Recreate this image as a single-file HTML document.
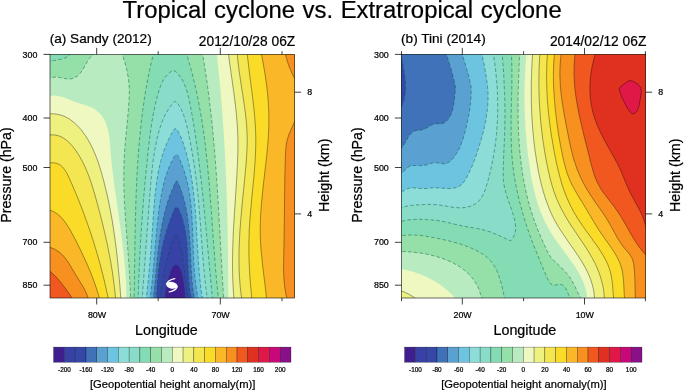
<!DOCTYPE html>
<html><head><meta charset="utf-8"><title>Tropical cyclone vs. Extratropical cyclone</title>
<style>
html,body{margin:0;padding:0;background:#fff;}
svg{display:block;}
text{font-family:"Liberation Sans",sans-serif;fill:#000;stroke:#000;stroke-width:0.22px;}
</style></head><body>
<svg width="685" height="392" viewBox="0 0 685 392">
<rect width="685" height="392" fill="#fff"/>
<defs>
<clipPath id="ca"><rect x="50.0" y="54.4" width="244.6" height="243.6"/></clipPath>
<clipPath id="cb"><rect x="401.4" y="54.4" width="244.3" height="243.6"/></clipPath>
</defs>
<text x="342.1" y="18.4" font-size="23.85" word-spacing="1" text-anchor="middle">Tropical cyclone vs. Extratropical cyclone</text>
<g clip-path="url(#ca)">
<rect x="50.0" y="54.4" width="244.6" height="243.6" fill="#b8ecc0"/>
<path d="M46.8,96.4 L49.8,96.0 L51.8,95.7 L53.8,95.6 L55.8,95.7 L57.7,95.9 L59.7,96.3 L61.5,96.7 L63.4,97.3 L65.3,98.0 L67.2,98.7 L69.0,99.4 L70.9,100.2 L72.8,100.9 L74.7,101.7 L76.6,102.4 L78.6,103.1 L80.6,103.7 L82.6,104.3 L84.6,104.9 L86.5,105.6 L88.5,106.2 L90.4,107.0 L92.2,107.8 L93.9,108.7 L95.6,109.8 L97.1,110.9 L98.6,112.2 L99.9,113.6 L101.2,115.1 L102.3,116.7 L103.4,118.3 L104.4,120.1 L105.3,121.8 L106.0,123.7 L106.7,125.5 L107.3,127.4 L107.9,129.3 L108.3,131.3 L108.7,133.2 L109.0,135.2 L109.3,137.2 L109.6,139.2 L109.8,141.2 L110.0,143.3 L110.1,145.3 L110.3,147.3 L110.4,149.4 L110.6,151.4 L110.8,153.5 L111.0,155.5 L111.1,157.5 L111.3,159.5 L111.5,161.6 L111.7,163.6 L112.0,165.6 L112.2,167.6 L112.4,169.7 L112.7,171.7 L112.9,173.7 L113.1,175.7 L113.4,177.7 L113.6,179.7 L113.9,181.7 L114.2,183.7 L114.4,185.7 L114.7,187.7 L115.0,189.7 L115.2,191.7 L115.5,193.7 L115.8,195.7 L116.1,197.7 L116.4,199.7 L116.7,201.7 L116.9,203.7 L117.2,205.7 L117.5,207.7 L117.8,209.7 L118.1,211.7 L118.4,213.7 L118.7,215.7 L118.9,217.7 L119.2,219.6 L119.5,221.6 L119.8,223.6 L120.1,225.6 L120.4,227.6 L120.6,229.6 L120.9,231.6 L121.2,233.6 L121.4,235.6 L121.7,237.6 L122.0,239.6 L122.2,241.5 L122.5,243.5 L122.7,245.5 L122.9,247.5 L123.2,249.5 L123.4,251.5 L123.6,253.5 L123.8,255.5 L124.0,257.5 L124.2,259.5 L124.4,261.5 L124.6,263.5 L124.8,265.5 L124.9,267.5 L125.1,269.6 L125.3,271.6 L125.4,273.6 L125.5,275.6 L125.7,277.6 L125.8,279.6 L125.9,281.7 L126.0,283.7 L126.1,285.7 L126.1,287.7 L126.2,289.8 L126.2,291.8 L126.3,293.8 L126.3,295.9 L126.3,297.9 L126.3,300.9 L126.3,313.0 L35.0,313.0 L35.0,96.4Z" fill="#eef8c0"/>
<path d="M46.8,114.0 L49.8,113.9 L51.9,113.8 L54.0,113.9 L56.1,114.1 L58.0,114.4 L60.0,114.9 L61.8,115.4 L63.7,116.1 L65.5,116.9 L67.2,117.8 L68.9,118.7 L70.5,119.8 L72.1,121.0 L73.7,122.2 L75.2,123.5 L76.6,124.9 L78.0,126.3 L79.4,127.8 L80.7,129.3 L82.0,130.9 L83.2,132.6 L84.4,134.2 L85.6,135.9 L86.7,137.6 L87.8,139.4 L88.8,141.1 L89.8,142.9 L90.8,144.7 L91.7,146.5 L92.6,148.4 L93.4,150.2 L94.2,152.1 L95.0,154.0 L95.8,155.9 L96.6,157.8 L97.3,159.7 L98.0,161.7 L98.6,163.6 L99.3,165.6 L99.9,167.5 L100.5,169.5 L101.1,171.4 L101.7,173.4 L102.2,175.4 L102.8,177.4 L103.3,179.4 L103.8,181.3 L104.3,183.3 L104.8,185.3 L105.3,187.3 L105.8,189.3 L106.3,191.3 L106.8,193.3 L107.2,195.2 L107.6,197.2 L108.1,199.2 L108.5,201.2 L108.9,203.2 L109.3,205.2 L109.7,207.2 L110.1,209.2 L110.5,211.2 L110.9,213.2 L111.2,215.1 L111.6,217.1 L111.9,219.1 L112.3,221.1 L112.6,223.1 L112.9,225.1 L113.2,227.1 L113.5,229.1 L113.8,231.1 L114.1,233.1 L114.4,235.1 L114.7,237.1 L115.0,239.1 L115.2,241.2 L115.5,243.2 L115.8,245.2 L116.0,247.2 L116.3,249.2 L116.5,251.2 L116.7,253.2 L117.0,255.2 L117.2,257.3 L117.4,259.3 L117.6,261.3 L117.8,263.3 L118.0,265.3 L118.2,267.4 L118.4,269.4 L118.6,271.4 L118.8,273.4 L119.0,275.5 L119.2,277.5 L119.3,279.5 L119.5,281.6 L119.7,283.6 L119.9,285.6 L120.0,287.7 L120.2,289.7 L120.3,291.8 L120.5,293.8 L120.6,295.9 L120.8,297.9 L121.0,300.9 L121.0,313.0 L35.0,313.0 L35.0,114.0Z" fill="#eef080"/>
<path d="M46.8,135.2 L49.8,135.0 L51.9,134.9 L54.0,134.9 L55.9,135.2 L57.8,135.6 L59.7,136.2 L61.5,137.0 L63.2,137.9 L64.8,139.0 L66.4,140.2 L67.9,141.4 L69.4,142.8 L70.8,144.3 L72.2,145.9 L73.5,147.5 L74.8,149.1 L76.0,150.8 L77.2,152.6 L78.3,154.3 L79.4,156.1 L80.4,157.9 L81.4,159.7 L82.4,161.5 L83.3,163.3 L84.2,165.2 L85.1,167.0 L85.9,168.9 L86.7,170.8 L87.5,172.6 L88.2,174.5 L89.0,176.4 L89.6,178.3 L90.3,180.3 L91.0,182.2 L91.6,184.1 L92.2,186.1 L92.9,188.0 L93.4,190.0 L94.0,191.9 L94.6,193.9 L95.2,195.8 L95.7,197.8 L96.3,199.8 L96.8,201.7 L97.4,203.7 L97.9,205.7 L98.4,207.7 L98.9,209.6 L99.5,211.6 L100.0,213.6 L100.5,215.6 L101.0,217.5 L101.5,219.5 L102.0,221.5 L102.5,223.5 L103.0,225.5 L103.5,227.5 L103.9,229.4 L104.4,231.4 L104.9,233.4 L105.3,235.4 L105.8,237.4 L106.2,239.4 L106.7,241.4 L107.1,243.4 L107.5,245.4 L107.9,247.4 L108.3,249.4 L108.7,251.4 L109.1,253.4 L109.5,255.4 L109.9,257.4 L110.2,259.4 L110.6,261.4 L111.0,263.4 L111.3,265.5 L111.6,267.5 L112.0,269.5 L112.3,271.5 L112.6,273.5 L112.9,275.6 L113.2,277.6 L113.4,279.6 L113.7,281.6 L114.0,283.7 L114.2,285.7 L114.5,287.7 L114.7,289.8 L114.9,291.8 L115.1,293.8 L115.3,295.9 L115.5,297.9 L115.8,300.9 L115.8,313.0 L35.0,313.0 L35.0,135.2Z" fill="#f4e650"/>
<path d="M46.8,163.4 L49.8,163.1 L52.1,162.8 L54.1,162.9 L56.1,163.2 L57.8,163.8 L59.4,164.6 L60.9,165.6 L62.3,166.9 L63.6,168.3 L64.7,169.8 L65.8,171.5 L66.8,173.2 L67.8,175.1 L68.7,177.0 L69.6,178.9 L70.5,180.9 L71.3,182.8 L72.2,184.7 L73.0,186.6 L73.8,188.6 L74.6,190.5 L75.4,192.4 L76.2,194.3 L77.0,196.2 L77.8,198.1 L78.6,200.1 L79.3,202.0 L80.1,203.9 L80.8,205.8 L81.6,207.7 L82.3,209.6 L83.0,211.5 L83.7,213.4 L84.4,215.3 L85.1,217.2 L85.8,219.2 L86.5,221.1 L87.2,223.0 L87.9,224.9 L88.6,226.9 L89.2,228.8 L89.9,230.7 L90.5,232.7 L91.2,234.6 L91.8,236.6 L92.4,238.5 L93.1,240.5 L93.7,242.4 L94.3,244.4 L94.9,246.3 L95.5,248.3 L96.1,250.2 L96.7,252.2 L97.3,254.2 L97.8,256.1 L98.4,258.1 L98.9,260.1 L99.5,262.0 L100.0,264.0 L100.6,266.0 L101.1,268.0 L101.6,270.0 L102.1,271.9 L102.6,273.9 L103.1,275.9 L103.6,277.9 L104.1,279.9 L104.6,281.9 L105.0,283.9 L105.5,285.9 L106.0,287.9 L106.4,289.9 L106.8,291.9 L107.3,293.9 L107.7,295.9 L108.1,297.9 L108.7,300.8 L108.7,313.0 L35.0,313.0 L35.0,163.4Z" fill="#fadc28"/>
<path d="M47.0,209.2 L49.8,210.2 L51.8,210.9 L53.6,211.7 L55.4,212.7 L57.1,213.8 L58.6,215.0 L60.1,216.3 L61.5,217.7 L62.9,219.2 L64.1,220.8 L65.4,222.5 L66.5,224.2 L67.7,225.9 L68.8,227.7 L69.8,229.5 L70.9,231.3 L71.9,233.1 L72.9,235.0 L73.9,236.8 L74.9,238.7 L75.8,240.5 L76.8,242.4 L77.7,244.3 L78.6,246.1 L79.5,248.0 L80.5,249.9 L81.3,251.7 L82.2,253.6 L83.1,255.5 L84.0,257.4 L84.9,259.2 L85.7,261.1 L86.6,263.0 L87.4,264.9 L88.2,266.8 L89.0,268.7 L89.8,270.5 L90.6,272.4 L91.4,274.4 L92.1,276.3 L92.9,278.2 L93.6,280.1 L94.3,282.1 L95.0,284.0 L95.6,286.0 L96.3,287.9 L96.9,289.9 L97.6,291.9 L98.2,293.9 L98.7,295.9 L99.3,297.9 L100.1,300.8 L100.1,313.0 L35.0,313.0 L35.0,209.2Z" fill="#fab828"/>
<path d="M46.9,246.5 L49.8,247.4 L52.0,248.1 L54.0,248.9 L55.9,249.9 L57.7,251.0 L59.4,252.2 L60.9,253.5 L62.4,254.9 L63.8,256.4 L65.1,258.0 L66.3,259.7 L67.5,261.3 L68.7,263.1 L69.8,264.9 L70.9,266.7 L71.9,268.5 L73.0,270.3 L74.1,272.1 L75.2,273.9 L76.3,275.7 L77.4,277.5 L78.5,279.3 L79.6,281.1 L80.7,282.9 L81.8,284.7 L82.9,286.5 L83.9,288.3 L84.8,290.1 L85.8,292.0 L86.6,293.9 L87.4,295.9 L88.1,297.9 L89.1,300.7 L89.1,313.0 L35.0,313.0 L35.0,246.5Z" fill="#f89020"/>
<path d="M47.5,269.3 L49.8,271.2 L51.5,272.6 L53.1,274.1 L54.7,275.6 L56.2,277.1 L57.7,278.7 L59.1,280.4 L60.5,282.0 L61.9,283.7 L63.2,285.4 L64.5,287.2 L65.8,289.0 L67.1,290.7 L68.3,292.5 L69.6,294.3 L70.8,296.1 L72.0,297.9 L73.7,300.4 L73.7,313.0 L35.0,313.0 L35.0,269.3Z" fill="#f05820"/>
<path d="M216.5,51.1 L216.8,54.1 L217.0,56.1 L217.2,58.1 L217.5,60.1 L217.7,62.1 L217.9,64.1 L218.1,66.1 L218.3,68.2 L218.5,70.2 L218.7,72.2 L218.9,74.2 L219.1,76.2 L219.3,78.2 L219.5,80.2 L219.7,82.2 L219.9,84.2 L220.1,86.2 L220.3,88.2 L220.4,90.3 L220.6,92.3 L220.8,94.3 L221.0,96.3 L221.1,98.3 L221.3,100.3 L221.5,102.3 L221.6,104.3 L221.8,106.3 L222.0,108.4 L222.1,110.4 L222.3,112.4 L222.4,114.4 L222.6,116.4 L222.7,118.4 L222.9,120.4 L223.0,122.4 L223.1,124.5 L223.3,126.5 L223.4,128.5 L223.5,130.5 L223.7,132.5 L223.8,134.5 L223.9,136.5 L224.1,138.5 L224.2,140.6 L224.3,142.6 L224.4,144.6 L224.5,146.6 L224.6,148.6 L224.7,150.6 L224.9,152.6 L225.0,154.7 L225.1,156.7 L225.2,158.7 L225.3,160.7 L225.4,162.7 L225.5,164.7 L225.6,166.7 L225.7,168.8 L225.7,170.8 L225.8,172.8 L225.9,174.8 L226.0,176.8 L226.1,178.8 L226.2,180.9 L226.3,182.9 L226.3,184.9 L226.4,186.9 L226.5,188.9 L226.5,190.9 L226.6,193.0 L226.7,195.0 L226.8,197.0 L226.8,199.0 L226.9,201.0 L226.9,203.0 L227.0,205.1 L227.1,207.1 L227.1,209.1 L227.2,211.1 L227.2,213.1 L227.3,215.1 L227.3,217.2 L227.4,219.2 L227.4,221.2 L227.5,223.2 L227.5,225.2 L227.5,227.2 L227.6,229.3 L227.6,231.3 L227.7,233.3 L227.7,235.3 L227.7,237.3 L227.8,239.4 L227.8,241.4 L227.8,243.4 L227.9,245.4 L227.9,247.4 L227.9,249.4 L227.9,251.5 L228.0,253.5 L228.0,255.5 L228.0,257.5 L228.0,259.5 L228.1,261.6 L228.1,263.6 L228.1,265.6 L228.1,267.6 L228.1,269.6 L228.2,271.7 L228.2,273.7 L228.2,275.7 L228.2,277.7 L228.2,279.7 L228.2,281.7 L228.2,283.8 L228.2,285.8 L228.3,287.8 L228.3,289.8 L228.3,291.8 L228.3,293.9 L228.3,295.9 L228.3,297.9 L228.3,300.9 L228.3,313.0 L309.6,313.0 L309.6,39.4 L216.5,39.4Z" fill="#eef8c0"/>
<path d="M228.1,51.1 L228.5,54.1 L228.8,56.1 L229.0,58.1 L229.3,60.1 L229.5,62.1 L229.8,64.1 L230.1,66.1 L230.4,68.1 L230.7,70.1 L230.9,72.1 L231.2,74.1 L231.5,76.1 L231.8,78.2 L232.1,80.2 L232.4,82.2 L232.6,84.2 L232.9,86.2 L233.2,88.2 L233.5,90.2 L233.8,92.2 L234.0,94.2 L234.3,96.2 L234.5,98.2 L234.8,100.2 L235.0,102.2 L235.3,104.2 L235.5,106.2 L235.7,108.2 L236.0,110.2 L236.2,112.3 L236.4,114.3 L236.6,116.3 L236.7,118.3 L236.9,120.3 L237.1,122.3 L237.2,124.3 L237.3,126.3 L237.5,128.3 L237.6,130.3 L237.7,132.4 L237.7,134.4 L237.8,136.4 L237.9,138.4 L237.9,140.4 L237.9,142.4 L237.9,144.4 L237.9,146.4 L237.9,148.5 L237.9,150.5 L237.8,152.5 L237.8,154.5 L237.7,156.5 L237.6,158.5 L237.6,160.6 L237.5,162.6 L237.4,164.6 L237.3,166.6 L237.2,168.6 L237.1,170.7 L237.0,172.7 L236.9,174.7 L236.8,176.7 L236.7,178.7 L236.5,180.7 L236.4,182.8 L236.3,184.8 L236.2,186.8 L236.0,188.8 L235.9,190.8 L235.8,192.9 L235.6,194.9 L235.5,196.9 L235.4,198.9 L235.3,200.9 L235.1,202.9 L235.0,205.0 L234.9,207.0 L234.7,209.0 L234.6,211.0 L234.5,213.0 L234.3,215.1 L234.2,217.1 L234.1,219.1 L234.0,221.1 L233.9,223.1 L233.7,225.2 L233.6,227.2 L233.5,229.2 L233.4,231.2 L233.3,233.2 L233.2,235.3 L233.1,237.3 L233.1,239.3 L233.0,241.3 L232.9,243.3 L232.8,245.4 L232.8,247.4 L232.7,249.4 L232.7,251.4 L232.6,253.4 L232.6,255.5 L232.6,257.5 L232.5,259.5 L232.5,261.5 L232.5,263.5 L232.5,265.6 L232.5,267.6 L232.5,269.6 L232.6,271.6 L232.6,273.6 L232.7,275.7 L232.7,277.7 L232.8,279.7 L232.9,281.7 L233.0,283.7 L233.1,285.8 L233.2,287.8 L233.3,289.8 L233.4,291.8 L233.6,293.9 L233.7,295.9 L233.9,297.9 L234.2,300.9 L234.2,313.0 L309.6,313.0 L309.6,39.4 L228.1,39.4Z" fill="#eef080"/>
<path d="M237.1,51.1 L237.3,54.1 L237.5,56.1 L237.6,58.1 L237.8,60.1 L238.1,62.1 L238.3,64.1 L238.5,66.1 L238.8,68.1 L239.0,70.2 L239.3,72.2 L239.6,74.2 L239.9,76.2 L240.2,78.2 L240.5,80.2 L240.8,82.2 L241.1,84.2 L241.4,86.2 L241.7,88.2 L242.0,90.2 L242.3,92.2 L242.7,94.3 L243.0,96.3 L243.3,98.3 L243.6,100.3 L243.9,102.3 L244.2,104.3 L244.5,106.3 L244.7,108.3 L245.0,110.3 L245.3,112.3 L245.5,114.3 L245.7,116.4 L246.0,118.4 L246.2,120.4 L246.4,122.4 L246.5,124.4 L246.7,126.4 L246.8,128.4 L246.9,130.4 L247.0,132.4 L247.1,134.5 L247.2,136.5 L247.2,138.5 L247.2,140.5 L247.2,142.5 L247.1,144.5 L247.1,146.5 L247.0,148.5 L246.9,150.6 L246.8,152.6 L246.7,154.6 L246.6,156.6 L246.4,158.6 L246.3,160.6 L246.1,162.6 L246.0,164.7 L245.8,166.7 L245.6,168.7 L245.4,170.7 L245.3,172.7 L245.1,174.7 L244.9,176.7 L244.7,178.8 L244.5,180.8 L244.3,182.8 L244.1,184.8 L243.9,186.8 L243.7,188.8 L243.5,190.8 L243.3,192.9 L243.1,194.9 L242.9,196.9 L242.7,198.9 L242.5,200.9 L242.3,202.9 L242.1,205.0 L241.9,207.0 L241.7,209.0 L241.5,211.0 L241.4,213.0 L241.2,215.1 L241.0,217.1 L240.8,219.1 L240.7,221.1 L240.5,223.1 L240.4,225.1 L240.2,227.2 L240.1,229.2 L239.9,231.2 L239.8,233.2 L239.7,235.2 L239.6,237.3 L239.5,239.3 L239.4,241.3 L239.3,243.3 L239.2,245.3 L239.1,247.4 L239.1,249.4 L239.0,251.4 L239.0,253.4 L239.0,255.4 L239.0,257.5 L239.0,259.5 L239.0,261.5 L239.0,263.5 L239.0,265.5 L239.1,267.6 L239.1,269.6 L239.2,271.6 L239.3,273.6 L239.4,275.6 L239.5,277.7 L239.7,279.7 L239.8,281.7 L240.0,283.7 L240.1,285.8 L240.3,287.8 L240.6,289.8 L240.8,291.8 L241.0,293.9 L241.3,295.9 L241.6,297.9 L242.0,300.9 L242.0,313.0 L309.6,313.0 L309.6,39.4 L237.1,39.4Z" fill="#f4e650"/>
<path d="M247.0,51.1 L247.3,54.1 L247.5,56.1 L247.7,58.1 L247.9,60.1 L248.2,62.1 L248.4,64.1 L248.6,66.1 L248.9,68.2 L249.1,70.2 L249.4,72.2 L249.6,74.2 L249.9,76.2 L250.1,78.2 L250.4,80.2 L250.7,82.2 L250.9,84.2 L251.2,86.2 L251.5,88.2 L251.7,90.3 L252.0,92.3 L252.2,94.3 L252.5,96.3 L252.7,98.3 L253.0,100.3 L253.2,102.3 L253.4,104.3 L253.7,106.3 L253.9,108.4 L254.1,110.4 L254.3,112.4 L254.5,114.4 L254.6,116.4 L254.8,118.4 L255.0,120.4 L255.1,122.4 L255.2,124.5 L255.4,126.5 L255.5,128.5 L255.6,130.5 L255.6,132.5 L255.7,134.5 L255.7,136.5 L255.8,138.6 L255.8,140.6 L255.8,142.6 L255.7,144.6 L255.7,146.6 L255.7,148.6 L255.6,150.6 L255.5,152.7 L255.4,154.7 L255.3,156.7 L255.2,158.7 L255.1,160.7 L255.0,162.7 L254.8,164.7 L254.7,166.8 L254.5,168.8 L254.4,170.8 L254.2,172.8 L254.0,174.8 L253.9,176.8 L253.7,178.9 L253.5,180.9 L253.3,182.9 L253.1,184.9 L252.9,186.9 L252.7,188.9 L252.5,190.9 L252.3,193.0 L252.1,195.0 L251.9,197.0 L251.7,199.0 L251.5,201.0 L251.3,203.0 L251.2,205.1 L251.0,207.1 L250.8,209.1 L250.6,211.1 L250.5,213.1 L250.3,215.1 L250.1,217.1 L250.0,219.2 L249.8,221.2 L249.7,223.2 L249.6,225.2 L249.5,227.2 L249.3,229.2 L249.2,231.3 L249.2,233.3 L249.1,235.3 L249.0,237.3 L249.0,239.3 L248.9,241.4 L248.9,243.4 L248.9,245.4 L248.9,247.4 L248.9,249.4 L248.9,251.4 L248.9,253.5 L248.9,255.5 L249.0,257.5 L249.0,259.5 L249.1,261.5 L249.2,263.6 L249.3,265.6 L249.4,267.6 L249.5,269.6 L249.6,271.6 L249.7,273.7 L249.8,275.7 L250.0,277.7 L250.1,279.7 L250.3,281.7 L250.4,283.8 L250.6,285.8 L250.8,287.8 L251.0,289.8 L251.2,291.8 L251.4,293.9 L251.6,295.9 L251.8,297.9 L252.1,300.9 L252.1,313.0 L309.6,313.0 L309.6,39.4 L247.0,39.4Z" fill="#fadc28"/>
<path d="M260.8,51.2 L261.4,54.1 L261.8,56.1 L262.2,58.1 L262.6,60.1 L262.9,62.1 L263.3,64.1 L263.6,66.1 L264.0,68.1 L264.3,70.1 L264.7,72.1 L265.0,74.1 L265.3,76.1 L265.6,78.1 L265.9,80.1 L266.2,82.1 L266.4,84.1 L266.7,86.1 L266.9,88.1 L267.2,90.1 L267.4,92.2 L267.6,94.2 L267.8,96.2 L267.9,98.2 L268.1,100.2 L268.3,102.3 L268.4,104.3 L268.5,106.3 L268.6,108.3 L268.7,110.3 L268.8,112.4 L268.8,114.4 L268.8,116.4 L268.9,118.4 L268.9,120.4 L268.8,122.5 L268.8,124.5 L268.8,126.5 L268.7,128.5 L268.6,130.5 L268.5,132.6 L268.4,134.6 L268.3,136.6 L268.2,138.6 L268.0,140.6 L267.9,142.7 L267.7,144.7 L267.5,146.7 L267.4,148.7 L267.2,150.7 L267.0,152.8 L266.8,154.8 L266.6,156.8 L266.3,158.8 L266.1,160.8 L265.9,162.8 L265.7,164.9 L265.4,166.9 L265.2,168.9 L265.0,170.9 L264.7,172.9 L264.5,174.9 L264.3,176.9 L264.0,179.0 L263.8,181.0 L263.6,183.0 L263.3,185.0 L263.1,187.0 L262.9,189.0 L262.7,191.0 L262.5,193.0 L262.3,195.1 L262.1,197.1 L261.9,199.1 L261.7,201.1 L261.5,203.1 L261.3,205.1 L261.2,207.1 L261.0,209.1 L260.9,211.2 L260.8,213.2 L260.6,215.2 L260.5,217.2 L260.5,219.2 L260.4,221.2 L260.3,223.2 L260.3,225.3 L260.2,227.3 L260.2,229.3 L260.2,231.3 L260.2,233.3 L260.3,235.3 L260.3,237.4 L260.4,239.4 L260.5,241.4 L260.6,243.4 L260.7,245.4 L260.9,247.5 L261.0,249.5 L261.2,251.5 L261.4,253.5 L261.6,255.5 L261.8,257.6 L262.0,259.6 L262.2,261.6 L262.4,263.6 L262.6,265.7 L262.9,267.7 L263.1,269.7 L263.4,271.7 L263.6,273.7 L263.9,275.8 L264.1,277.8 L264.4,279.8 L264.6,281.8 L264.9,283.8 L265.1,285.8 L265.3,287.9 L265.6,289.9 L265.8,291.9 L266.0,293.9 L266.2,295.9 L266.4,297.9 L266.7,300.9 L266.7,313.0 L309.6,313.0 L309.6,39.4 L260.8,39.4Z" fill="#fab828"/>
<path d="M284.7,51.2 L285.4,54.1 L285.9,56.2 L286.5,58.3 L287.1,60.4 L287.7,62.5 L288.4,64.6 L289.2,66.6 L290.0,68.6 L290.8,70.6 L291.7,72.6 L292.6,74.6 L293.6,76.6 L294.6,78.5 L296.0,81.2 L309.6,81.2 L309.6,39.4 L284.7,39.4Z" fill="#f89020"/>
<path d="M295.9,119.2 L294.6,121.9 L293.7,123.8 L292.9,125.6 L292.0,127.5 L291.2,129.3 L290.3,131.2 L289.6,133.0 L288.8,134.9 L288.2,136.8 L287.6,138.7 L287.1,140.6 L286.6,142.6 L286.3,144.5 L286.0,146.5 L285.9,148.5 L285.7,150.5 L285.6,152.5 L285.5,154.6 L285.4,156.6 L285.3,158.6 L285.3,160.6 L285.2,162.6 L285.1,164.7 L285.1,166.7 L285.0,168.7 L285.0,170.7 L284.9,172.7 L284.9,174.8 L284.9,176.8 L284.8,178.8 L284.8,180.8 L284.8,182.9 L284.7,184.9 L284.7,186.9 L284.7,188.9 L284.7,191.0 L284.6,193.0 L284.6,195.0 L284.6,197.0 L284.6,199.1 L284.6,201.1 L284.5,203.1 L284.5,205.1 L284.5,207.2 L284.5,209.2 L284.5,211.2 L284.4,213.2 L284.4,215.2 L284.4,217.3 L284.4,219.3 L284.3,221.3 L284.3,223.3 L284.3,225.3 L284.2,227.4 L284.2,229.4 L284.2,231.4 L284.1,233.4 L284.1,235.4 L284.1,237.5 L284.1,239.5 L284.0,241.5 L284.0,243.5 L284.0,245.5 L283.9,247.6 L283.9,249.6 L283.8,251.6 L283.8,253.6 L283.8,255.6 L283.7,257.7 L283.7,259.7 L283.7,261.7 L283.6,263.7 L283.6,265.8 L283.6,267.8 L283.6,269.8 L283.7,271.8 L283.7,273.8 L283.8,275.9 L283.9,277.9 L284.0,279.9 L284.2,281.9 L284.4,283.9 L284.6,285.9 L284.9,287.9 L285.2,289.9 L285.5,291.9 L285.9,293.9 L286.4,295.9 L286.9,297.9 L287.6,300.8 L287.6,313.0 L309.6,313.0 L309.6,119.2Z" fill="#f89020"/>
<path d="M47.1,79.8 L49.8,78.5 L51.7,77.6 L53.7,77.2 L55.8,77.1 L57.9,77.2 L60.1,77.6 L62.2,78.0 L64.4,78.5 L66.5,78.8 L68.5,79.0 L70.5,78.9 L72.4,78.5 L74.2,77.9 L75.9,77.0 L77.5,75.9 L79.0,74.6 L80.4,73.1 L81.6,71.4 L82.8,69.6 L83.9,67.7 L85.0,65.8 L86.1,63.8 L87.2,61.9 L88.3,60.0 L89.5,58.3 L90.8,56.7 L92.3,55.3 L93.9,54.1 L96.3,52.3 L96.3,39.4 L35.0,39.4 L35.0,79.8Z" fill="#94e0a8"/>
<path d="M46.9,62.1 L49.8,61.4 L51.9,60.9 L54.1,60.5 L56.3,60.1 L58.5,59.7 L60.8,59.2 L63.0,58.7 L65.1,57.9 L67.0,56.9 L68.9,55.7 L70.5,54.1 L72.7,52.0 L72.7,39.4 L35.0,39.4 L35.0,62.1Z" fill="#84dcb4"/>
<path d="M120.8,51.3 L121.9,54.1 L122.7,56.0 L123.4,58.0 L124.0,59.9 L124.7,61.9 L125.3,63.8 L125.8,65.8 L126.3,67.7 L126.8,69.7 L127.2,71.7 L127.6,73.7 L127.9,75.7 L128.3,77.7 L128.5,79.6 L128.7,81.6 L128.9,83.6 L129.1,85.7 L129.2,87.7 L129.2,89.7 L129.3,91.7 L129.3,93.7 L129.2,95.7 L129.2,97.7 L129.1,99.7 L128.9,101.7 L128.8,103.8 L128.7,105.8 L128.5,107.8 L128.4,109.8 L128.2,111.8 L128.0,113.8 L127.8,115.9 L127.7,117.9 L127.5,119.9 L127.3,121.9 L127.1,123.9 L126.9,126.0 L126.7,128.0 L126.5,130.0 L126.3,132.0 L126.1,134.1 L125.9,136.1 L125.7,138.1 L125.5,140.1 L125.3,142.1 L125.2,144.2 L125.0,146.2 L124.8,148.2 L124.7,150.2 L124.6,152.3 L124.4,154.3 L124.3,156.3 L124.2,158.3 L124.1,160.4 L124.0,162.4 L124.0,164.4 L123.9,166.4 L123.9,168.5 L123.8,170.5 L123.8,172.5 L123.8,174.5 L123.8,176.5 L123.8,178.6 L123.8,180.6 L123.9,182.6 L123.9,184.6 L123.9,186.7 L124.0,188.7 L124.0,190.7 L124.1,192.7 L124.2,194.7 L124.3,196.8 L124.4,198.8 L124.4,200.8 L124.5,202.8 L124.7,204.9 L124.8,206.9 L124.9,208.9 L125.0,210.9 L125.1,213.0 L125.3,215.0 L125.4,217.0 L125.5,219.0 L125.7,221.0 L125.8,223.1 L126.0,225.1 L126.1,227.1 L126.3,229.1 L126.4,231.2 L126.6,233.2 L126.7,235.2 L126.9,237.2 L127.0,239.2 L127.2,241.3 L127.4,243.3 L127.5,245.3 L127.7,247.3 L127.8,249.4 L128.0,251.4 L128.1,253.4 L128.3,255.4 L128.4,257.4 L128.6,259.5 L128.7,261.5 L128.9,263.5 L129.0,265.5 L129.1,267.6 L129.3,269.6 L129.4,271.6 L129.5,273.6 L129.6,275.6 L129.7,277.7 L129.8,279.7 L129.9,281.7 L130.0,283.7 L130.1,285.8 L130.2,287.8 L130.3,289.8 L130.3,291.8 L130.4,293.9 L130.5,295.9 L130.5,297.9 L130.6,300.9 L130.6,313.0 L223.8,313.0 L223.8,300.9 L223.6,297.9 L223.5,295.9 L223.3,293.9 L223.2,291.8 L223.1,289.8 L223.0,287.8 L222.9,285.8 L222.7,283.8 L222.6,281.7 L222.5,279.7 L222.4,277.7 L222.3,275.7 L222.1,273.7 L222.0,271.6 L221.9,269.6 L221.8,267.6 L221.7,265.6 L221.6,263.6 L221.5,261.5 L221.3,259.5 L221.2,257.5 L221.1,255.5 L221.0,253.5 L220.9,251.4 L220.8,249.4 L220.7,247.4 L220.6,245.4 L220.4,243.3 L220.3,241.3 L220.2,239.3 L220.1,237.3 L220.0,235.3 L219.9,233.2 L219.8,231.2 L219.7,229.2 L219.6,227.2 L219.5,225.2 L219.3,223.1 L219.2,221.1 L219.1,219.1 L219.0,217.1 L218.9,215.1 L218.8,213.0 L218.7,211.0 L218.5,209.0 L218.4,207.0 L218.3,205.0 L218.2,202.9 L218.1,200.9 L217.9,198.9 L217.8,196.9 L217.7,194.9 L217.6,192.8 L217.5,190.8 L217.3,188.8 L217.2,186.8 L217.1,184.8 L216.9,182.7 L216.8,180.7 L216.7,178.7 L216.5,176.7 L216.4,174.7 L216.2,172.7 L216.1,170.6 L215.9,168.6 L215.8,166.6 L215.6,164.6 L215.5,162.6 L215.3,160.6 L215.2,158.5 L215.0,156.5 L214.9,154.5 L214.7,152.5 L214.5,150.5 L214.3,148.5 L214.2,146.4 L214.0,144.4 L213.8,142.4 L213.6,140.4 L213.5,138.4 L213.3,136.4 L213.1,134.4 L212.9,132.3 L212.7,130.3 L212.5,128.3 L212.3,126.3 L212.1,124.3 L211.9,122.3 L211.7,120.3 L211.4,118.3 L211.2,116.2 L211.0,114.2 L210.8,112.2 L210.5,110.2 L210.3,108.2 L210.1,106.2 L209.8,104.2 L209.6,102.2 L209.4,100.2 L209.1,98.2 L208.8,96.2 L208.6,94.1 L208.3,92.1 L208.1,90.1 L207.8,88.1 L207.5,86.1 L207.2,84.1 L207.0,82.1 L206.7,80.1 L206.4,78.1 L206.1,76.1 L205.8,74.1 L205.5,72.1 L205.2,70.1 L204.9,68.1 L204.6,66.1 L204.3,64.1 L203.9,62.1 L203.6,60.1 L203.3,58.1 L202.9,56.1 L202.6,54.1 L202.1,51.1 L202.1,39.4 L120.8,39.4Z" fill="#94e0a8"/>
<path d="M154.2,51.2 L153.4,54.1 L152.9,56.1 L152.4,58.0 L151.9,60.0 L151.4,61.9 L151.0,63.9 L150.5,65.9 L150.1,67.9 L149.6,69.8 L149.2,71.8 L148.8,73.8 L148.4,75.8 L148.0,77.8 L147.6,79.7 L147.3,81.7 L146.9,83.7 L146.5,85.7 L146.2,87.7 L145.8,89.7 L145.5,91.7 L145.2,93.7 L144.9,95.7 L144.5,97.7 L144.2,99.7 L143.9,101.7 L143.7,103.7 L143.4,105.7 L143.1,107.7 L142.8,109.7 L142.6,111.7 L142.3,113.7 L142.1,115.7 L141.8,117.7 L141.6,119.8 L141.3,121.8 L141.1,123.8 L140.9,125.8 L140.7,127.8 L140.5,129.8 L140.3,131.9 L140.1,133.9 L139.9,135.9 L139.7,137.9 L139.5,139.9 L139.3,141.9 L139.1,144.0 L139.0,146.0 L138.8,148.0 L138.6,150.0 L138.5,152.0 L138.3,154.1 L138.2,156.1 L138.0,158.1 L137.9,160.1 L137.8,162.2 L137.6,164.2 L137.5,166.2 L137.4,168.2 L137.3,170.3 L137.2,172.3 L137.0,174.3 L136.9,176.3 L136.8,178.4 L136.7,180.4 L136.6,182.4 L136.5,184.4 L136.5,186.5 L136.4,188.5 L136.3,190.5 L136.2,192.5 L136.1,194.6 L136.1,196.6 L136.0,198.6 L135.9,200.6 L135.9,202.7 L135.8,204.7 L135.7,206.7 L135.7,208.7 L135.6,210.8 L135.6,212.8 L135.5,214.8 L135.5,216.8 L135.4,218.9 L135.4,220.9 L135.3,222.9 L135.3,224.9 L135.2,227.0 L135.2,229.0 L135.2,231.0 L135.1,233.0 L135.1,235.1 L135.1,237.1 L135.0,239.1 L135.0,241.2 L135.0,243.2 L134.9,245.2 L134.9,247.2 L134.9,249.3 L134.8,251.3 L134.8,253.3 L134.8,255.3 L134.7,257.4 L134.7,259.4 L134.7,261.4 L134.7,263.4 L134.6,265.5 L134.6,267.5 L134.6,269.5 L134.5,271.6 L134.5,273.6 L134.5,275.6 L134.5,277.6 L134.4,279.7 L134.4,281.7 L134.4,283.7 L134.3,285.7 L134.3,287.8 L134.3,289.8 L134.2,291.8 L134.2,293.8 L134.1,295.9 L134.1,297.9 L134.0,300.9 L134.0,313.0 L218.6,313.0 L218.6,300.9 L218.3,297.9 L218.1,295.9 L217.9,293.9 L217.7,291.9 L217.5,289.9 L217.3,287.9 L217.1,285.9 L216.9,283.9 L216.7,281.9 L216.5,279.9 L216.3,277.8 L216.2,275.8 L216.0,273.8 L215.8,271.8 L215.6,269.8 L215.5,267.8 L215.3,265.8 L215.1,263.8 L215.0,261.8 L214.8,259.7 L214.7,257.7 L214.5,255.7 L214.4,253.7 L214.2,251.7 L214.1,249.7 L213.9,247.7 L213.8,245.6 L213.6,243.6 L213.5,241.6 L213.3,239.6 L213.2,237.6 L213.0,235.6 L212.9,233.5 L212.8,231.5 L212.6,229.5 L212.5,227.5 L212.3,225.5 L212.2,223.4 L212.0,221.4 L211.9,219.4 L211.8,217.4 L211.6,215.4 L211.5,213.4 L211.3,211.3 L211.2,209.3 L211.0,207.3 L210.9,205.3 L210.7,203.3 L210.6,201.2 L210.4,199.2 L210.3,197.2 L210.1,195.2 L210.0,193.2 L209.8,191.2 L209.6,189.1 L209.5,187.1 L209.3,185.1 L209.1,183.1 L209.0,181.1 L208.8,179.1 L208.6,177.1 L208.4,175.1 L208.2,173.0 L208.0,171.0 L207.9,169.0 L207.7,167.0 L207.5,165.0 L207.3,163.0 L207.0,161.0 L206.8,159.0 L206.6,157.0 L206.4,155.0 L206.2,152.9 L205.9,150.9 L205.7,148.9 L205.5,146.9 L205.2,144.9 L205.0,142.9 L204.7,140.9 L204.5,138.9 L204.2,136.9 L203.9,134.9 L203.7,132.9 L203.4,130.9 L203.1,128.9 L202.8,127.0 L202.5,125.0 L202.2,123.0 L201.9,121.0 L201.6,119.0 L201.2,117.0 L200.9,115.0 L200.6,113.0 L200.2,111.0 L199.9,109.1 L199.5,107.1 L199.1,105.1 L198.8,103.1 L198.4,101.1 L198.0,99.2 L197.6,97.2 L197.2,95.2 L196.8,93.2 L196.4,91.3 L195.9,89.3 L195.5,87.3 L195.0,85.4 L194.6,83.4 L194.1,81.4 L193.6,79.5 L193.2,77.5 L192.7,75.5 L192.2,73.6 L191.7,71.6 L191.1,69.7 L190.6,67.7 L190.1,65.8 L189.5,63.8 L188.9,61.9 L188.4,59.9 L187.8,58.0 L187.2,56.0 L186.6,54.1 L185.7,51.2 L185.7,39.4 L154.2,39.4Z" fill="#84dcb4"/>
<path d="M138.0,300.9 L138.1,297.9 L138.2,295.9 L138.2,293.8 L138.3,291.8 L138.4,289.7 L138.4,287.7 L138.5,285.7 L138.6,283.6 L138.6,281.6 L138.7,279.6 L138.8,277.5 L138.9,275.5 L139.0,273.5 L139.1,271.5 L139.1,269.4 L139.2,267.4 L139.3,265.4 L139.4,263.4 L139.5,261.3 L139.6,259.3 L139.7,257.3 L139.8,255.3 L139.9,253.3 L140.0,251.2 L140.1,249.2 L140.3,247.2 L140.4,245.2 L140.5,243.2 L140.6,241.1 L140.7,239.1 L140.9,237.1 L141.0,235.1 L141.1,233.1 L141.2,231.1 L141.4,229.0 L141.5,227.0 L141.6,225.0 L141.8,223.0 L141.9,221.0 L142.1,219.0 L142.2,217.0 L142.4,214.9 L142.5,212.9 L142.7,210.9 L142.8,208.9 L143.0,206.9 L143.1,204.9 L143.3,202.9 L143.4,200.8 L143.6,198.8 L143.8,196.8 L143.9,194.8 L144.1,192.8 L144.3,190.8 L144.5,188.7 L144.6,186.7 L144.8,184.7 L145.0,182.7 L145.2,180.7 L145.4,178.7 L145.6,176.6 L145.8,174.6 L146.0,172.6 L146.2,170.6 L146.4,168.6 L146.6,166.5 L146.8,164.5 L147.0,162.5 L147.2,160.5 L147.4,158.4 L147.6,156.4 L147.8,154.4 L148.0,152.4 L148.2,150.3 L148.5,148.3 L148.7,146.3 L148.9,144.2 L149.2,142.2 L149.4,140.2 L149.6,138.1 L149.9,136.1 L150.2,134.1 L150.4,132.1 L150.7,130.0 L151.0,128.0 L151.3,126.0 L151.6,124.0 L151.9,122.0 L152.2,120.0 L152.6,118.0 L152.9,116.0 L153.3,114.0 L153.7,112.0 L154.1,110.0 L154.5,108.0 L154.9,106.0 L155.3,104.1 L155.8,102.1 L156.3,100.1 L156.8,98.2 L157.3,96.2 L157.8,94.3 L158.4,92.4 L159.0,90.4 L159.6,88.5 L160.3,86.7 L161.0,84.8 L161.8,83.0 L162.7,81.3 L163.6,79.6 L164.7,78.0 L165.9,76.4 L167.2,75.0 L168.6,73.6 L170.1,72.1 L171.5,71.2 L172.9,70.7 L174.3,70.9 L175.6,71.5 L176.9,72.6 L178.2,74.3 L179.5,75.9 L180.6,77.4 L181.7,79.1 L182.7,80.8 L183.6,82.5 L184.4,84.3 L185.1,86.1 L185.8,88.0 L186.5,89.8 L187.1,91.7 L187.6,93.7 L188.1,95.6 L188.6,97.6 L189.0,99.6 L189.5,101.6 L189.9,103.5 L190.3,105.5 L190.7,107.5 L191.0,109.5 L191.4,111.5 L191.8,113.5 L192.2,115.5 L192.5,117.5 L192.9,119.5 L193.2,121.5 L193.5,123.5 L193.9,125.5 L194.2,127.5 L194.5,129.5 L194.8,131.5 L195.1,133.5 L195.4,135.5 L195.7,137.5 L196.0,139.5 L196.3,141.5 L196.6,143.5 L196.9,145.5 L197.1,147.5 L197.4,149.5 L197.7,151.5 L197.9,153.5 L198.2,155.5 L198.4,157.5 L198.7,159.5 L198.9,161.5 L199.2,163.5 L199.4,165.5 L199.7,167.5 L199.9,169.5 L200.1,171.5 L200.4,173.5 L200.6,175.5 L200.8,177.5 L201.0,179.5 L201.3,181.5 L201.5,183.5 L201.7,185.5 L201.9,187.5 L202.1,189.5 L202.4,191.5 L202.6,193.5 L202.8,195.5 L203.0,197.5 L203.2,199.5 L203.4,201.5 L203.6,203.5 L203.8,205.5 L204.0,207.5 L204.2,209.5 L204.4,211.6 L204.6,213.6 L204.8,215.6 L205.0,217.6 L205.1,219.6 L205.3,221.6 L205.5,223.6 L205.7,225.6 L205.9,227.6 L206.1,229.6 L206.3,231.6 L206.5,233.6 L206.6,235.6 L206.8,237.6 L207.0,239.6 L207.2,241.7 L207.4,243.7 L207.5,245.7 L207.7,247.7 L207.9,249.7 L208.1,251.7 L208.3,253.7 L208.5,255.7 L208.6,257.7 L208.8,259.7 L209.0,261.7 L209.2,263.7 L209.4,265.8 L209.6,267.8 L209.7,269.8 L209.9,271.8 L210.1,273.8 L210.3,275.8 L210.5,277.8 L210.7,279.8 L210.9,281.8 L211.0,283.8 L211.2,285.8 L211.4,287.9 L211.6,289.9 L211.8,291.9 L212.0,293.9 L212.2,295.9 L212.4,297.9 L212.7,300.9 L212.7,313.0 L138.0,313.0Z" fill="#88dcc8"/>
<path d="M142.0,300.9 L142.2,297.9 L142.4,295.9 L142.5,293.8 L142.7,291.8 L142.8,289.8 L143.0,287.7 L143.1,285.7 L143.3,283.7 L143.4,281.7 L143.6,279.6 L143.7,277.6 L143.9,275.6 L144.0,273.6 L144.2,271.5 L144.3,269.5 L144.5,267.5 L144.6,265.5 L144.8,263.4 L144.9,261.4 L145.1,259.4 L145.2,257.4 L145.3,255.3 L145.5,253.3 L145.6,251.3 L145.8,249.3 L145.9,247.2 L146.1,245.2 L146.2,243.2 L146.4,241.2 L146.5,239.1 L146.7,237.1 L146.8,235.1 L147.0,233.1 L147.1,231.1 L147.3,229.0 L147.4,227.0 L147.6,225.0 L147.7,223.0 L147.9,220.9 L148.0,218.9 L148.2,216.9 L148.3,214.9 L148.5,212.8 L148.6,210.8 L148.8,208.8 L148.9,206.8 L149.1,204.7 L149.2,202.7 L149.4,200.7 L149.6,198.7 L149.7,196.6 L149.9,194.6 L150.0,192.6 L150.2,190.6 L150.4,188.5 L150.5,186.5 L150.7,184.5 L150.9,182.5 L151.0,180.4 L151.2,178.4 L151.4,176.4 L151.6,174.4 L151.8,172.3 L152.0,170.3 L152.2,168.3 L152.5,166.3 L152.7,164.2 L152.9,162.2 L153.2,160.2 L153.5,158.2 L153.8,156.2 L154.1,154.2 L154.4,152.2 L154.7,150.2 L155.1,148.2 L155.5,146.2 L155.9,144.2 L156.3,142.2 L156.7,140.2 L157.2,138.2 L157.7,136.2 L158.2,134.3 L158.7,132.3 L159.3,130.3 L159.8,128.4 L160.5,126.4 L161.1,124.5 L161.8,122.6 L162.6,120.7 L163.3,118.8 L164.2,117.0 L165.0,115.2 L166.0,113.4 L166.9,111.6 L168.0,109.9 L169.1,108.3 L170.2,106.6 L171.4,105.0 L172.6,103.3 L173.7,102.2 L174.8,101.6 L175.9,101.7 L176.9,102.4 L178.0,103.6 L179.0,105.5 L180.0,107.3 L180.9,109.0 L181.8,110.8 L182.6,112.6 L183.4,114.5 L184.1,116.4 L184.7,118.3 L185.3,120.2 L185.9,122.1 L186.4,124.0 L186.9,126.0 L187.4,128.0 L187.8,130.0 L188.3,131.9 L188.7,133.9 L189.1,135.9 L189.5,137.9 L189.9,140.0 L190.3,142.0 L190.6,144.0 L191.0,146.0 L191.4,148.0 L191.7,150.0 L192.1,152.0 L192.4,154.0 L192.8,156.0 L193.1,158.1 L193.4,160.1 L193.8,162.1 L194.1,164.1 L194.4,166.2 L194.7,168.2 L195.0,170.2 L195.2,172.2 L195.5,174.3 L195.8,176.3 L196.0,178.3 L196.3,180.3 L196.5,182.4 L196.8,184.4 L197.0,186.4 L197.2,188.4 L197.5,190.5 L197.7,192.5 L197.9,194.5 L198.1,196.5 L198.3,198.6 L198.5,200.6 L198.7,202.6 L198.8,204.7 L199.0,206.7 L199.2,208.7 L199.4,210.7 L199.5,212.8 L199.7,214.8 L199.8,216.8 L200.0,218.8 L200.2,220.9 L200.3,222.9 L200.5,224.9 L200.6,227.0 L200.8,229.0 L200.9,231.0 L201.1,233.0 L201.2,235.1 L201.4,237.1 L201.5,239.1 L201.7,241.1 L201.8,243.2 L202.0,245.2 L202.1,247.2 L202.3,249.3 L202.4,251.3 L202.6,253.3 L202.7,255.3 L202.9,257.4 L203.1,259.4 L203.2,261.4 L203.4,263.4 L203.6,265.5 L203.8,267.5 L204.0,269.5 L204.2,271.6 L204.3,273.6 L204.6,275.6 L204.8,277.6 L205.0,279.7 L205.2,281.7 L205.4,283.7 L205.6,285.7 L205.9,287.8 L206.1,289.8 L206.4,291.8 L206.7,293.8 L206.9,295.9 L207.2,297.9 L207.6,300.9 L207.6,313.0 L142.0,313.0Z" fill="#8cdcd8"/>
<path d="M146.1,300.9 L146.4,297.9 L146.6,295.9 L146.8,293.8 L147.0,291.8 L147.2,289.8 L147.4,287.8 L147.6,285.7 L147.9,283.7 L148.1,281.7 L148.3,279.7 L148.5,277.7 L148.7,275.6 L148.9,273.6 L149.1,271.6 L149.3,269.6 L149.4,267.6 L149.6,265.5 L149.8,263.5 L150.0,261.5 L150.2,259.5 L150.4,257.5 L150.5,255.5 L150.7,253.4 L150.9,251.4 L151.0,249.4 L151.2,247.4 L151.3,245.3 L151.5,243.3 L151.6,241.3 L151.8,239.3 L151.9,237.2 L152.1,235.2 L152.2,233.2 L152.3,231.2 L152.5,229.1 L152.6,227.1 L152.7,225.1 L152.8,223.0 L153.0,221.0 L153.1,219.0 L153.3,216.9 L153.4,214.9 L153.5,212.9 L153.7,210.9 L153.9,208.8 L154.0,206.8 L154.2,204.8 L154.4,202.7 L154.5,200.7 L154.7,198.7 L154.9,196.6 L155.1,194.6 L155.3,192.6 L155.6,190.6 L155.8,188.5 L156.1,186.5 L156.3,184.5 L156.6,182.5 L156.9,180.5 L157.2,178.5 L157.5,176.5 L157.9,174.5 L158.2,172.5 L158.6,170.5 L159.0,168.5 L159.5,166.5 L159.9,164.5 L160.4,162.6 L160.9,160.6 L161.4,158.7 L162.0,156.7 L162.6,154.8 L163.2,152.9 L163.8,151.0 L164.5,149.1 L165.2,147.2 L166.0,145.3 L166.7,143.5 L167.6,141.6 L168.4,139.8 L169.3,138.0 L170.2,136.2 L171.2,134.4 L172.2,132.6 L173.1,130.7 L174.1,129.4 L175.0,128.8 L175.9,128.8 L176.8,129.4 L177.7,130.6 L178.6,132.5 L179.5,134.3 L180.4,136.1 L181.2,137.9 L181.9,139.8 L182.7,141.6 L183.4,143.5 L184.0,145.4 L184.6,147.3 L185.2,149.2 L185.8,151.2 L186.3,153.1 L186.8,155.1 L187.3,157.0 L187.8,159.0 L188.3,161.0 L188.7,163.0 L189.1,164.9 L189.5,166.9 L189.9,168.9 L190.3,170.9 L190.7,172.9 L191.0,174.9 L191.4,176.9 L191.7,178.9 L192.0,180.9 L192.3,182.9 L192.6,184.9 L192.9,187.0 L193.1,189.0 L193.4,191.0 L193.6,193.0 L193.9,195.0 L194.1,197.1 L194.3,199.1 L194.5,201.1 L194.7,203.1 L194.9,205.1 L195.0,207.1 L195.2,209.2 L195.4,211.2 L195.5,213.2 L195.7,215.2 L195.8,217.2 L195.9,219.3 L196.1,221.3 L196.2,223.3 L196.3,225.3 L196.4,227.3 L196.5,229.4 L196.7,231.4 L196.8,233.4 L196.9,235.4 L197.0,237.4 L197.1,239.4 L197.2,241.5 L197.3,243.5 L197.4,245.5 L197.5,247.5 L197.7,249.5 L197.8,251.5 L197.9,253.6 L198.0,255.6 L198.2,257.6 L198.3,259.6 L198.4,261.6 L198.6,263.6 L198.7,265.7 L198.9,267.7 L199.0,269.7 L199.2,271.7 L199.4,273.7 L199.6,275.7 L199.8,277.8 L200.0,279.8 L200.2,281.8 L200.4,283.8 L200.6,285.8 L200.9,287.8 L201.1,289.8 L201.4,291.9 L201.7,293.9 L202.0,295.9 L202.3,297.9 L202.8,300.9 L202.8,313.0 L146.1,313.0Z" fill="#6cc4e0"/>
<path d="M149.8,300.9 L150.2,297.9 L150.5,295.9 L150.7,293.9 L151.0,291.9 L151.2,289.8 L151.4,287.8 L151.6,285.8 L151.9,283.8 L152.1,281.8 L152.3,279.8 L152.5,277.7 L152.7,275.7 L152.9,273.7 L153.0,271.7 L153.2,269.6 L153.4,267.6 L153.6,265.6 L153.8,263.5 L153.9,261.5 L154.1,259.5 L154.3,257.5 L154.5,255.4 L154.6,253.4 L154.8,251.4 L155.0,249.3 L155.1,247.3 L155.3,245.3 L155.5,243.2 L155.7,241.2 L155.9,239.2 L156.0,237.2 L156.2,235.1 L156.4,233.1 L156.6,231.1 L156.8,229.0 L157.0,227.0 L157.2,225.0 L157.5,223.0 L157.7,220.9 L157.9,218.9 L158.1,216.9 L158.4,214.9 L158.6,212.8 L158.9,210.8 L159.2,208.8 L159.4,206.8 L159.7,204.8 L160.0,202.7 L160.3,200.7 L160.7,198.7 L161.0,196.7 L161.4,194.7 L161.7,192.7 L162.1,190.7 L162.5,188.7 L163.0,186.8 L163.4,184.8 L163.9,182.8 L164.4,180.9 L165.0,178.9 L165.5,177.0 L166.1,175.1 L166.8,173.2 L167.5,171.3 L168.2,169.4 L168.9,167.5 L169.7,165.7 L170.6,163.8 L171.5,162.0 L172.4,160.2 L173.4,158.4 L174.3,156.5 L175.2,155.3 L176.1,154.7 L176.9,154.7 L177.7,155.4 L178.6,156.7 L179.4,158.7 L180.2,160.6 L181.0,162.5 L181.8,164.4 L182.5,166.3 L183.2,168.2 L183.9,170.1 L184.5,172.0 L185.1,174.0 L185.6,175.9 L186.2,177.9 L186.7,179.8 L187.2,181.8 L187.6,183.8 L188.0,185.8 L188.4,187.7 L188.8,189.7 L189.1,191.7 L189.5,193.7 L189.8,195.8 L190.1,197.8 L190.3,199.8 L190.6,201.8 L190.8,203.8 L191.0,205.9 L191.2,207.9 L191.4,209.9 L191.6,212.0 L191.7,214.0 L191.9,216.1 L192.0,218.1 L192.1,220.2 L192.2,222.2 L192.3,224.3 L192.4,226.4 L192.5,228.4 L192.6,230.5 L192.7,232.5 L192.8,234.6 L192.8,236.7 L192.9,238.7 L193.0,240.8 L193.1,242.9 L193.1,244.9 L193.2,247.0 L193.3,249.1 L193.3,251.1 L193.4,253.2 L193.5,255.2 L193.6,257.3 L193.7,259.4 L193.8,261.4 L193.9,263.5 L194.0,265.5 L194.2,267.6 L194.3,269.6 L194.5,271.7 L194.6,273.7 L194.8,275.7 L195.0,277.8 L195.2,279.8 L195.5,281.8 L195.7,283.9 L196.0,285.9 L196.3,287.9 L196.6,289.9 L196.9,291.9 L197.2,293.9 L197.6,295.9 L198.0,297.9 L198.6,300.8 L198.6,313.0 L149.8,313.0Z" fill="#5aa0d0"/>
<path d="M153.1,300.9 L153.4,297.9 L153.6,295.9 L153.8,293.9 L154.1,291.9 L154.3,289.8 L154.5,287.8 L154.7,285.8 L154.9,283.7 L155.1,281.7 L155.3,279.7 L155.4,277.6 L155.6,275.6 L155.8,273.5 L156.0,271.5 L156.2,269.4 L156.4,267.4 L156.6,265.3 L156.8,263.2 L157.0,261.2 L157.2,259.1 L157.4,257.1 L157.6,255.0 L157.8,253.0 L158.1,250.9 L158.3,248.9 L158.6,246.8 L158.8,244.8 L159.1,242.7 L159.3,240.7 L159.6,238.6 L159.9,236.6 L160.2,234.6 L160.6,232.5 L160.9,230.5 L161.3,228.5 L161.6,226.4 L162.0,224.4 L162.4,222.4 L162.8,220.4 L163.3,218.4 L163.7,216.4 L164.2,214.4 L164.7,212.4 L165.2,210.5 L165.7,208.5 L166.3,206.5 L166.8,204.6 L167.4,202.6 L168.1,200.7 L168.7,198.7 L169.4,196.8 L170.1,194.9 L170.8,193.0 L171.6,191.1 L172.4,189.2 L173.2,187.3 L174.0,185.4 L174.8,183.3 L175.5,181.9 L176.3,181.2 L177.0,181.2 L177.8,181.9 L178.5,183.4 L179.2,185.5 L180.0,187.4 L180.7,189.3 L181.4,191.2 L182.0,193.1 L182.7,195.0 L183.2,196.9 L183.8,198.9 L184.3,200.8 L184.8,202.8 L185.3,204.7 L185.7,206.7 L186.1,208.7 L186.5,210.7 L186.8,212.7 L187.2,214.7 L187.5,216.7 L187.8,218.7 L188.0,220.7 L188.3,222.7 L188.5,224.7 L188.7,226.7 L188.9,228.8 L189.1,230.8 L189.3,232.8 L189.4,234.9 L189.6,236.9 L189.7,239.0 L189.8,241.0 L190.0,243.1 L190.1,245.1 L190.2,247.2 L190.3,249.2 L190.4,251.3 L190.5,253.3 L190.6,255.4 L190.7,257.4 L190.8,259.5 L190.9,261.5 L191.0,263.6 L191.1,265.6 L191.2,267.7 L191.3,269.7 L191.4,271.7 L191.6,273.8 L191.7,275.8 L191.9,277.8 L192.0,279.9 L192.2,281.9 L192.4,283.9 L192.6,285.9 L192.9,287.9 L193.1,289.9 L193.4,291.9 L193.7,293.9 L194.0,295.9 L194.3,297.9 L194.8,300.9 L194.8,313.0 L153.1,313.0Z" fill="#3f72b8"/>
<path d="M156.5,300.9 L156.6,297.9 L156.7,295.8 L156.8,293.8 L156.9,291.7 L157.0,289.6 L157.1,287.6 L157.3,285.5 L157.4,283.4 L157.6,281.3 L157.7,279.3 L157.9,277.2 L158.1,275.1 L158.3,273.1 L158.6,271.0 L158.8,268.9 L159.1,266.9 L159.3,264.8 L159.6,262.8 L159.9,260.7 L160.3,258.7 L160.6,256.6 L161.0,254.6 L161.3,252.5 L161.7,250.5 L162.1,248.5 L162.6,246.4 L163.0,244.4 L163.5,242.4 L164.0,240.4 L164.5,238.4 L165.0,236.4 L165.5,234.4 L166.1,232.4 L166.7,230.4 L167.3,228.4 L167.9,226.5 L168.6,224.5 L169.3,222.5 L170.0,220.6 L170.7,218.7 L171.5,216.7 L172.2,214.8 L173.0,212.9 L174.0,210.1 L175.0,208.3 L176.0,207.4 L177.0,207.4 L178.1,208.3 L179.1,210.1 L180.1,212.8 L180.9,214.7 L181.6,216.7 L182.2,218.6 L182.8,220.5 L183.4,222.5 L183.9,224.5 L184.3,226.4 L184.8,228.4 L185.1,230.4 L185.5,232.4 L185.8,234.4 L186.1,236.5 L186.3,238.5 L186.6,240.5 L186.8,242.6 L186.9,244.6 L187.1,246.6 L187.2,248.7 L187.4,250.8 L187.5,252.8 L187.6,254.9 L187.7,256.9 L187.8,259.0 L187.8,261.1 L187.9,263.1 L188.0,265.2 L188.1,267.3 L188.2,269.3 L188.2,271.4 L188.3,273.5 L188.5,275.5 L188.6,277.6 L188.7,279.6 L188.9,281.7 L189.1,283.7 L189.3,285.8 L189.5,287.8 L189.8,289.8 L190.0,291.9 L190.4,293.9 L190.7,295.9 L191.1,297.9 L191.7,300.8 L191.7,313.0 L156.5,313.0Z" fill="#3548a8"/>
<path d="M159.4,300.9 L159.8,297.9 L160.1,295.8 L160.4,293.8 L160.7,291.7 L161.0,289.6 L161.4,287.5 L161.7,285.5 L162.0,283.4 L162.4,281.3 L162.7,279.2 L163.1,277.2 L163.5,275.1 L163.9,273.1 L164.3,271.0 L164.7,268.9 L165.2,266.9 L165.6,264.8 L166.1,262.8 L166.6,260.8 L167.1,258.7 L167.6,256.7 L168.2,254.7 L168.8,252.7 L169.4,250.7 L170.0,248.7 L170.7,246.7 L171.4,244.7 L172.1,242.7 L172.8,240.8 L173.7,238.0 L174.7,236.1 L175.5,235.2 L176.4,235.2 L177.3,236.1 L178.1,238.0 L178.9,240.8 L179.5,242.8 L180.0,244.8 L180.5,246.8 L181.0,248.8 L181.4,250.8 L181.9,252.8 L182.2,254.8 L182.6,256.9 L182.9,258.9 L183.2,261.0 L183.5,263.0 L183.8,265.1 L184.1,267.1 L184.3,269.2 L184.6,271.2 L184.8,273.3 L185.0,275.4 L185.2,277.4 L185.5,279.5 L185.7,281.5 L185.9,283.6 L186.1,285.6 L186.4,287.7 L186.6,289.8 L186.8,291.8 L187.1,293.8 L187.4,295.9 L187.7,297.9 L188.1,300.9 L188.1,313.0 L159.4,313.0Z" fill="#3841a6"/>
<path d="M164.7,300.9 L165.0,297.9 L165.2,295.8 L165.4,293.7 L165.7,291.6 L166.0,289.7 L166.4,287.7 L166.8,285.8 L167.2,283.8 L167.7,281.9 L168.2,279.9 L168.8,277.9 L169.4,275.8 L170.1,273.7 L170.8,271.6 L171.7,269.5 L172.7,267.5 L173.8,266.0 L175.1,265.1 L176.5,265.0 L177.8,265.8 L179.0,267.2 L180.1,269.1 L181.0,271.2 L181.7,273.4 L182.3,275.6 L182.7,277.6 L183.0,279.6 L183.3,281.6 L183.6,283.6 L183.9,285.6 L184.2,287.6 L184.4,289.6 L184.6,291.6 L184.8,293.7 L184.9,295.8 L185.0,297.9 L185.1,300.9 L185.1,313.0 L164.7,313.0Z" fill="#3f1f8f"/>
<path d="M46.8,114.0 L49.8,113.9 L51.9,113.8 L54.0,113.9 L56.1,114.1 L58.0,114.4 L60.0,114.9 L61.8,115.4 L63.7,116.1 L65.5,116.9 L67.2,117.8 L68.9,118.7 L70.5,119.8 L72.1,121.0 L73.7,122.2 L75.2,123.5 L76.6,124.9 L78.0,126.3 L79.4,127.8 L80.7,129.3 L82.0,130.9 L83.2,132.6 L84.4,134.2 L85.6,135.9 L86.7,137.6 L87.8,139.4 L88.8,141.1 L89.8,142.9 L90.8,144.7 L91.7,146.5 L92.6,148.4 L93.4,150.2 L94.2,152.1 L95.0,154.0 L95.8,155.9 L96.6,157.8 L97.3,159.7 L98.0,161.7 L98.6,163.6 L99.3,165.6 L99.9,167.5 L100.5,169.5 L101.1,171.4 L101.7,173.4 L102.2,175.4 L102.8,177.4 L103.3,179.4 L103.8,181.3 L104.3,183.3 L104.8,185.3 L105.3,187.3 L105.8,189.3 L106.3,191.3 L106.8,193.3 L107.2,195.2 L107.6,197.2 L108.1,199.2 L108.5,201.2 L108.9,203.2 L109.3,205.2 L109.7,207.2 L110.1,209.2 L110.5,211.2 L110.9,213.2 L111.2,215.1 L111.6,217.1 L111.9,219.1 L112.3,221.1 L112.6,223.1 L112.9,225.1 L113.2,227.1 L113.5,229.1 L113.8,231.1 L114.1,233.1 L114.4,235.1 L114.7,237.1 L115.0,239.1 L115.2,241.2 L115.5,243.2 L115.8,245.2 L116.0,247.2 L116.3,249.2 L116.5,251.2 L116.7,253.2 L117.0,255.2 L117.2,257.3 L117.4,259.3 L117.6,261.3 L117.8,263.3 L118.0,265.3 L118.2,267.4 L118.4,269.4 L118.6,271.4 L118.8,273.4 L119.0,275.5 L119.2,277.5 L119.3,279.5 L119.5,281.6 L119.7,283.6 L119.9,285.6 L120.0,287.7 L120.2,289.7 L120.3,291.8 L120.5,293.8 L120.6,295.9 L120.8,297.9 L121.0,300.9" fill="none" stroke="#000" stroke-width="0.5" stroke-opacity="0.75"/>
<path d="M46.8,135.2 L49.8,135.0 L51.9,134.9 L54.0,134.9 L55.9,135.2 L57.8,135.6 L59.7,136.2 L61.5,137.0 L63.2,137.9 L64.8,139.0 L66.4,140.2 L67.9,141.4 L69.4,142.8 L70.8,144.3 L72.2,145.9 L73.5,147.5 L74.8,149.1 L76.0,150.8 L77.2,152.6 L78.3,154.3 L79.4,156.1 L80.4,157.9 L81.4,159.7 L82.4,161.5 L83.3,163.3 L84.2,165.2 L85.1,167.0 L85.9,168.9 L86.7,170.8 L87.5,172.6 L88.2,174.5 L89.0,176.4 L89.6,178.3 L90.3,180.3 L91.0,182.2 L91.6,184.1 L92.2,186.1 L92.9,188.0 L93.4,190.0 L94.0,191.9 L94.6,193.9 L95.2,195.8 L95.7,197.8 L96.3,199.8 L96.8,201.7 L97.4,203.7 L97.9,205.7 L98.4,207.7 L98.9,209.6 L99.5,211.6 L100.0,213.6 L100.5,215.6 L101.0,217.5 L101.5,219.5 L102.0,221.5 L102.5,223.5 L103.0,225.5 L103.5,227.5 L103.9,229.4 L104.4,231.4 L104.9,233.4 L105.3,235.4 L105.8,237.4 L106.2,239.4 L106.7,241.4 L107.1,243.4 L107.5,245.4 L107.9,247.4 L108.3,249.4 L108.7,251.4 L109.1,253.4 L109.5,255.4 L109.9,257.4 L110.2,259.4 L110.6,261.4 L111.0,263.4 L111.3,265.5 L111.6,267.5 L112.0,269.5 L112.3,271.5 L112.6,273.5 L112.9,275.6 L113.2,277.6 L113.4,279.6 L113.7,281.6 L114.0,283.7 L114.2,285.7 L114.5,287.7 L114.7,289.8 L114.9,291.8 L115.1,293.8 L115.3,295.9 L115.5,297.9 L115.8,300.9" fill="none" stroke="#000" stroke-width="0.5" stroke-opacity="0.75"/>
<path d="M46.8,163.4 L49.8,163.1 L52.1,162.8 L54.1,162.9 L56.1,163.2 L57.8,163.8 L59.4,164.6 L60.9,165.6 L62.3,166.9 L63.6,168.3 L64.7,169.8 L65.8,171.5 L66.8,173.2 L67.8,175.1 L68.7,177.0 L69.6,178.9 L70.5,180.9 L71.3,182.8 L72.2,184.7 L73.0,186.6 L73.8,188.6 L74.6,190.5 L75.4,192.4 L76.2,194.3 L77.0,196.2 L77.8,198.1 L78.6,200.1 L79.3,202.0 L80.1,203.9 L80.8,205.8 L81.6,207.7 L82.3,209.6 L83.0,211.5 L83.7,213.4 L84.4,215.3 L85.1,217.2 L85.8,219.2 L86.5,221.1 L87.2,223.0 L87.9,224.9 L88.6,226.9 L89.2,228.8 L89.9,230.7 L90.5,232.7 L91.2,234.6 L91.8,236.6 L92.4,238.5 L93.1,240.5 L93.7,242.4 L94.3,244.4 L94.9,246.3 L95.5,248.3 L96.1,250.2 L96.7,252.2 L97.3,254.2 L97.8,256.1 L98.4,258.1 L98.9,260.1 L99.5,262.0 L100.0,264.0 L100.6,266.0 L101.1,268.0 L101.6,270.0 L102.1,271.9 L102.6,273.9 L103.1,275.9 L103.6,277.9 L104.1,279.9 L104.6,281.9 L105.0,283.9 L105.5,285.9 L106.0,287.9 L106.4,289.9 L106.8,291.9 L107.3,293.9 L107.7,295.9 L108.1,297.9 L108.7,300.8" fill="none" stroke="#000" stroke-width="0.5" stroke-opacity="0.75"/>
<path d="M47.0,209.2 L49.8,210.2 L51.8,210.9 L53.6,211.7 L55.4,212.7 L57.1,213.8 L58.6,215.0 L60.1,216.3 L61.5,217.7 L62.9,219.2 L64.1,220.8 L65.4,222.5 L66.5,224.2 L67.7,225.9 L68.8,227.7 L69.8,229.5 L70.9,231.3 L71.9,233.1 L72.9,235.0 L73.9,236.8 L74.9,238.7 L75.8,240.5 L76.8,242.4 L77.7,244.3 L78.6,246.1 L79.5,248.0 L80.5,249.9 L81.3,251.7 L82.2,253.6 L83.1,255.5 L84.0,257.4 L84.9,259.2 L85.7,261.1 L86.6,263.0 L87.4,264.9 L88.2,266.8 L89.0,268.7 L89.8,270.5 L90.6,272.4 L91.4,274.4 L92.1,276.3 L92.9,278.2 L93.6,280.1 L94.3,282.1 L95.0,284.0 L95.6,286.0 L96.3,287.9 L96.9,289.9 L97.6,291.9 L98.2,293.9 L98.7,295.9 L99.3,297.9 L100.1,300.8" fill="none" stroke="#000" stroke-width="0.5" stroke-opacity="0.75"/>
<path d="M46.9,246.5 L49.8,247.4 L52.0,248.1 L54.0,248.9 L55.9,249.9 L57.7,251.0 L59.4,252.2 L60.9,253.5 L62.4,254.9 L63.8,256.4 L65.1,258.0 L66.3,259.7 L67.5,261.3 L68.7,263.1 L69.8,264.9 L70.9,266.7 L71.9,268.5 L73.0,270.3 L74.1,272.1 L75.2,273.9 L76.3,275.7 L77.4,277.5 L78.5,279.3 L79.6,281.1 L80.7,282.9 L81.8,284.7 L82.9,286.5 L83.9,288.3 L84.8,290.1 L85.8,292.0 L86.6,293.9 L87.4,295.9 L88.1,297.9 L89.1,300.7" fill="none" stroke="#000" stroke-width="0.5" stroke-opacity="0.75"/>
<path d="M47.5,269.3 L49.8,271.2 L51.5,272.6 L53.1,274.1 L54.7,275.6 L56.2,277.1 L57.7,278.7 L59.1,280.4 L60.5,282.0 L61.9,283.7 L63.2,285.4 L64.5,287.2 L65.8,289.0 L67.1,290.7 L68.3,292.5 L69.6,294.3 L70.8,296.1 L72.0,297.9 L73.7,300.4" fill="none" stroke="#000" stroke-width="0.5" stroke-opacity="0.75"/>
<path d="M228.1,51.1 L228.5,54.1 L228.8,56.1 L229.0,58.1 L229.3,60.1 L229.5,62.1 L229.8,64.1 L230.1,66.1 L230.4,68.1 L230.7,70.1 L230.9,72.1 L231.2,74.1 L231.5,76.1 L231.8,78.2 L232.1,80.2 L232.4,82.2 L232.6,84.2 L232.9,86.2 L233.2,88.2 L233.5,90.2 L233.8,92.2 L234.0,94.2 L234.3,96.2 L234.5,98.2 L234.8,100.2 L235.0,102.2 L235.3,104.2 L235.5,106.2 L235.7,108.2 L236.0,110.2 L236.2,112.3 L236.4,114.3 L236.6,116.3 L236.7,118.3 L236.9,120.3 L237.1,122.3 L237.2,124.3 L237.3,126.3 L237.5,128.3 L237.6,130.3 L237.7,132.4 L237.7,134.4 L237.8,136.4 L237.9,138.4 L237.9,140.4 L237.9,142.4 L237.9,144.4 L237.9,146.4 L237.9,148.5 L237.9,150.5 L237.8,152.5 L237.8,154.5 L237.7,156.5 L237.6,158.5 L237.6,160.6 L237.5,162.6 L237.4,164.6 L237.3,166.6 L237.2,168.6 L237.1,170.7 L237.0,172.7 L236.9,174.7 L236.8,176.7 L236.7,178.7 L236.5,180.7 L236.4,182.8 L236.3,184.8 L236.2,186.8 L236.0,188.8 L235.9,190.8 L235.8,192.9 L235.6,194.9 L235.5,196.9 L235.4,198.9 L235.3,200.9 L235.1,202.9 L235.0,205.0 L234.9,207.0 L234.7,209.0 L234.6,211.0 L234.5,213.0 L234.3,215.1 L234.2,217.1 L234.1,219.1 L234.0,221.1 L233.9,223.1 L233.7,225.2 L233.6,227.2 L233.5,229.2 L233.4,231.2 L233.3,233.2 L233.2,235.3 L233.1,237.3 L233.1,239.3 L233.0,241.3 L232.9,243.3 L232.8,245.4 L232.8,247.4 L232.7,249.4 L232.7,251.4 L232.6,253.4 L232.6,255.5 L232.6,257.5 L232.5,259.5 L232.5,261.5 L232.5,263.5 L232.5,265.6 L232.5,267.6 L232.5,269.6 L232.6,271.6 L232.6,273.6 L232.7,275.7 L232.7,277.7 L232.8,279.7 L232.9,281.7 L233.0,283.7 L233.1,285.8 L233.2,287.8 L233.3,289.8 L233.4,291.8 L233.6,293.9 L233.7,295.9 L233.9,297.9 L234.2,300.9" fill="none" stroke="#000" stroke-width="0.5" stroke-opacity="0.75"/>
<path d="M237.1,51.1 L237.3,54.1 L237.5,56.1 L237.6,58.1 L237.8,60.1 L238.1,62.1 L238.3,64.1 L238.5,66.1 L238.8,68.1 L239.0,70.2 L239.3,72.2 L239.6,74.2 L239.9,76.2 L240.2,78.2 L240.5,80.2 L240.8,82.2 L241.1,84.2 L241.4,86.2 L241.7,88.2 L242.0,90.2 L242.3,92.2 L242.7,94.3 L243.0,96.3 L243.3,98.3 L243.6,100.3 L243.9,102.3 L244.2,104.3 L244.5,106.3 L244.7,108.3 L245.0,110.3 L245.3,112.3 L245.5,114.3 L245.7,116.4 L246.0,118.4 L246.2,120.4 L246.4,122.4 L246.5,124.4 L246.7,126.4 L246.8,128.4 L246.9,130.4 L247.0,132.4 L247.1,134.5 L247.2,136.5 L247.2,138.5 L247.2,140.5 L247.2,142.5 L247.1,144.5 L247.1,146.5 L247.0,148.5 L246.9,150.6 L246.8,152.6 L246.7,154.6 L246.6,156.6 L246.4,158.6 L246.3,160.6 L246.1,162.6 L246.0,164.7 L245.8,166.7 L245.6,168.7 L245.4,170.7 L245.3,172.7 L245.1,174.7 L244.9,176.7 L244.7,178.8 L244.5,180.8 L244.3,182.8 L244.1,184.8 L243.9,186.8 L243.7,188.8 L243.5,190.8 L243.3,192.9 L243.1,194.9 L242.9,196.9 L242.7,198.9 L242.5,200.9 L242.3,202.9 L242.1,205.0 L241.9,207.0 L241.7,209.0 L241.5,211.0 L241.4,213.0 L241.2,215.1 L241.0,217.1 L240.8,219.1 L240.7,221.1 L240.5,223.1 L240.4,225.1 L240.2,227.2 L240.1,229.2 L239.9,231.2 L239.8,233.2 L239.7,235.2 L239.6,237.3 L239.5,239.3 L239.4,241.3 L239.3,243.3 L239.2,245.3 L239.1,247.4 L239.1,249.4 L239.0,251.4 L239.0,253.4 L239.0,255.4 L239.0,257.5 L239.0,259.5 L239.0,261.5 L239.0,263.5 L239.0,265.5 L239.1,267.6 L239.1,269.6 L239.2,271.6 L239.3,273.6 L239.4,275.6 L239.5,277.7 L239.7,279.7 L239.8,281.7 L240.0,283.7 L240.1,285.8 L240.3,287.8 L240.6,289.8 L240.8,291.8 L241.0,293.9 L241.3,295.9 L241.6,297.9 L242.0,300.9" fill="none" stroke="#000" stroke-width="0.5" stroke-opacity="0.75"/>
<path d="M247.0,51.1 L247.3,54.1 L247.5,56.1 L247.7,58.1 L247.9,60.1 L248.2,62.1 L248.4,64.1 L248.6,66.1 L248.9,68.2 L249.1,70.2 L249.4,72.2 L249.6,74.2 L249.9,76.2 L250.1,78.2 L250.4,80.2 L250.7,82.2 L250.9,84.2 L251.2,86.2 L251.5,88.2 L251.7,90.3 L252.0,92.3 L252.2,94.3 L252.5,96.3 L252.7,98.3 L253.0,100.3 L253.2,102.3 L253.4,104.3 L253.7,106.3 L253.9,108.4 L254.1,110.4 L254.3,112.4 L254.5,114.4 L254.6,116.4 L254.8,118.4 L255.0,120.4 L255.1,122.4 L255.2,124.5 L255.4,126.5 L255.5,128.5 L255.6,130.5 L255.6,132.5 L255.7,134.5 L255.7,136.5 L255.8,138.6 L255.8,140.6 L255.8,142.6 L255.7,144.6 L255.7,146.6 L255.7,148.6 L255.6,150.6 L255.5,152.7 L255.4,154.7 L255.3,156.7 L255.2,158.7 L255.1,160.7 L255.0,162.7 L254.8,164.7 L254.7,166.8 L254.5,168.8 L254.4,170.8 L254.2,172.8 L254.0,174.8 L253.9,176.8 L253.7,178.9 L253.5,180.9 L253.3,182.9 L253.1,184.9 L252.9,186.9 L252.7,188.9 L252.5,190.9 L252.3,193.0 L252.1,195.0 L251.9,197.0 L251.7,199.0 L251.5,201.0 L251.3,203.0 L251.2,205.1 L251.0,207.1 L250.8,209.1 L250.6,211.1 L250.5,213.1 L250.3,215.1 L250.1,217.1 L250.0,219.2 L249.8,221.2 L249.7,223.2 L249.6,225.2 L249.5,227.2 L249.3,229.2 L249.2,231.3 L249.2,233.3 L249.1,235.3 L249.0,237.3 L249.0,239.3 L248.9,241.4 L248.9,243.4 L248.9,245.4 L248.9,247.4 L248.9,249.4 L248.9,251.4 L248.9,253.5 L248.9,255.5 L249.0,257.5 L249.0,259.5 L249.1,261.5 L249.2,263.6 L249.3,265.6 L249.4,267.6 L249.5,269.6 L249.6,271.6 L249.7,273.7 L249.8,275.7 L250.0,277.7 L250.1,279.7 L250.3,281.7 L250.4,283.8 L250.6,285.8 L250.8,287.8 L251.0,289.8 L251.2,291.8 L251.4,293.9 L251.6,295.9 L251.8,297.9 L252.1,300.9" fill="none" stroke="#000" stroke-width="0.5" stroke-opacity="0.75"/>
<path d="M260.8,51.2 L261.4,54.1 L261.8,56.1 L262.2,58.1 L262.6,60.1 L262.9,62.1 L263.3,64.1 L263.6,66.1 L264.0,68.1 L264.3,70.1 L264.7,72.1 L265.0,74.1 L265.3,76.1 L265.6,78.1 L265.9,80.1 L266.2,82.1 L266.4,84.1 L266.7,86.1 L266.9,88.1 L267.2,90.1 L267.4,92.2 L267.6,94.2 L267.8,96.2 L267.9,98.2 L268.1,100.2 L268.3,102.3 L268.4,104.3 L268.5,106.3 L268.6,108.3 L268.7,110.3 L268.8,112.4 L268.8,114.4 L268.8,116.4 L268.9,118.4 L268.9,120.4 L268.8,122.5 L268.8,124.5 L268.8,126.5 L268.7,128.5 L268.6,130.5 L268.5,132.6 L268.4,134.6 L268.3,136.6 L268.2,138.6 L268.0,140.6 L267.9,142.7 L267.7,144.7 L267.5,146.7 L267.4,148.7 L267.2,150.7 L267.0,152.8 L266.8,154.8 L266.6,156.8 L266.3,158.8 L266.1,160.8 L265.9,162.8 L265.7,164.9 L265.4,166.9 L265.2,168.9 L265.0,170.9 L264.7,172.9 L264.5,174.9 L264.3,176.9 L264.0,179.0 L263.8,181.0 L263.6,183.0 L263.3,185.0 L263.1,187.0 L262.9,189.0 L262.7,191.0 L262.5,193.0 L262.3,195.1 L262.1,197.1 L261.9,199.1 L261.7,201.1 L261.5,203.1 L261.3,205.1 L261.2,207.1 L261.0,209.1 L260.9,211.2 L260.8,213.2 L260.6,215.2 L260.5,217.2 L260.5,219.2 L260.4,221.2 L260.3,223.2 L260.3,225.3 L260.2,227.3 L260.2,229.3 L260.2,231.3 L260.2,233.3 L260.3,235.3 L260.3,237.4 L260.4,239.4 L260.5,241.4 L260.6,243.4 L260.7,245.4 L260.9,247.5 L261.0,249.5 L261.2,251.5 L261.4,253.5 L261.6,255.5 L261.8,257.6 L262.0,259.6 L262.2,261.6 L262.4,263.6 L262.6,265.7 L262.9,267.7 L263.1,269.7 L263.4,271.7 L263.6,273.7 L263.9,275.8 L264.1,277.8 L264.4,279.8 L264.6,281.8 L264.9,283.8 L265.1,285.8 L265.3,287.9 L265.6,289.9 L265.8,291.9 L266.0,293.9 L266.2,295.9 L266.4,297.9 L266.7,300.9" fill="none" stroke="#000" stroke-width="0.5" stroke-opacity="0.75"/>
<path d="M284.7,51.2 L285.4,54.1 L285.9,56.2 L286.5,58.3 L287.1,60.4 L287.7,62.5 L288.4,64.6 L289.2,66.6 L290.0,68.6 L290.8,70.6 L291.7,72.6 L292.6,74.6 L293.6,76.6 L294.6,78.5 L296.0,81.2" fill="none" stroke="#000" stroke-width="0.5" stroke-opacity="0.75"/>
<path d="M295.9,119.2 L294.6,121.9 L293.7,123.8 L292.9,125.6 L292.0,127.5 L291.2,129.3 L290.3,131.2 L289.6,133.0 L288.8,134.9 L288.2,136.8 L287.6,138.7 L287.1,140.6 L286.6,142.6 L286.3,144.5 L286.0,146.5 L285.9,148.5 L285.7,150.5 L285.6,152.5 L285.5,154.6 L285.4,156.6 L285.3,158.6 L285.3,160.6 L285.2,162.6 L285.1,164.7 L285.1,166.7 L285.0,168.7 L285.0,170.7 L284.9,172.7 L284.9,174.8 L284.9,176.8 L284.8,178.8 L284.8,180.8 L284.8,182.9 L284.7,184.9 L284.7,186.9 L284.7,188.9 L284.7,191.0 L284.6,193.0 L284.6,195.0 L284.6,197.0 L284.6,199.1 L284.6,201.1 L284.5,203.1 L284.5,205.1 L284.5,207.2 L284.5,209.2 L284.5,211.2 L284.4,213.2 L284.4,215.2 L284.4,217.3 L284.4,219.3 L284.3,221.3 L284.3,223.3 L284.3,225.3 L284.2,227.4 L284.2,229.4 L284.2,231.4 L284.1,233.4 L284.1,235.4 L284.1,237.5 L284.1,239.5 L284.0,241.5 L284.0,243.5 L284.0,245.5 L283.9,247.6 L283.9,249.6 L283.8,251.6 L283.8,253.6 L283.8,255.6 L283.7,257.7 L283.7,259.7 L283.7,261.7 L283.6,263.7 L283.6,265.8 L283.6,267.8 L283.6,269.8 L283.7,271.8 L283.7,273.8 L283.8,275.9 L283.9,277.9 L284.0,279.9 L284.2,281.9 L284.4,283.9 L284.6,285.9 L284.9,287.9 L285.2,289.9 L285.5,291.9 L285.9,293.9 L286.4,295.9 L286.9,297.9 L287.6,300.8" fill="none" stroke="#000" stroke-width="0.5" stroke-opacity="0.75"/>
<path d="M47.1,79.8 L49.8,78.5 L51.7,77.6 L53.7,77.2 L55.8,77.1 L57.9,77.2 L60.1,77.6 L62.2,78.0 L64.4,78.5 L66.5,78.8 L68.5,79.0 L70.5,78.9 L72.4,78.5 L74.2,77.9 L75.9,77.0 L77.5,75.9 L79.0,74.6 L80.4,73.1 L81.6,71.4 L82.8,69.6 L83.9,67.7 L85.0,65.8 L86.1,63.8 L87.2,61.9 L88.3,60.0 L89.5,58.3 L90.8,56.7 L92.3,55.3 L93.9,54.1 L96.3,52.3" fill="none" stroke="#06503c" stroke-width="0.55" stroke-opacity="0.85" stroke-dasharray="3.6 2.2"/>
<path d="M46.9,62.1 L49.8,61.4 L51.9,60.9 L54.1,60.5 L56.3,60.1 L58.5,59.7 L60.8,59.2 L63.0,58.7 L65.1,57.9 L67.0,56.9 L68.9,55.7 L70.5,54.1 L72.7,52.0" fill="none" stroke="#06503c" stroke-width="0.55" stroke-opacity="0.85" stroke-dasharray="3.6 2.2"/>
<path d="M120.8,51.3 L121.9,54.1 L122.7,56.0 L123.4,58.0 L124.0,59.9 L124.7,61.9 L125.3,63.8 L125.8,65.8 L126.3,67.7 L126.8,69.7 L127.2,71.7 L127.6,73.7 L127.9,75.7 L128.3,77.7 L128.5,79.6 L128.7,81.6 L128.9,83.6 L129.1,85.7 L129.2,87.7 L129.2,89.7 L129.3,91.7 L129.3,93.7 L129.2,95.7 L129.2,97.7 L129.1,99.7 L128.9,101.7 L128.8,103.8 L128.7,105.8 L128.5,107.8 L128.4,109.8 L128.2,111.8 L128.0,113.8 L127.8,115.9 L127.7,117.9 L127.5,119.9 L127.3,121.9 L127.1,123.9 L126.9,126.0 L126.7,128.0 L126.5,130.0 L126.3,132.0 L126.1,134.1 L125.9,136.1 L125.7,138.1 L125.5,140.1 L125.3,142.1 L125.2,144.2 L125.0,146.2 L124.8,148.2 L124.7,150.2 L124.6,152.3 L124.4,154.3 L124.3,156.3 L124.2,158.3 L124.1,160.4 L124.0,162.4 L124.0,164.4 L123.9,166.4 L123.9,168.5 L123.8,170.5 L123.8,172.5 L123.8,174.5 L123.8,176.5 L123.8,178.6 L123.8,180.6 L123.9,182.6 L123.9,184.6 L123.9,186.7 L124.0,188.7 L124.0,190.7 L124.1,192.7 L124.2,194.7 L124.3,196.8 L124.4,198.8 L124.4,200.8 L124.5,202.8 L124.7,204.9 L124.8,206.9 L124.9,208.9 L125.0,210.9 L125.1,213.0 L125.3,215.0 L125.4,217.0 L125.5,219.0 L125.7,221.0 L125.8,223.1 L126.0,225.1 L126.1,227.1 L126.3,229.1 L126.4,231.2 L126.6,233.2 L126.7,235.2 L126.9,237.2 L127.0,239.2 L127.2,241.3 L127.4,243.3 L127.5,245.3 L127.7,247.3 L127.8,249.4 L128.0,251.4 L128.1,253.4 L128.3,255.4 L128.4,257.4 L128.6,259.5 L128.7,261.5 L128.9,263.5 L129.0,265.5 L129.1,267.6 L129.3,269.6 L129.4,271.6 L129.5,273.6 L129.6,275.6 L129.7,277.7 L129.8,279.7 L129.9,281.7 L130.0,283.7 L130.1,285.8 L130.2,287.8 L130.3,289.8 L130.3,291.8 L130.4,293.9 L130.5,295.9 L130.5,297.9 L130.6,300.9" fill="none" stroke="#06503c" stroke-width="0.55" stroke-opacity="0.85" stroke-dasharray="3.6 2.2"/>
<path d="M202.1,51.1 L202.6,54.1 L202.9,56.1 L203.3,58.1 L203.6,60.1 L203.9,62.1 L204.3,64.1 L204.6,66.1 L204.9,68.1 L205.2,70.1 L205.5,72.1 L205.8,74.1 L206.1,76.1 L206.4,78.1 L206.7,80.1 L207.0,82.1 L207.2,84.1 L207.5,86.1 L207.8,88.1 L208.1,90.1 L208.3,92.1 L208.6,94.1 L208.8,96.2 L209.1,98.2 L209.4,100.2 L209.6,102.2 L209.8,104.2 L210.1,106.2 L210.3,108.2 L210.5,110.2 L210.8,112.2 L211.0,114.2 L211.2,116.2 L211.4,118.3 L211.7,120.3 L211.9,122.3 L212.1,124.3 L212.3,126.3 L212.5,128.3 L212.7,130.3 L212.9,132.3 L213.1,134.4 L213.3,136.4 L213.5,138.4 L213.6,140.4 L213.8,142.4 L214.0,144.4 L214.2,146.4 L214.3,148.5 L214.5,150.5 L214.7,152.5 L214.9,154.5 L215.0,156.5 L215.2,158.5 L215.3,160.6 L215.5,162.6 L215.6,164.6 L215.8,166.6 L215.9,168.6 L216.1,170.6 L216.2,172.7 L216.4,174.7 L216.5,176.7 L216.7,178.7 L216.8,180.7 L216.9,182.7 L217.1,184.8 L217.2,186.8 L217.3,188.8 L217.5,190.8 L217.6,192.8 L217.7,194.9 L217.8,196.9 L217.9,198.9 L218.1,200.9 L218.2,202.9 L218.3,205.0 L218.4,207.0 L218.5,209.0 L218.7,211.0 L218.8,213.0 L218.9,215.1 L219.0,217.1 L219.1,219.1 L219.2,221.1 L219.3,223.1 L219.5,225.2 L219.6,227.2 L219.7,229.2 L219.8,231.2 L219.9,233.2 L220.0,235.3 L220.1,237.3 L220.2,239.3 L220.3,241.3 L220.4,243.3 L220.6,245.4 L220.7,247.4 L220.8,249.4 L220.9,251.4 L221.0,253.5 L221.1,255.5 L221.2,257.5 L221.3,259.5 L221.5,261.5 L221.6,263.6 L221.7,265.6 L221.8,267.6 L221.9,269.6 L222.0,271.6 L222.1,273.7 L222.3,275.7 L222.4,277.7 L222.5,279.7 L222.6,281.7 L222.7,283.8 L222.9,285.8 L223.0,287.8 L223.1,289.8 L223.2,291.8 L223.3,293.9 L223.5,295.9 L223.6,297.9 L223.8,300.9" fill="none" stroke="#06503c" stroke-width="0.55" stroke-opacity="0.85" stroke-dasharray="3.6 2.2"/>
<path d="M154.2,51.2 L153.4,54.1 L152.9,56.1 L152.4,58.0 L151.9,60.0 L151.4,61.9 L151.0,63.9 L150.5,65.9 L150.1,67.9 L149.6,69.8 L149.2,71.8 L148.8,73.8 L148.4,75.8 L148.0,77.8 L147.6,79.7 L147.3,81.7 L146.9,83.7 L146.5,85.7 L146.2,87.7 L145.8,89.7 L145.5,91.7 L145.2,93.7 L144.9,95.7 L144.5,97.7 L144.2,99.7 L143.9,101.7 L143.7,103.7 L143.4,105.7 L143.1,107.7 L142.8,109.7 L142.6,111.7 L142.3,113.7 L142.1,115.7 L141.8,117.7 L141.6,119.8 L141.3,121.8 L141.1,123.8 L140.9,125.8 L140.7,127.8 L140.5,129.8 L140.3,131.9 L140.1,133.9 L139.9,135.9 L139.7,137.9 L139.5,139.9 L139.3,141.9 L139.1,144.0 L139.0,146.0 L138.8,148.0 L138.6,150.0 L138.5,152.0 L138.3,154.1 L138.2,156.1 L138.0,158.1 L137.9,160.1 L137.8,162.2 L137.6,164.2 L137.5,166.2 L137.4,168.2 L137.3,170.3 L137.2,172.3 L137.0,174.3 L136.9,176.3 L136.8,178.4 L136.7,180.4 L136.6,182.4 L136.5,184.4 L136.5,186.5 L136.4,188.5 L136.3,190.5 L136.2,192.5 L136.1,194.6 L136.1,196.6 L136.0,198.6 L135.9,200.6 L135.9,202.7 L135.8,204.7 L135.7,206.7 L135.7,208.7 L135.6,210.8 L135.6,212.8 L135.5,214.8 L135.5,216.8 L135.4,218.9 L135.4,220.9 L135.3,222.9 L135.3,224.9 L135.2,227.0 L135.2,229.0 L135.2,231.0 L135.1,233.0 L135.1,235.1 L135.1,237.1 L135.0,239.1 L135.0,241.2 L135.0,243.2 L134.9,245.2 L134.9,247.2 L134.9,249.3 L134.8,251.3 L134.8,253.3 L134.8,255.3 L134.7,257.4 L134.7,259.4 L134.7,261.4 L134.7,263.4 L134.6,265.5 L134.6,267.5 L134.6,269.5 L134.5,271.6 L134.5,273.6 L134.5,275.6 L134.5,277.6 L134.4,279.7 L134.4,281.7 L134.4,283.7 L134.3,285.7 L134.3,287.8 L134.3,289.8 L134.2,291.8 L134.2,293.8 L134.1,295.9 L134.1,297.9 L134.0,300.9" fill="none" stroke="#06503c" stroke-width="0.55" stroke-opacity="0.85" stroke-dasharray="3.6 2.2"/>
<path d="M185.7,51.2 L186.6,54.1 L187.2,56.0 L187.8,58.0 L188.4,59.9 L188.9,61.9 L189.5,63.8 L190.1,65.8 L190.6,67.7 L191.1,69.7 L191.7,71.6 L192.2,73.6 L192.7,75.5 L193.2,77.5 L193.6,79.5 L194.1,81.4 L194.6,83.4 L195.0,85.4 L195.5,87.3 L195.9,89.3 L196.4,91.3 L196.8,93.2 L197.2,95.2 L197.6,97.2 L198.0,99.2 L198.4,101.1 L198.8,103.1 L199.1,105.1 L199.5,107.1 L199.9,109.1 L200.2,111.0 L200.6,113.0 L200.9,115.0 L201.2,117.0 L201.6,119.0 L201.9,121.0 L202.2,123.0 L202.5,125.0 L202.8,127.0 L203.1,128.9 L203.4,130.9 L203.7,132.9 L203.9,134.9 L204.2,136.9 L204.5,138.9 L204.7,140.9 L205.0,142.9 L205.2,144.9 L205.5,146.9 L205.7,148.9 L205.9,150.9 L206.2,152.9 L206.4,155.0 L206.6,157.0 L206.8,159.0 L207.0,161.0 L207.3,163.0 L207.5,165.0 L207.7,167.0 L207.9,169.0 L208.0,171.0 L208.2,173.0 L208.4,175.1 L208.6,177.1 L208.8,179.1 L209.0,181.1 L209.1,183.1 L209.3,185.1 L209.5,187.1 L209.6,189.1 L209.8,191.2 L210.0,193.2 L210.1,195.2 L210.3,197.2 L210.4,199.2 L210.6,201.2 L210.7,203.3 L210.9,205.3 L211.0,207.3 L211.2,209.3 L211.3,211.3 L211.5,213.4 L211.6,215.4 L211.8,217.4 L211.9,219.4 L212.0,221.4 L212.2,223.4 L212.3,225.5 L212.5,227.5 L212.6,229.5 L212.8,231.5 L212.9,233.5 L213.0,235.6 L213.2,237.6 L213.3,239.6 L213.5,241.6 L213.6,243.6 L213.8,245.6 L213.9,247.7 L214.1,249.7 L214.2,251.7 L214.4,253.7 L214.5,255.7 L214.7,257.7 L214.8,259.7 L215.0,261.8 L215.1,263.8 L215.3,265.8 L215.5,267.8 L215.6,269.8 L215.8,271.8 L216.0,273.8 L216.2,275.8 L216.3,277.8 L216.5,279.9 L216.7,281.9 L216.9,283.9 L217.1,285.9 L217.3,287.9 L217.5,289.9 L217.7,291.9 L217.9,293.9 L218.1,295.9 L218.3,297.9 L218.6,300.9" fill="none" stroke="#06503c" stroke-width="0.55" stroke-opacity="0.85" stroke-dasharray="3.6 2.2"/>
<path d="M138.0,300.9 L138.1,297.9 L138.2,295.9 L138.2,293.8 L138.3,291.8 L138.4,289.7 L138.4,287.7 L138.5,285.7 L138.6,283.6 L138.6,281.6 L138.7,279.6 L138.8,277.5 L138.9,275.5 L139.0,273.5 L139.1,271.5 L139.1,269.4 L139.2,267.4 L139.3,265.4 L139.4,263.4 L139.5,261.3 L139.6,259.3 L139.7,257.3 L139.8,255.3 L139.9,253.3 L140.0,251.2 L140.1,249.2 L140.3,247.2 L140.4,245.2 L140.5,243.2 L140.6,241.1 L140.7,239.1 L140.9,237.1 L141.0,235.1 L141.1,233.1 L141.2,231.1 L141.4,229.0 L141.5,227.0 L141.6,225.0 L141.8,223.0 L141.9,221.0 L142.1,219.0 L142.2,217.0 L142.4,214.9 L142.5,212.9 L142.7,210.9 L142.8,208.9 L143.0,206.9 L143.1,204.9 L143.3,202.9 L143.4,200.8 L143.6,198.8 L143.8,196.8 L143.9,194.8 L144.1,192.8 L144.3,190.8 L144.5,188.7 L144.6,186.7 L144.8,184.7 L145.0,182.7 L145.2,180.7 L145.4,178.7 L145.6,176.6 L145.8,174.6 L146.0,172.6 L146.2,170.6 L146.4,168.6 L146.6,166.5 L146.8,164.5 L147.0,162.5 L147.2,160.5 L147.4,158.4 L147.6,156.4 L147.8,154.4 L148.0,152.4 L148.2,150.3 L148.5,148.3 L148.7,146.3 L148.9,144.2 L149.2,142.2 L149.4,140.2 L149.6,138.1 L149.9,136.1 L150.2,134.1 L150.4,132.1 L150.7,130.0 L151.0,128.0 L151.3,126.0 L151.6,124.0 L151.9,122.0 L152.2,120.0 L152.6,118.0 L152.9,116.0 L153.3,114.0 L153.7,112.0 L154.1,110.0 L154.5,108.0 L154.9,106.0 L155.3,104.1 L155.8,102.1 L156.3,100.1 L156.8,98.2 L157.3,96.2 L157.8,94.3 L158.4,92.4 L159.0,90.4 L159.6,88.5 L160.3,86.7 L161.0,84.8 L161.8,83.0 L162.7,81.3 L163.6,79.6 L164.7,78.0 L165.9,76.4 L167.2,75.0 L168.6,73.6 L170.1,72.1 L171.5,71.2 L172.9,70.7 L174.3,70.9 L175.6,71.5 L176.9,72.6 L178.2,74.3 L179.5,75.9 L180.6,77.4 L181.7,79.1 L182.7,80.8 L183.6,82.5 L184.4,84.3 L185.1,86.1 L185.8,88.0 L186.5,89.8 L187.1,91.7 L187.6,93.7 L188.1,95.6 L188.6,97.6 L189.0,99.6 L189.5,101.6 L189.9,103.5 L190.3,105.5 L190.7,107.5 L191.0,109.5 L191.4,111.5 L191.8,113.5 L192.2,115.5 L192.5,117.5 L192.9,119.5 L193.2,121.5 L193.5,123.5 L193.9,125.5 L194.2,127.5 L194.5,129.5 L194.8,131.5 L195.1,133.5 L195.4,135.5 L195.7,137.5 L196.0,139.5 L196.3,141.5 L196.6,143.5 L196.9,145.5 L197.1,147.5 L197.4,149.5 L197.7,151.5 L197.9,153.5 L198.2,155.5 L198.4,157.5 L198.7,159.5 L198.9,161.5 L199.2,163.5 L199.4,165.5 L199.7,167.5 L199.9,169.5 L200.1,171.5 L200.4,173.5 L200.6,175.5 L200.8,177.5 L201.0,179.5 L201.3,181.5 L201.5,183.5 L201.7,185.5 L201.9,187.5 L202.1,189.5 L202.4,191.5 L202.6,193.5 L202.8,195.5 L203.0,197.5 L203.2,199.5 L203.4,201.5 L203.6,203.5 L203.8,205.5 L204.0,207.5 L204.2,209.5 L204.4,211.6 L204.6,213.6 L204.8,215.6 L205.0,217.6 L205.1,219.6 L205.3,221.6 L205.5,223.6 L205.7,225.6 L205.9,227.6 L206.1,229.6 L206.3,231.6 L206.5,233.6 L206.6,235.6 L206.8,237.6 L207.0,239.6 L207.2,241.7 L207.4,243.7 L207.5,245.7 L207.7,247.7 L207.9,249.7 L208.1,251.7 L208.3,253.7 L208.5,255.7 L208.6,257.7 L208.8,259.7 L209.0,261.7 L209.2,263.7 L209.4,265.8 L209.6,267.8 L209.7,269.8 L209.9,271.8 L210.1,273.8 L210.3,275.8 L210.5,277.8 L210.7,279.8 L210.9,281.8 L211.0,283.8 L211.2,285.8 L211.4,287.9 L211.6,289.9 L211.8,291.9 L212.0,293.9 L212.2,295.9 L212.4,297.9 L212.7,300.9" fill="none" stroke="#06503c" stroke-width="0.55" stroke-opacity="0.85" stroke-dasharray="3.6 2.2"/>
<path d="M142.0,300.9 L142.2,297.9 L142.4,295.9 L142.5,293.8 L142.7,291.8 L142.8,289.8 L143.0,287.7 L143.1,285.7 L143.3,283.7 L143.4,281.7 L143.6,279.6 L143.7,277.6 L143.9,275.6 L144.0,273.6 L144.2,271.5 L144.3,269.5 L144.5,267.5 L144.6,265.5 L144.8,263.4 L144.9,261.4 L145.1,259.4 L145.2,257.4 L145.3,255.3 L145.5,253.3 L145.6,251.3 L145.8,249.3 L145.9,247.2 L146.1,245.2 L146.2,243.2 L146.4,241.2 L146.5,239.1 L146.7,237.1 L146.8,235.1 L147.0,233.1 L147.1,231.1 L147.3,229.0 L147.4,227.0 L147.6,225.0 L147.7,223.0 L147.9,220.9 L148.0,218.9 L148.2,216.9 L148.3,214.9 L148.5,212.8 L148.6,210.8 L148.8,208.8 L148.9,206.8 L149.1,204.7 L149.2,202.7 L149.4,200.7 L149.6,198.7 L149.7,196.6 L149.9,194.6 L150.0,192.6 L150.2,190.6 L150.4,188.5 L150.5,186.5 L150.7,184.5 L150.9,182.5 L151.0,180.4 L151.2,178.4 L151.4,176.4 L151.6,174.4 L151.8,172.3 L152.0,170.3 L152.2,168.3 L152.5,166.3 L152.7,164.2 L152.9,162.2 L153.2,160.2 L153.5,158.2 L153.8,156.2 L154.1,154.2 L154.4,152.2 L154.7,150.2 L155.1,148.2 L155.5,146.2 L155.9,144.2 L156.3,142.2 L156.7,140.2 L157.2,138.2 L157.7,136.2 L158.2,134.3 L158.7,132.3 L159.3,130.3 L159.8,128.4 L160.5,126.4 L161.1,124.5 L161.8,122.6 L162.6,120.7 L163.3,118.8 L164.2,117.0 L165.0,115.2 L166.0,113.4 L166.9,111.6 L168.0,109.9 L169.1,108.3 L170.2,106.6 L171.4,105.0 L172.6,103.3 L173.7,102.2 L174.8,101.6 L175.9,101.7 L176.9,102.4 L178.0,103.6 L179.0,105.5 L180.0,107.3 L180.9,109.0 L181.8,110.8 L182.6,112.6 L183.4,114.5 L184.1,116.4 L184.7,118.3 L185.3,120.2 L185.9,122.1 L186.4,124.0 L186.9,126.0 L187.4,128.0 L187.8,130.0 L188.3,131.9 L188.7,133.9 L189.1,135.9 L189.5,137.9 L189.9,140.0 L190.3,142.0 L190.6,144.0 L191.0,146.0 L191.4,148.0 L191.7,150.0 L192.1,152.0 L192.4,154.0 L192.8,156.0 L193.1,158.1 L193.4,160.1 L193.8,162.1 L194.1,164.1 L194.4,166.2 L194.7,168.2 L195.0,170.2 L195.2,172.2 L195.5,174.3 L195.8,176.3 L196.0,178.3 L196.3,180.3 L196.5,182.4 L196.8,184.4 L197.0,186.4 L197.2,188.4 L197.5,190.5 L197.7,192.5 L197.9,194.5 L198.1,196.5 L198.3,198.6 L198.5,200.6 L198.7,202.6 L198.8,204.7 L199.0,206.7 L199.2,208.7 L199.4,210.7 L199.5,212.8 L199.7,214.8 L199.8,216.8 L200.0,218.8 L200.2,220.9 L200.3,222.9 L200.5,224.9 L200.6,227.0 L200.8,229.0 L200.9,231.0 L201.1,233.0 L201.2,235.1 L201.4,237.1 L201.5,239.1 L201.7,241.1 L201.8,243.2 L202.0,245.2 L202.1,247.2 L202.3,249.3 L202.4,251.3 L202.6,253.3 L202.7,255.3 L202.9,257.4 L203.1,259.4 L203.2,261.4 L203.4,263.4 L203.6,265.5 L203.8,267.5 L204.0,269.5 L204.2,271.6 L204.3,273.6 L204.6,275.6 L204.8,277.6 L205.0,279.7 L205.2,281.7 L205.4,283.7 L205.6,285.7 L205.9,287.8 L206.1,289.8 L206.4,291.8 L206.7,293.8 L206.9,295.9 L207.2,297.9 L207.6,300.9" fill="none" stroke="#06503c" stroke-width="0.55" stroke-opacity="0.85" stroke-dasharray="3.6 2.2"/>
<path d="M146.1,300.9 L146.4,297.9 L146.6,295.9 L146.8,293.8 L147.0,291.8 L147.2,289.8 L147.4,287.8 L147.6,285.7 L147.9,283.7 L148.1,281.7 L148.3,279.7 L148.5,277.7 L148.7,275.6 L148.9,273.6 L149.1,271.6 L149.3,269.6 L149.4,267.6 L149.6,265.5 L149.8,263.5 L150.0,261.5 L150.2,259.5 L150.4,257.5 L150.5,255.5 L150.7,253.4 L150.9,251.4 L151.0,249.4 L151.2,247.4 L151.3,245.3 L151.5,243.3 L151.6,241.3 L151.8,239.3 L151.9,237.2 L152.1,235.2 L152.2,233.2 L152.3,231.2 L152.5,229.1 L152.6,227.1 L152.7,225.1 L152.8,223.0 L153.0,221.0 L153.1,219.0 L153.3,216.9 L153.4,214.9 L153.5,212.9 L153.7,210.9 L153.9,208.8 L154.0,206.8 L154.2,204.8 L154.4,202.7 L154.5,200.7 L154.7,198.7 L154.9,196.6 L155.1,194.6 L155.3,192.6 L155.6,190.6 L155.8,188.5 L156.1,186.5 L156.3,184.5 L156.6,182.5 L156.9,180.5 L157.2,178.5 L157.5,176.5 L157.9,174.5 L158.2,172.5 L158.6,170.5 L159.0,168.5 L159.5,166.5 L159.9,164.5 L160.4,162.6 L160.9,160.6 L161.4,158.7 L162.0,156.7 L162.6,154.8 L163.2,152.9 L163.8,151.0 L164.5,149.1 L165.2,147.2 L166.0,145.3 L166.7,143.5 L167.6,141.6 L168.4,139.8 L169.3,138.0 L170.2,136.2 L171.2,134.4 L172.2,132.6 L173.1,130.7 L174.1,129.4 L175.0,128.8 L175.9,128.8 L176.8,129.4 L177.7,130.6 L178.6,132.5 L179.5,134.3 L180.4,136.1 L181.2,137.9 L181.9,139.8 L182.7,141.6 L183.4,143.5 L184.0,145.4 L184.6,147.3 L185.2,149.2 L185.8,151.2 L186.3,153.1 L186.8,155.1 L187.3,157.0 L187.8,159.0 L188.3,161.0 L188.7,163.0 L189.1,164.9 L189.5,166.9 L189.9,168.9 L190.3,170.9 L190.7,172.9 L191.0,174.9 L191.4,176.9 L191.7,178.9 L192.0,180.9 L192.3,182.9 L192.6,184.9 L192.9,187.0 L193.1,189.0 L193.4,191.0 L193.6,193.0 L193.9,195.0 L194.1,197.1 L194.3,199.1 L194.5,201.1 L194.7,203.1 L194.9,205.1 L195.0,207.1 L195.2,209.2 L195.4,211.2 L195.5,213.2 L195.7,215.2 L195.8,217.2 L195.9,219.3 L196.1,221.3 L196.2,223.3 L196.3,225.3 L196.4,227.3 L196.5,229.4 L196.7,231.4 L196.8,233.4 L196.9,235.4 L197.0,237.4 L197.1,239.4 L197.2,241.5 L197.3,243.5 L197.4,245.5 L197.5,247.5 L197.7,249.5 L197.8,251.5 L197.9,253.6 L198.0,255.6 L198.2,257.6 L198.3,259.6 L198.4,261.6 L198.6,263.6 L198.7,265.7 L198.9,267.7 L199.0,269.7 L199.2,271.7 L199.4,273.7 L199.6,275.7 L199.8,277.8 L200.0,279.8 L200.2,281.8 L200.4,283.8 L200.6,285.8 L200.9,287.8 L201.1,289.8 L201.4,291.9 L201.7,293.9 L202.0,295.9 L202.3,297.9 L202.8,300.9" fill="none" stroke="#06503c" stroke-width="0.55" stroke-opacity="0.85" stroke-dasharray="3.6 2.2"/>
<path d="M149.8,300.9 L150.2,297.9 L150.5,295.9 L150.7,293.9 L151.0,291.9 L151.2,289.8 L151.4,287.8 L151.6,285.8 L151.9,283.8 L152.1,281.8 L152.3,279.8 L152.5,277.7 L152.7,275.7 L152.9,273.7 L153.0,271.7 L153.2,269.6 L153.4,267.6 L153.6,265.6 L153.8,263.5 L153.9,261.5 L154.1,259.5 L154.3,257.5 L154.5,255.4 L154.6,253.4 L154.8,251.4 L155.0,249.3 L155.1,247.3 L155.3,245.3 L155.5,243.2 L155.7,241.2 L155.9,239.2 L156.0,237.2 L156.2,235.1 L156.4,233.1 L156.6,231.1 L156.8,229.0 L157.0,227.0 L157.2,225.0 L157.5,223.0 L157.7,220.9 L157.9,218.9 L158.1,216.9 L158.4,214.9 L158.6,212.8 L158.9,210.8 L159.2,208.8 L159.4,206.8 L159.7,204.8 L160.0,202.7 L160.3,200.7 L160.7,198.7 L161.0,196.7 L161.4,194.7 L161.7,192.7 L162.1,190.7 L162.5,188.7 L163.0,186.8 L163.4,184.8 L163.9,182.8 L164.4,180.9 L165.0,178.9 L165.5,177.0 L166.1,175.1 L166.8,173.2 L167.5,171.3 L168.2,169.4 L168.9,167.5 L169.7,165.7 L170.6,163.8 L171.5,162.0 L172.4,160.2 L173.4,158.4 L174.3,156.5 L175.2,155.3 L176.1,154.7 L176.9,154.7 L177.7,155.4 L178.6,156.7 L179.4,158.7 L180.2,160.6 L181.0,162.5 L181.8,164.4 L182.5,166.3 L183.2,168.2 L183.9,170.1 L184.5,172.0 L185.1,174.0 L185.6,175.9 L186.2,177.9 L186.7,179.8 L187.2,181.8 L187.6,183.8 L188.0,185.8 L188.4,187.7 L188.8,189.7 L189.1,191.7 L189.5,193.7 L189.8,195.8 L190.1,197.8 L190.3,199.8 L190.6,201.8 L190.8,203.8 L191.0,205.9 L191.2,207.9 L191.4,209.9 L191.6,212.0 L191.7,214.0 L191.9,216.1 L192.0,218.1 L192.1,220.2 L192.2,222.2 L192.3,224.3 L192.4,226.4 L192.5,228.4 L192.6,230.5 L192.7,232.5 L192.8,234.6 L192.8,236.7 L192.9,238.7 L193.0,240.8 L193.1,242.9 L193.1,244.9 L193.2,247.0 L193.3,249.1 L193.3,251.1 L193.4,253.2 L193.5,255.2 L193.6,257.3 L193.7,259.4 L193.8,261.4 L193.9,263.5 L194.0,265.5 L194.2,267.6 L194.3,269.6 L194.5,271.7 L194.6,273.7 L194.8,275.7 L195.0,277.8 L195.2,279.8 L195.5,281.8 L195.7,283.9 L196.0,285.9 L196.3,287.9 L196.6,289.9 L196.9,291.9 L197.2,293.9 L197.6,295.9 L198.0,297.9 L198.6,300.8" fill="none" stroke="#06503c" stroke-width="0.55" stroke-opacity="0.85" stroke-dasharray="3.6 2.2"/>
<path d="M153.1,300.9 L153.4,297.9 L153.6,295.9 L153.8,293.9 L154.1,291.9 L154.3,289.8 L154.5,287.8 L154.7,285.8 L154.9,283.7 L155.1,281.7 L155.3,279.7 L155.4,277.6 L155.6,275.6 L155.8,273.5 L156.0,271.5 L156.2,269.4 L156.4,267.4 L156.6,265.3 L156.8,263.2 L157.0,261.2 L157.2,259.1 L157.4,257.1 L157.6,255.0 L157.8,253.0 L158.1,250.9 L158.3,248.9 L158.6,246.8 L158.8,244.8 L159.1,242.7 L159.3,240.7 L159.6,238.6 L159.9,236.6 L160.2,234.6 L160.6,232.5 L160.9,230.5 L161.3,228.5 L161.6,226.4 L162.0,224.4 L162.4,222.4 L162.8,220.4 L163.3,218.4 L163.7,216.4 L164.2,214.4 L164.7,212.4 L165.2,210.5 L165.7,208.5 L166.3,206.5 L166.8,204.6 L167.4,202.6 L168.1,200.7 L168.7,198.7 L169.4,196.8 L170.1,194.9 L170.8,193.0 L171.6,191.1 L172.4,189.2 L173.2,187.3 L174.0,185.4 L174.8,183.3 L175.5,181.9 L176.3,181.2 L177.0,181.2 L177.8,181.9 L178.5,183.4 L179.2,185.5 L180.0,187.4 L180.7,189.3 L181.4,191.2 L182.0,193.1 L182.7,195.0 L183.2,196.9 L183.8,198.9 L184.3,200.8 L184.8,202.8 L185.3,204.7 L185.7,206.7 L186.1,208.7 L186.5,210.7 L186.8,212.7 L187.2,214.7 L187.5,216.7 L187.8,218.7 L188.0,220.7 L188.3,222.7 L188.5,224.7 L188.7,226.7 L188.9,228.8 L189.1,230.8 L189.3,232.8 L189.4,234.9 L189.6,236.9 L189.7,239.0 L189.8,241.0 L190.0,243.1 L190.1,245.1 L190.2,247.2 L190.3,249.2 L190.4,251.3 L190.5,253.3 L190.6,255.4 L190.7,257.4 L190.8,259.5 L190.9,261.5 L191.0,263.6 L191.1,265.6 L191.2,267.7 L191.3,269.7 L191.4,271.7 L191.6,273.8 L191.7,275.8 L191.9,277.8 L192.0,279.9 L192.2,281.9 L192.4,283.9 L192.6,285.9 L192.9,287.9 L193.1,289.9 L193.4,291.9 L193.7,293.9 L194.0,295.9 L194.3,297.9 L194.8,300.9" fill="none" stroke="#06503c" stroke-width="0.55" stroke-opacity="0.85" stroke-dasharray="3.6 2.2"/>
<path d="M156.5,300.9 L156.6,297.9 L156.7,295.8 L156.8,293.8 L156.9,291.7 L157.0,289.6 L157.1,287.6 L157.3,285.5 L157.4,283.4 L157.6,281.3 L157.7,279.3 L157.9,277.2 L158.1,275.1 L158.3,273.1 L158.6,271.0 L158.8,268.9 L159.1,266.9 L159.3,264.8 L159.6,262.8 L159.9,260.7 L160.3,258.7 L160.6,256.6 L161.0,254.6 L161.3,252.5 L161.7,250.5 L162.1,248.5 L162.6,246.4 L163.0,244.4 L163.5,242.4 L164.0,240.4 L164.5,238.4 L165.0,236.4 L165.5,234.4 L166.1,232.4 L166.7,230.4 L167.3,228.4 L167.9,226.5 L168.6,224.5 L169.3,222.5 L170.0,220.6 L170.7,218.7 L171.5,216.7 L172.2,214.8 L173.0,212.9 L174.0,210.1 L175.0,208.3 L176.0,207.4 L177.0,207.4 L178.1,208.3 L179.1,210.1 L180.1,212.8 L180.9,214.7 L181.6,216.7 L182.2,218.6 L182.8,220.5 L183.4,222.5 L183.9,224.5 L184.3,226.4 L184.8,228.4 L185.1,230.4 L185.5,232.4 L185.8,234.4 L186.1,236.5 L186.3,238.5 L186.6,240.5 L186.8,242.6 L186.9,244.6 L187.1,246.6 L187.2,248.7 L187.4,250.8 L187.5,252.8 L187.6,254.9 L187.7,256.9 L187.8,259.0 L187.8,261.1 L187.9,263.1 L188.0,265.2 L188.1,267.3 L188.2,269.3 L188.2,271.4 L188.3,273.5 L188.5,275.5 L188.6,277.6 L188.7,279.6 L188.9,281.7 L189.1,283.7 L189.3,285.8 L189.5,287.8 L189.8,289.8 L190.0,291.9 L190.4,293.9 L190.7,295.9 L191.1,297.9 L191.7,300.8" fill="none" stroke="#06503c" stroke-width="0.55" stroke-opacity="0.85" stroke-dasharray="3.6 2.2"/>
<path d="M159.4,300.9 L159.8,297.9 L160.1,295.8 L160.4,293.8 L160.7,291.7 L161.0,289.6 L161.4,287.5 L161.7,285.5 L162.0,283.4 L162.4,281.3 L162.7,279.2 L163.1,277.2 L163.5,275.1 L163.9,273.1 L164.3,271.0 L164.7,268.9 L165.2,266.9 L165.6,264.8 L166.1,262.8 L166.6,260.8 L167.1,258.7 L167.6,256.7 L168.2,254.7 L168.8,252.7 L169.4,250.7 L170.0,248.7 L170.7,246.7 L171.4,244.7 L172.1,242.7 L172.8,240.8 L173.7,238.0 L174.7,236.1 L175.5,235.2 L176.4,235.2 L177.3,236.1 L178.1,238.0 L178.9,240.8 L179.5,242.8 L180.0,244.8 L180.5,246.8 L181.0,248.8 L181.4,250.8 L181.9,252.8 L182.2,254.8 L182.6,256.9 L182.9,258.9 L183.2,261.0 L183.5,263.0 L183.8,265.1 L184.1,267.1 L184.3,269.2 L184.6,271.2 L184.8,273.3 L185.0,275.4 L185.2,277.4 L185.5,279.5 L185.7,281.5 L185.9,283.6 L186.1,285.6 L186.4,287.7 L186.6,289.8 L186.8,291.8 L187.1,293.8 L187.4,295.9 L187.7,297.9 L188.1,300.9" fill="none" stroke="#06503c" stroke-width="0.55" stroke-opacity="0.85" stroke-dasharray="3.6 2.2"/>
<path d="M164.7,300.9 L165.0,297.9 L165.2,295.8 L165.4,293.7 L165.7,291.6 L166.0,289.7 L166.4,287.7 L166.8,285.8 L167.2,283.8 L167.7,281.9 L168.2,279.9 L168.8,277.9 L169.4,275.8 L170.1,273.7 L170.8,271.6 L171.7,269.5 L172.7,267.5 L173.8,266.0 L175.1,265.1 L176.5,265.0 L177.8,265.8 L179.0,267.2 L180.1,269.1 L181.0,271.2 L181.7,273.4 L182.3,275.6 L182.7,277.6 L183.0,279.6 L183.3,281.6 L183.6,283.6 L183.9,285.6 L184.2,287.6 L184.4,289.6 L184.6,291.6 L184.8,293.7 L184.9,295.8 L185.0,297.9 L185.1,300.9" fill="none" stroke="#06503c" stroke-width="0.55" stroke-opacity="0.85" stroke-dasharray="3.6 2.2"/>
<g transform="translate(171.9,285.3)">
<ellipse cx="0" cy="0" rx="5.7" ry="3.4" transform="rotate(10)" fill="#fff"/>
<path d="M-5.4,-1.2 C-4.6,-4.0 -1.0,-5.9 2.9,-6.7 M5.4,1.2 C4.6,4.0 1.0,5.9 -2.9,6.7" fill="none" stroke="#fff" stroke-width="1.2" stroke-linecap="round"/>
</g>
</g>
<g clip-path="url(#cb)">
<rect x="401.4" y="54.4" width="244.3" height="243.6" fill="#b8ecc0"/>
<path d="M526.6,51.1 L526.4,54.1 L526.2,56.1 L526.1,58.2 L525.9,60.2 L525.8,62.2 L525.6,64.2 L525.5,66.2 L525.4,68.3 L525.3,70.3 L525.2,72.3 L525.1,74.3 L525.0,76.3 L524.9,78.4 L524.8,80.4 L524.7,82.4 L524.7,84.4 L524.6,86.4 L524.6,88.4 L524.6,90.5 L524.5,92.5 L524.5,94.5 L524.5,96.5 L524.5,98.5 L524.5,100.5 L524.5,102.5 L524.6,104.5 L524.6,106.5 L524.6,108.6 L524.7,110.6 L524.7,112.6 L524.8,114.6 L524.9,116.6 L525.0,118.6 L525.1,120.6 L525.2,122.6 L525.3,124.6 L525.4,126.6 L525.5,128.6 L525.7,130.7 L525.8,132.7 L526.0,134.7 L526.1,136.7 L526.3,138.7 L526.5,140.7 L526.7,142.7 L526.8,144.7 L527.1,146.7 L527.3,148.7 L527.5,150.7 L527.7,152.8 L528.0,154.8 L528.2,156.8 L528.5,158.8 L528.8,160.8 L529.0,162.8 L529.3,164.8 L529.6,166.8 L529.9,168.8 L530.2,170.8 L530.6,172.9 L530.9,174.9 L531.3,176.9 L531.6,178.9 L532.0,180.9 L532.4,182.9 L532.8,184.9 L533.3,186.8 L533.7,188.8 L534.2,190.8 L534.7,192.8 L535.2,194.7 L535.7,196.7 L536.2,198.6 L536.8,200.6 L537.4,202.5 L538.0,204.4 L538.6,206.3 L539.3,208.2 L540.0,210.1 L540.7,212.0 L541.4,213.8 L542.2,215.7 L543.0,217.5 L543.8,219.3 L544.7,221.1 L545.5,222.9 L546.4,224.7 L547.4,226.5 L548.4,228.2 L549.4,229.9 L550.4,231.7 L551.5,233.4 L552.5,235.1 L553.6,236.7 L554.7,238.4 L555.9,240.1 L557.0,241.7 L558.2,243.4 L559.4,245.0 L560.6,246.7 L561.7,248.3 L562.9,249.9 L564.2,251.6 L565.4,253.2 L566.6,254.8 L567.8,256.4 L569.0,258.1 L570.2,259.7 L571.3,261.4 L572.5,263.0 L573.6,264.7 L574.8,266.3 L575.9,268.0 L576.9,269.7 L578.0,271.4 L579.0,273.2 L579.9,274.9 L580.8,276.7 L581.7,278.5 L582.5,280.3 L583.3,282.1 L584.0,284.0 L584.7,285.9 L585.3,287.8 L585.8,289.8 L586.3,291.7 L586.6,293.8 L587.0,295.8 L587.2,297.9 L587.5,300.9 L587.5,313.0 L660.7,313.0 L660.7,39.4 L526.6,39.4Z" fill="#eef8c0"/>
<path d="M532.8,51.1 L532.6,54.1 L532.5,56.1 L532.3,58.1 L532.2,60.2 L532.1,62.2 L532.0,64.2 L531.9,66.2 L531.8,68.2 L531.7,70.3 L531.6,72.3 L531.6,74.3 L531.5,76.4 L531.4,78.4 L531.4,80.4 L531.3,82.4 L531.3,84.5 L531.3,86.5 L531.3,88.5 L531.3,90.6 L531.3,92.6 L531.3,94.6 L531.3,96.7 L531.3,98.7 L531.3,100.7 L531.4,102.8 L531.4,104.8 L531.5,106.8 L531.6,108.9 L531.6,110.9 L531.7,112.9 L531.8,115.0 L531.9,117.0 L532.0,119.0 L532.2,121.0 L532.3,123.1 L532.4,125.1 L532.6,127.1 L532.8,129.2 L532.9,131.2 L533.1,133.2 L533.3,135.2 L533.5,137.3 L533.7,139.3 L533.9,141.3 L534.2,143.3 L534.4,145.4 L534.7,147.4 L534.9,149.4 L535.2,151.4 L535.5,153.4 L535.8,155.5 L536.1,157.5 L536.4,159.5 L536.7,161.5 L537.1,163.5 L537.4,165.5 L537.8,167.5 L538.1,169.5 L538.5,171.5 L538.9,173.5 L539.3,175.5 L539.8,177.5 L540.2,179.5 L540.7,181.5 L541.1,183.4 L541.6,185.4 L542.1,187.4 L542.7,189.3 L543.2,191.3 L543.8,193.2 L544.4,195.2 L545.0,197.1 L545.6,199.0 L546.3,200.9 L547.0,202.8 L547.7,204.7 L548.4,206.6 L549.1,208.5 L549.9,210.3 L550.7,212.2 L551.6,214.0 L552.4,215.8 L553.3,217.6 L554.2,219.4 L555.2,221.2 L556.2,223.0 L557.2,224.7 L558.2,226.5 L559.3,228.2 L560.4,229.9 L561.5,231.6 L562.6,233.3 L563.7,235.0 L564.9,236.7 L566.0,238.4 L567.2,240.1 L568.4,241.7 L569.5,243.4 L570.7,245.1 L571.9,246.8 L573.1,248.4 L574.2,250.1 L575.4,251.8 L576.5,253.5 L577.7,255.2 L578.8,256.9 L579.9,258.6 L581.0,260.3 L582.0,262.0 L583.1,263.7 L584.1,265.5 L585.0,267.2 L586.0,269.0 L586.9,270.8 L587.7,272.6 L588.6,274.4 L589.4,276.2 L590.1,278.1 L590.8,279.9 L591.4,281.8 L592.0,283.8 L592.6,285.7 L593.0,287.7 L593.5,289.7 L593.8,291.7 L594.1,293.7 L594.3,295.8 L594.5,297.9 L594.7,300.9 L594.7,313.0 L660.7,313.0 L660.7,39.4 L532.8,39.4Z" fill="#eef080"/>
<path d="M540.1,51.1 L539.9,54.1 L539.8,56.1 L539.6,58.1 L539.5,60.1 L539.4,62.2 L539.3,64.2 L539.2,66.2 L539.1,68.2 L539.1,70.2 L539.0,72.3 L539.0,74.3 L538.9,76.3 L538.9,78.3 L538.9,80.4 L538.9,82.4 L538.9,84.4 L538.9,86.5 L538.9,88.5 L539.0,90.5 L539.0,92.6 L539.1,94.6 L539.2,96.6 L539.2,98.7 L539.3,100.7 L539.4,102.7 L539.5,104.7 L539.6,106.8 L539.8,108.8 L539.9,110.8 L540.0,112.9 L540.2,114.9 L540.4,116.9 L540.5,119.0 L540.7,121.0 L540.9,123.0 L541.1,125.1 L541.3,127.1 L541.6,129.1 L541.8,131.1 L542.0,133.2 L542.3,135.2 L542.5,137.2 L542.8,139.2 L543.1,141.3 L543.4,143.3 L543.7,145.3 L544.0,147.3 L544.3,149.3 L544.6,151.3 L545.0,153.3 L545.3,155.3 L545.7,157.4 L546.1,159.4 L546.4,161.4 L546.8,163.4 L547.2,165.4 L547.6,167.3 L548.0,169.3 L548.5,171.3 L548.9,173.3 L549.4,175.3 L549.8,177.3 L550.3,179.2 L550.8,181.2 L551.4,183.1 L551.9,185.1 L552.5,187.0 L553.1,188.9 L553.7,190.8 L554.4,192.7 L555.1,194.6 L555.8,196.5 L556.5,198.4 L557.3,200.2 L558.1,202.1 L558.9,203.9 L559.8,205.7 L560.7,207.5 L561.6,209.3 L562.5,211.1 L563.5,212.9 L564.5,214.6 L565.5,216.4 L566.5,218.1 L567.6,219.9 L568.6,221.6 L569.7,223.3 L570.8,225.0 L571.9,226.7 L573.1,228.4 L574.2,230.1 L575.3,231.8 L576.5,233.5 L577.6,235.2 L578.8,236.9 L579.9,238.6 L581.1,240.3 L582.2,242.0 L583.4,243.7 L584.5,245.4 L585.6,247.1 L586.7,248.8 L587.8,250.5 L588.8,252.2 L589.9,254.0 L590.9,255.7 L591.9,257.5 L592.9,259.3 L593.8,261.0 L594.7,262.8 L595.6,264.6 L596.5,266.5 L597.3,268.3 L598.0,270.2 L598.8,272.0 L599.5,273.9 L600.1,275.8 L600.7,277.7 L601.3,279.7 L601.8,281.6 L602.3,283.6 L602.8,285.6 L603.1,287.6 L603.5,289.6 L603.8,291.6 L604.0,293.7 L604.2,295.8 L604.3,297.9 L604.5,300.9 L604.5,313.0 L660.7,313.0 L660.7,39.4 L540.1,39.4Z" fill="#f4e650"/>
<path d="M547.6,51.1 L547.4,54.1 L547.3,56.1 L547.1,58.1 L547.0,60.2 L546.9,62.2 L546.8,64.2 L546.8,66.2 L546.7,68.2 L546.7,70.3 L546.6,72.3 L546.6,74.3 L546.6,76.3 L546.6,78.3 L546.6,80.4 L546.7,82.4 L546.7,84.4 L546.8,86.4 L546.8,88.4 L546.9,90.4 L547.0,92.5 L547.1,94.5 L547.2,96.5 L547.3,98.5 L547.5,100.5 L547.6,102.5 L547.8,104.6 L547.9,106.6 L548.1,108.6 L548.3,110.6 L548.5,112.6 L548.7,114.6 L548.9,116.6 L549.2,118.6 L549.4,120.6 L549.7,122.6 L549.9,124.7 L550.2,126.7 L550.5,128.7 L550.7,130.7 L551.0,132.7 L551.3,134.7 L551.6,136.7 L552.0,138.7 L552.3,140.7 L552.6,142.7 L553.0,144.7 L553.3,146.7 L553.7,148.7 L554.0,150.7 L554.4,152.6 L554.8,154.6 L555.2,156.6 L555.6,158.6 L556.0,160.6 L556.4,162.6 L556.8,164.6 L557.3,166.5 L557.7,168.5 L558.2,170.5 L558.7,172.4 L559.2,174.4 L559.7,176.3 L560.2,178.3 L560.8,180.2 L561.3,182.1 L561.9,184.1 L562.5,186.0 L563.2,187.9 L563.8,189.8 L564.5,191.7 L565.2,193.6 L565.9,195.4 L566.7,197.3 L567.5,199.2 L568.3,201.0 L569.1,202.8 L570.0,204.6 L570.8,206.4 L571.8,208.2 L572.7,210.0 L573.7,211.8 L574.7,213.5 L575.8,215.3 L576.8,217.0 L577.9,218.8 L579.0,220.5 L580.1,222.2 L581.3,223.9 L582.4,225.5 L583.6,227.2 L584.7,228.9 L585.9,230.5 L587.1,232.2 L588.3,233.8 L589.5,235.5 L590.7,237.1 L591.9,238.7 L593.0,240.4 L594.2,242.0 L595.4,243.6 L596.5,245.2 L597.7,246.9 L598.8,248.5 L599.9,250.2 L601.0,251.9 L602.1,253.6 L603.1,255.3 L604.1,257.0 L605.1,258.8 L606.0,260.6 L606.8,262.4 L607.7,264.2 L608.4,266.0 L609.1,267.9 L609.7,269.8 L610.3,271.7 L610.8,273.7 L611.2,275.7 L611.6,277.7 L611.9,279.7 L612.2,281.7 L612.4,283.8 L612.6,285.8 L612.8,287.9 L612.9,289.9 L613.1,291.9 L613.2,293.9 L613.4,295.9 L613.5,297.9 L613.7,300.9 L613.7,313.0 L660.7,313.0 L660.7,39.4 L547.6,39.4Z" fill="#fadc28"/>
<path d="M554.8,51.1 L554.5,54.1 L554.3,56.1 L554.1,58.1 L553.9,60.2 L553.8,62.2 L553.7,64.2 L553.6,66.2 L553.5,68.2 L553.5,70.2 L553.4,72.3 L553.4,74.3 L553.4,76.3 L553.4,78.3 L553.4,80.3 L553.5,82.3 L553.5,84.4 L553.6,86.4 L553.7,88.4 L553.8,90.4 L553.9,92.4 L554.1,94.4 L554.2,96.4 L554.3,98.5 L554.5,100.5 L554.7,102.5 L554.9,104.5 L555.0,106.5 L555.2,108.5 L555.4,110.5 L555.7,112.5 L555.9,114.5 L556.1,116.5 L556.3,118.5 L556.6,120.5 L556.9,122.5 L557.1,124.5 L557.4,126.5 L557.7,128.5 L558.0,130.5 L558.3,132.5 L558.6,134.5 L558.9,136.5 L559.3,138.5 L559.6,140.5 L560.0,142.5 L560.3,144.5 L560.7,146.5 L561.1,148.4 L561.5,150.4 L561.9,152.4 L562.3,154.4 L562.7,156.4 L563.1,158.4 L563.6,160.3 L564.1,162.3 L564.5,164.3 L565.1,166.2 L565.6,168.1 L566.2,170.1 L566.8,172.0 L567.4,173.9 L568.1,175.8 L568.8,177.7 L569.6,179.5 L570.4,181.4 L571.2,183.2 L572.1,185.0 L573.0,186.8 L574.0,188.6 L575.0,190.3 L576.0,192.1 L577.0,193.8 L578.0,195.6 L579.1,197.3 L580.1,199.0 L581.2,200.7 L582.3,202.5 L583.3,204.2 L584.4,205.9 L585.4,207.7 L586.5,209.4 L587.5,211.1 L588.5,212.9 L589.5,214.6 L590.6,216.3 L591.6,218.1 L592.6,219.8 L593.6,221.5 L594.7,223.2 L595.7,225.0 L596.8,226.7 L597.8,228.4 L598.9,230.1 L600.0,231.7 L601.2,233.4 L602.3,235.1 L603.5,236.7 L604.6,238.4 L605.8,240.0 L607.0,241.7 L608.2,243.3 L609.3,245.0 L610.5,246.6 L611.6,248.3 L612.7,249.9 L613.8,251.6 L614.9,253.3 L615.9,255.0 L616.9,256.8 L617.8,258.5 L618.7,260.3 L619.5,262.1 L620.2,264.0 L620.9,265.8 L621.4,267.7 L621.9,269.6 L622.4,271.6 L622.7,273.6 L623.0,275.6 L623.2,277.6 L623.4,279.7 L623.6,281.7 L623.7,283.8 L623.8,285.8 L623.9,287.9 L624.0,289.9 L624.1,291.9 L624.2,293.9 L624.3,295.9 L624.5,297.9 L624.7,300.9 L624.7,313.0 L660.7,313.0 L660.7,39.4 L554.8,39.4Z" fill="#fab828"/>
<path d="M561.6,51.1 L561.2,54.1 L560.9,56.2 L560.7,58.2 L560.5,60.3 L560.3,62.3 L560.2,64.4 L560.0,66.4 L560.0,68.4 L559.9,70.5 L559.9,72.5 L559.9,74.5 L559.9,76.6 L560.0,78.6 L560.1,80.6 L560.2,82.6 L560.3,84.6 L560.4,86.6 L560.6,88.7 L560.8,90.7 L561.0,92.7 L561.2,94.7 L561.5,96.7 L561.7,98.7 L562.0,100.7 L562.3,102.7 L562.6,104.7 L562.9,106.7 L563.2,108.7 L563.6,110.7 L563.9,112.7 L564.3,114.7 L564.6,116.7 L565.0,118.7 L565.4,120.7 L565.7,122.7 L566.1,124.7 L566.5,126.7 L566.9,128.7 L567.3,130.7 L567.7,132.7 L568.1,134.7 L568.5,136.7 L568.8,138.7 L569.3,140.7 L569.7,142.7 L570.1,144.7 L570.5,146.6 L571.0,148.6 L571.5,150.6 L572.0,152.6 L572.5,154.5 L573.0,156.5 L573.5,158.4 L574.1,160.4 L574.7,162.3 L575.4,164.2 L576.0,166.1 L576.7,168.0 L577.4,169.9 L578.2,171.8 L579.0,173.6 L579.8,175.5 L580.6,177.3 L581.4,179.1 L582.3,180.9 L583.2,182.7 L584.2,184.5 L585.1,186.3 L586.1,188.0 L587.2,189.8 L588.2,191.5 L589.3,193.2 L590.4,194.9 L591.5,196.6 L592.6,198.3 L593.8,200.0 L594.9,201.7 L596.1,203.3 L597.3,205.0 L598.5,206.7 L599.7,208.4 L600.8,210.0 L602.0,211.7 L603.1,213.4 L604.3,215.1 L605.4,216.8 L606.5,218.5 L607.6,220.2 L608.6,222.0 L609.6,223.7 L610.6,225.5 L611.6,227.3 L612.6,229.0 L613.5,230.8 L614.5,232.6 L615.5,234.4 L616.4,236.2 L617.4,237.9 L618.5,239.7 L619.6,241.4 L620.7,243.1 L621.8,244.7 L623.0,246.4 L624.3,248.0 L625.6,249.6 L627.0,251.1 L628.3,252.7 L629.6,254.3 L630.7,255.9 L631.7,257.6 L632.5,259.5 L633.1,261.4 L633.5,263.3 L633.8,265.3 L634.1,267.4 L634.3,269.4 L634.5,271.5 L634.6,273.5 L634.7,275.6 L634.8,277.6 L634.9,279.6 L634.9,281.7 L635.0,283.7 L635.0,285.8 L635.1,287.8 L635.1,289.8 L635.2,291.9 L635.2,293.9 L635.3,295.9 L635.4,297.9 L635.6,300.9 L635.6,313.0 L660.7,313.0 L660.7,39.4 L561.6,39.4Z" fill="#f89020"/>
<path d="M575.5,51.1 L575.1,54.1 L574.9,56.1 L574.6,58.2 L574.5,60.2 L574.3,62.3 L574.2,64.3 L574.1,66.3 L574.0,68.4 L574.0,70.4 L574.0,72.4 L574.0,74.4 L574.1,76.4 L574.2,78.5 L574.3,80.5 L574.4,82.5 L574.6,84.5 L574.7,86.5 L574.9,88.5 L575.1,90.5 L575.4,92.5 L575.6,94.5 L575.9,96.5 L576.2,98.5 L576.5,100.5 L576.9,102.5 L577.2,104.5 L577.6,106.5 L577.9,108.4 L578.3,110.4 L578.7,112.4 L579.1,114.4 L579.5,116.4 L580.0,118.4 L580.4,120.3 L580.8,122.3 L581.3,124.3 L581.8,126.2 L582.2,128.2 L582.7,130.2 L583.2,132.2 L583.6,134.1 L584.1,136.1 L584.6,138.1 L585.1,140.0 L585.6,142.0 L586.1,144.0 L586.6,145.9 L587.1,147.9 L587.6,149.9 L588.1,151.8 L588.6,153.8 L589.1,155.8 L589.6,157.7 L590.0,159.7 L590.5,161.7 L591.0,163.7 L591.5,165.6 L592.1,167.6 L592.6,169.6 L593.2,171.5 L593.8,173.4 L594.4,175.4 L595.1,177.2 L595.9,179.1 L596.6,180.9 L597.5,182.7 L598.4,184.5 L599.4,186.3 L600.4,188.0 L601.4,189.7 L602.5,191.4 L603.7,193.0 L604.9,194.6 L606.1,196.2 L607.3,197.8 L608.6,199.4 L609.8,201.0 L611.1,202.6 L612.3,204.2 L613.6,205.8 L614.8,207.4 L615.9,209.1 L617.1,210.8 L618.2,212.4 L619.3,214.1 L620.4,215.8 L621.4,217.5 L622.5,219.3 L623.5,221.0 L624.5,222.7 L625.5,224.5 L626.5,226.2 L627.5,228.0 L628.5,229.8 L629.5,231.5 L630.5,233.3 L631.5,235.0 L632.5,236.8 L633.6,238.5 L634.6,240.2 L635.7,241.9 L636.8,243.6 L637.9,245.3 L639.1,246.9 L640.3,248.5 L641.6,250.1 L642.9,251.7 L644.2,253.2 L645.6,254.7 L647.6,256.9 L660.7,256.9 L660.7,39.4 L575.5,39.4Z" fill="#f05820"/>
<path d="M596.2,51.2 L595.3,54.1 L594.7,56.1 L594.1,58.0 L593.6,60.0 L593.1,62.0 L592.7,64.0 L592.2,66.0 L591.8,68.0 L591.5,70.0 L591.1,72.0 L590.9,74.0 L590.6,76.0 L590.4,78.1 L590.2,80.1 L590.1,82.1 L590.0,84.2 L589.9,86.2 L589.9,88.2 L589.9,90.2 L590.0,92.3 L590.1,94.3 L590.2,96.3 L590.4,98.3 L590.6,100.3 L590.9,102.3 L591.2,104.3 L591.6,106.3 L592.0,108.3 L592.4,110.3 L592.9,112.2 L593.4,114.2 L594.0,116.1 L594.6,118.1 L595.3,120.0 L596.0,121.9 L596.7,123.8 L597.5,125.7 L598.3,127.5 L599.1,129.4 L600.0,131.3 L600.9,133.1 L601.8,135.0 L602.7,136.8 L603.6,138.6 L604.6,140.4 L605.6,142.2 L606.6,144.0 L607.5,145.8 L608.5,147.6 L609.5,149.4 L610.5,151.1 L611.5,152.9 L612.5,154.7 L613.5,156.4 L614.5,158.2 L615.4,160.0 L616.4,161.7 L617.3,163.5 L618.2,165.3 L619.1,167.1 L619.9,168.9 L620.8,170.8 L621.6,172.6 L622.4,174.5 L623.2,176.4 L623.9,178.2 L624.7,180.1 L625.5,182.0 L626.3,183.9 L627.1,185.7 L627.9,187.6 L628.7,189.4 L629.6,191.3 L630.4,193.1 L631.4,194.9 L632.3,196.7 L633.3,198.5 L634.3,200.3 L635.2,202.1 L636.2,203.8 L637.2,205.6 L638.2,207.4 L639.1,209.2 L640.1,211.0 L641.0,212.8 L641.8,214.6 L642.6,216.5 L643.3,218.4 L644.0,220.3 L644.6,222.3 L645.2,224.3 L645.6,226.3 L646.2,229.2 L660.7,229.2 L660.7,39.4 L596.2,39.4Z" fill="#e03020"/>
<path d="M631.7,80.7 L635.9,82.8 L638.5,84.7 L640.8,87.6 L641.4,90.8 L640.8,96.1 L640.1,100.1 L639.2,105.1 L638.3,108.2 L637.0,111.1 L635.6,112.7 L633.4,113.9 L631.6,113.4 L629.4,110.9 L627.8,108.7 L625.9,105.3 L624.4,102.4 L622.3,98.3 L620.9,94.8 L619.2,90.1 L619.8,87.3 L622.8,84.9 L625.3,83.1 L628.7,80.8 L631.7,80.7Z" fill="#e01848"/>
<path d="M456.9,300.1 L454.9,297.9 L453.5,296.3 L452.0,294.8 L450.6,293.3 L449.0,291.9 L447.5,290.5 L445.9,289.2 L444.3,287.9 L442.7,286.6 L441.0,285.4 L439.4,284.2 L437.6,283.1 L435.9,282.0 L434.2,280.9 L432.4,279.9 L430.6,278.9 L428.7,278.0 L426.9,277.1 L425.0,276.2 L423.1,275.4 L421.2,274.6 L419.3,273.9 L417.4,273.2 L415.4,272.5 L413.4,271.9 L411.4,271.3 L409.4,270.8 L407.4,270.3 L405.4,269.8 L403.4,269.4 L401.3,269.0 L398.4,268.4 L386.4,268.4 L386.4,313.0 L456.9,313.0Z" fill="#eef8c0"/>
<path d="M417.2,299.6 L414.7,297.9 L412.9,296.6 L411.1,295.5 L409.2,294.4 L407.3,293.4 L405.3,292.5 L403.3,291.6 L401.3,290.9 L398.5,289.9 L386.4,289.9 L386.4,313.0 L417.2,313.0Z" fill="#eef080"/>
<path d="M519.8,51.1 L519.7,54.1 L519.6,56.1 L519.5,58.1 L519.4,60.2 L519.3,62.2 L519.2,64.2 L519.1,66.2 L519.1,68.3 L519.0,70.3 L518.9,72.3 L518.8,74.4 L518.7,76.4 L518.7,78.4 L518.6,80.4 L518.5,82.5 L518.5,84.5 L518.4,86.5 L518.3,88.6 L518.3,90.6 L518.2,92.6 L518.2,94.7 L518.2,96.7 L518.1,98.8 L518.1,100.8 L518.1,102.8 L518.1,104.9 L518.1,106.9 L518.1,108.9 L518.1,111.0 L518.1,113.0 L518.1,115.0 L518.1,117.1 L518.2,119.1 L518.2,121.1 L518.2,123.1 L518.3,125.2 L518.4,127.2 L518.4,129.2 L518.5,131.3 L518.6,133.3 L518.7,135.3 L518.8,137.3 L518.9,139.4 L519.1,141.4 L519.2,143.4 L519.3,145.4 L519.5,147.5 L519.7,149.5 L519.8,151.5 L520.0,153.5 L520.2,155.5 L520.4,157.5 L520.7,159.5 L520.9,161.5 L521.1,163.6 L521.4,165.6 L521.7,167.6 L522.0,169.6 L522.2,171.6 L522.6,173.6 L522.9,175.6 L523.2,177.5 L523.6,179.5 L523.9,181.5 L524.3,183.5 L524.7,185.5 L525.1,187.5 L525.5,189.5 L525.9,191.4 L526.4,193.4 L526.9,195.4 L527.3,197.3 L527.8,199.3 L528.3,201.3 L528.9,203.2 L529.4,205.2 L530.0,207.1 L530.5,209.1 L531.1,211.0 L531.7,213.0 L532.4,214.9 L533.0,216.9 L533.7,218.8 L534.4,220.7 L535.1,222.7 L535.8,224.6 L536.5,226.5 L537.3,228.4 L538.0,230.3 L538.8,232.2 L539.6,234.1 L540.4,236.0 L541.2,237.9 L542.0,239.8 L542.9,241.6 L543.7,243.5 L544.5,245.3 L545.4,247.2 L546.2,249.0 L547.0,250.8 L547.9,252.5 L548.9,254.3 L549.9,255.9 L551.1,257.5 L552.4,258.9 L553.7,260.4 L555.2,261.7 L556.7,263.1 L558.2,264.5 L559.6,265.9 L561.1,267.3 L562.5,268.7 L563.9,270.2 L565.3,271.7 L566.6,273.2 L567.9,274.8 L569.1,276.4 L570.3,278.1 L571.4,279.8 L572.4,281.6 L573.4,283.4 L574.3,285.2 L575.2,287.0 L576.1,288.9 L576.9,290.7 L577.8,292.6 L578.7,294.4 L579.7,296.2 L580.7,297.9 L582.2,300.5 L582.2,313.0 L482.0,313.0 L482.0,300.8 L481.4,297.9 L480.9,295.8 L480.4,293.7 L479.8,291.7 L479.1,289.7 L478.3,287.8 L477.4,286.0 L476.4,284.2 L475.4,282.5 L474.3,280.8 L473.2,279.2 L472.0,277.7 L470.7,276.2 L469.4,274.7 L468.0,273.3 L466.5,272.0 L465.0,270.7 L463.4,269.5 L461.8,268.3 L460.2,267.1 L458.5,266.0 L456.8,265.0 L455.0,264.0 L453.2,263.0 L451.3,262.1 L449.4,261.2 L447.5,260.4 L445.6,259.6 L443.7,258.9 L441.7,258.2 L439.7,257.5 L437.7,256.9 L435.6,256.3 L433.6,255.8 L431.6,255.3 L429.5,254.8 L427.4,254.3 L425.4,253.9 L423.3,253.6 L421.3,253.2 L419.2,252.9 L417.1,252.7 L415.1,252.4 L413.1,252.2 L411.1,252.0 L409.1,251.9 L407.1,251.7 L405.1,251.6 L403.2,251.6 L401.3,251.5 L398.3,251.4 L386.4,251.4 L386.4,39.4 L519.8,39.4Z" fill="#94e0a8"/>
<path d="M511.3,51.1 L511.4,54.1 L511.5,56.1 L511.6,58.1 L511.7,60.1 L511.7,62.1 L511.8,64.1 L511.8,66.1 L511.8,68.2 L511.9,70.2 L511.9,72.2 L511.9,74.2 L511.9,76.2 L511.9,78.3 L511.9,80.3 L511.9,82.3 L511.8,84.3 L511.8,86.4 L511.8,88.4 L511.7,90.4 L511.7,92.4 L511.6,94.5 L511.6,96.5 L511.6,98.5 L511.5,100.5 L511.5,102.6 L511.4,104.6 L511.4,106.6 L511.3,108.7 L511.3,110.7 L511.2,112.7 L511.2,114.8 L511.2,116.8 L511.1,118.8 L511.1,120.8 L511.1,122.9 L511.1,124.9 L511.1,126.9 L511.1,129.0 L511.1,131.0 L511.1,133.0 L511.1,135.0 L511.1,137.1 L511.2,139.1 L511.2,141.1 L511.3,143.1 L511.4,145.1 L511.4,147.2 L511.5,149.2 L511.6,151.2 L511.8,153.2 L511.9,155.2 L512.1,157.2 L512.2,159.2 L512.4,161.2 L512.6,163.2 L512.8,165.2 L513.0,167.2 L513.3,169.2 L513.6,171.2 L513.8,173.2 L514.1,175.2 L514.4,177.2 L514.8,179.1 L515.1,181.1 L515.5,183.1 L515.9,185.1 L516.3,187.1 L516.7,189.0 L517.1,191.0 L517.5,193.0 L518.0,194.9 L518.4,196.9 L518.9,198.9 L519.4,200.8 L519.9,202.8 L520.4,204.7 L520.9,206.7 L521.5,208.7 L522.0,210.6 L522.6,212.6 L523.1,214.5 L523.7,216.5 L524.3,218.4 L524.9,220.4 L525.5,222.3 L526.1,224.2 L526.7,226.2 L527.4,228.1 L528.0,230.0 L528.7,231.9 L529.3,233.8 L530.0,235.7 L530.7,237.6 L531.4,239.5 L532.1,241.4 L532.8,243.3 L533.6,245.1 L534.3,247.0 L535.0,248.9 L535.8,250.7 L536.6,252.6 L537.3,254.4 L538.1,256.3 L538.9,258.1 L539.6,260.0 L540.4,261.9 L541.2,263.7 L542.0,265.6 L542.7,267.5 L543.5,269.4 L544.3,271.3 L545.1,273.2 L545.9,275.1 L546.7,277.0 L547.6,278.9 L548.6,280.7 L549.7,282.4 L550.9,283.9 L552.3,284.9 L554.0,285.2 L555.8,285.0 L557.8,284.6 L559.7,284.3 L561.5,284.6 L563.2,285.5 L564.6,286.8 L565.8,288.6 L566.8,290.6 L567.7,292.6 L568.6,294.7 L569.5,296.5 L570.5,297.9 L572.2,300.4 L572.2,313.0 L505.1,313.0 L505.1,300.8 L504.5,297.9 L504.1,296.0 L503.7,294.1 L503.3,292.1 L502.8,290.1 L502.4,288.1 L501.9,286.0 L501.4,284.0 L500.8,281.9 L500.2,279.9 L499.6,277.9 L498.9,275.9 L498.2,273.9 L497.4,272.0 L496.5,270.1 L495.6,268.2 L494.6,266.5 L493.5,264.8 L492.4,263.1 L491.2,261.5 L489.8,260.1 L488.4,258.7 L487.0,257.3 L485.4,256.1 L483.8,254.9 L482.2,253.8 L480.4,252.7 L478.7,251.7 L476.9,250.8 L475.1,249.8 L473.2,249.0 L471.4,248.2 L469.5,247.4 L467.6,246.6 L465.6,245.9 L463.7,245.2 L461.7,244.5 L459.8,243.9 L457.8,243.3 L455.8,242.7 L453.8,242.2 L451.8,241.7 L449.8,241.1 L447.8,240.6 L445.8,240.2 L443.8,239.7 L441.8,239.3 L439.8,238.8 L437.7,238.4 L435.7,238.0 L433.7,237.6 L431.7,237.2 L429.7,236.8 L427.7,236.5 L425.7,236.1 L423.7,235.8 L421.7,235.6 L419.7,235.4 L417.7,235.2 L415.7,235.1 L413.7,235.0 L411.6,235.0 L409.6,235.0 L407.5,235.1 L405.5,235.3 L403.4,235.5 L401.3,235.8 L398.3,236.2 L386.4,236.2 L386.4,39.4 L511.3,39.4Z" fill="#84dcb4"/>
<path d="M501.9,51.1 L502.2,54.1 L502.4,56.1 L502.5,58.1 L502.7,60.2 L502.9,62.2 L503.0,64.2 L503.2,66.2 L503.3,68.2 L503.4,70.3 L503.6,72.3 L503.7,74.3 L503.8,76.3 L503.9,78.3 L504.0,80.4 L504.1,82.4 L504.2,84.4 L504.3,86.4 L504.4,88.4 L504.5,90.5 L504.6,92.5 L504.6,94.5 L504.7,96.5 L504.8,98.5 L504.8,100.6 L504.8,102.6 L504.9,104.6 L504.9,106.6 L504.9,108.6 L505.0,110.7 L505.0,112.7 L505.0,114.7 L505.0,116.7 L504.9,118.8 L504.9,120.8 L504.9,122.8 L504.9,124.8 L504.8,126.9 L504.8,128.9 L504.7,130.9 L504.6,133.0 L504.6,135.0 L504.5,137.0 L504.4,139.0 L504.3,141.1 L504.2,143.1 L504.2,145.1 L504.1,147.2 L504.0,149.2 L503.9,151.2 L503.8,153.3 L503.7,155.3 L503.6,157.3 L503.6,159.3 L503.5,161.4 L503.4,163.4 L503.4,165.4 L503.3,167.4 L503.3,169.4 L503.2,171.5 L503.2,173.5 L503.3,175.5 L503.3,177.5 L503.4,179.5 L503.6,181.5 L503.8,183.5 L504.2,185.5 L504.5,187.5 L505.0,189.4 L505.5,191.4 L506.0,193.4 L506.6,195.3 L507.3,197.3 L507.9,199.3 L508.6,201.2 L509.3,203.2 L510.0,205.1 L510.7,207.0 L511.4,209.0 L512.1,210.9 L512.7,212.9 L513.3,214.8 L513.8,216.7 L514.3,218.7 L514.8,220.6 L515.1,222.5 L515.4,224.4 L515.6,226.3 L515.6,228.2 L515.5,230.1 L515.3,232.0 L514.8,233.8 L514.1,235.7 L513.3,237.4 L512.1,239.2 L510.7,240.9 L510.7,240.9 L508.8,240.0 L507.0,239.2 L505.1,238.3 L503.2,237.5 L501.3,236.6 L499.5,235.8 L497.6,234.9 L495.7,234.1 L493.8,233.4 L491.9,232.6 L490.0,231.9 L488.1,231.3 L486.1,230.7 L484.1,230.1 L482.2,229.6 L480.2,229.2 L478.1,228.7 L476.1,228.4 L474.1,228.0 L472.1,227.6 L470.0,227.3 L468.0,227.0 L466.0,226.6 L463.9,226.2 L461.9,225.8 L459.9,225.4 L457.9,224.9 L455.9,224.5 L453.9,224.0 L451.9,223.5 L449.9,223.0 L448.0,222.5 L446.0,222.1 L444.0,221.7 L442.0,221.3 L440.0,220.9 L438.0,220.6 L435.9,220.4 L433.9,220.1 L431.9,220.0 L429.8,219.8 L427.8,219.7 L425.7,219.6 L423.7,219.5 L421.6,219.4 L419.5,219.3 L417.5,219.3 L415.4,219.4 L413.4,219.5 L411.4,219.6 L409.3,219.8 L407.3,220.1 L405.3,220.5 L403.3,221.0 L401.3,221.6 L398.4,222.4 L386.4,222.4 L386.4,39.4 L501.9,39.4Z" fill="#88dcc8"/>
<path d="M492.9,51.1 L493.4,54.1 L493.7,56.1 L494.0,58.1 L494.3,60.1 L494.6,62.0 L494.9,64.0 L495.1,66.0 L495.4,68.0 L495.6,70.0 L495.8,72.1 L496.0,74.1 L496.2,76.1 L496.4,78.1 L496.6,80.1 L496.7,82.1 L496.9,84.2 L497.0,86.2 L497.2,88.2 L497.3,90.2 L497.4,92.3 L497.5,94.3 L497.5,96.3 L497.6,98.3 L497.6,100.4 L497.7,102.4 L497.7,104.4 L497.7,106.5 L497.7,108.5 L497.7,110.5 L497.6,112.5 L497.6,114.6 L497.5,116.6 L497.5,118.6 L497.4,120.6 L497.3,122.7 L497.2,124.7 L497.0,126.7 L496.9,128.7 L496.7,130.7 L496.6,132.7 L496.4,134.7 L496.2,136.7 L496.0,138.7 L495.8,140.7 L495.5,142.7 L495.3,144.7 L495.0,146.7 L494.7,148.7 L494.4,150.7 L494.1,152.6 L493.8,154.6 L493.4,156.6 L493.1,158.5 L492.7,160.5 L492.3,162.5 L491.9,164.4 L491.5,166.4 L491.0,168.4 L490.6,170.3 L490.1,172.3 L489.6,174.3 L489.1,176.3 L488.6,178.3 L488.1,180.3 L487.5,182.3 L486.9,184.3 L486.3,186.4 L485.7,188.4 L485.0,190.3 L484.2,192.2 L483.4,194.1 L482.5,195.9 L481.5,197.6 L480.4,199.2 L479.2,200.7 L477.8,202.0 L476.3,203.2 L474.7,204.3 L472.9,205.2 L471.1,206.0 L469.2,206.6 L467.2,207.1 L465.2,207.5 L463.1,207.7 L461.1,207.8 L459.1,207.8 L457.1,207.7 L455.1,207.6 L453.1,207.3 L451.1,207.0 L449.1,206.7 L447.1,206.3 L445.1,205.9 L443.1,205.6 L441.1,205.3 L439.1,205.0 L437.1,204.7 L435.1,204.6 L433.1,204.5 L431.1,204.4 L429.0,204.4 L427.0,204.4 L425.0,204.5 L423.0,204.6 L421.0,204.7 L419.0,204.8 L417.0,204.9 L415.0,205.1 L413.0,205.2 L411.0,205.4 L409.1,205.7 L407.1,206.1 L405.1,206.5 L403.2,207.2 L401.3,208.0 L398.5,209.2 L386.4,209.2 L386.4,39.4 L492.9,39.4Z" fill="#8cdcd8"/>
<path d="M481.1,51.2 L481.8,54.1 L482.3,56.2 L482.8,58.3 L483.2,60.4 L483.7,62.5 L484.1,64.6 L484.5,66.7 L484.9,68.8 L485.3,71.0 L485.6,73.1 L486.0,75.2 L486.3,77.3 L486.6,79.5 L486.9,81.6 L487.2,83.7 L487.5,85.9 L487.7,88.0 L487.9,90.0 L488.0,92.1 L488.0,94.1 L488.1,96.1 L488.0,98.1 L488.0,100.2 L487.9,102.2 L487.8,104.2 L487.7,106.3 L487.5,108.3 L487.3,110.3 L487.0,112.3 L486.7,114.4 L486.4,116.4 L486.1,118.4 L485.8,120.4 L485.4,122.4 L485.0,124.4 L484.5,126.4 L484.1,128.4 L483.6,130.4 L483.1,132.4 L482.6,134.4 L482.1,136.3 L481.6,138.3 L481.0,140.3 L480.4,142.2 L479.8,144.1 L479.2,146.1 L478.6,148.0 L478.0,149.9 L477.4,151.8 L476.7,153.7 L476.1,155.6 L475.4,157.5 L474.7,159.4 L474.0,161.2 L473.2,163.1 L472.5,165.0 L471.7,166.9 L470.8,168.8 L470.0,170.7 L469.1,172.6 L468.2,174.5 L467.2,176.4 L466.2,178.3 L465.1,180.2 L463.9,181.9 L462.6,183.5 L461.2,184.9 L459.6,186.0 L457.9,186.9 L456.2,187.5 L454.3,188.0 L452.3,188.3 L450.3,188.5 L448.2,188.5 L446.1,188.5 L444.1,188.3 L442.0,188.2 L439.9,188.0 L437.9,187.9 L435.9,187.8 L433.9,187.8 L432.0,187.9 L430.0,188.1 L428.0,188.3 L426.0,188.5 L424.0,188.6 L422.0,188.5 L420.0,188.4 L418.0,188.2 L416.0,188.0 L414.0,187.9 L412.0,187.9 L410.1,188.1 L408.2,188.5 L406.4,189.1 L404.6,190.1 L402.9,191.4 L401.3,193.1 L399.2,195.3 L386.4,195.3 L386.4,39.4 L481.1,39.4Z" fill="#6cc4e0"/>
<path d="M461.7,51.2 L462.4,54.1 L462.9,56.2 L463.5,58.3 L464.1,60.4 L464.7,62.5 L465.4,64.6 L466.0,66.7 L466.6,68.8 L467.3,70.9 L467.9,73.0 L468.5,75.2 L469.0,77.3 L469.5,79.4 L470.0,81.5 L470.5,83.7 L470.9,85.8 L471.2,88.0 L471.2,90.1 L471.2,92.1 L471.1,94.1 L471.0,96.2 L470.9,98.2 L470.8,100.3 L470.6,102.3 L470.4,104.3 L470.1,106.4 L469.9,108.4 L469.6,110.4 L469.3,112.4 L468.9,114.4 L468.5,116.4 L468.2,118.4 L467.7,120.4 L467.3,122.4 L466.9,124.4 L466.4,126.4 L465.9,128.4 L465.4,130.4 L464.9,132.4 L464.4,134.4 L463.8,136.3 L463.2,138.3 L462.6,140.3 L461.9,142.2 L461.2,144.1 L460.5,146.0 L459.6,147.9 L458.7,149.7 L457.8,151.5 L456.7,153.3 L455.6,155.0 L454.4,156.7 L453.0,158.4 L451.6,159.9 L450.1,161.4 L448.4,162.5 L446.7,163.4 L444.8,163.8 L442.9,163.7 L440.8,163.4 L438.8,163.1 L436.7,162.8 L434.7,162.8 L432.7,163.1 L430.7,163.6 L428.8,164.2 L426.8,164.8 L424.9,165.3 L422.9,165.6 L420.9,165.7 L418.9,165.6 L416.9,165.5 L414.9,165.5 L413.0,165.6 L411.1,165.9 L409.3,166.5 L407.6,167.5 L406.0,168.9 L404.4,170.7 L402.9,172.3 L401.3,173.4 L398.8,175.1 L386.4,175.1 L386.4,39.4 L461.7,39.4Z" fill="#5aa0d0"/>
<path d="M445.5,51.2 L446.4,54.1 L447.1,56.2 L447.7,58.3 L448.4,60.4 L449.0,62.5 L449.7,64.6 L450.3,66.7 L451.0,68.8 L451.6,70.9 L452.2,73.0 L452.7,75.1 L453.3,77.3 L453.8,79.4 L454.3,81.5 L454.8,83.7 L455.2,85.8 L455.6,88.0 L455.3,90.0 L455.1,92.0 L454.9,94.0 L454.7,96.1 L454.5,98.1 L454.3,100.2 L454.1,102.2 L453.8,104.3 L453.4,106.3 L452.9,108.3 L452.4,110.3 L451.8,112.3 L451.0,114.3 L450.1,116.2 L449.1,118.0 L447.9,119.6 L446.5,121.1 L445.0,122.3 L443.4,123.2 L441.5,123.7 L439.6,123.8 L437.5,123.8 L435.4,123.9 L433.5,124.2 L431.7,124.9 L429.9,125.9 L428.2,127.0 L426.5,128.1 L424.7,129.0 L422.9,129.6 L420.9,130.0 L418.8,130.2 L416.8,130.4 L414.9,130.9 L413.2,131.7 L411.7,132.8 L410.3,134.3 L409.0,136.0 L407.9,137.8 L406.8,139.7 L405.7,141.7 L404.7,143.6 L403.6,145.3 L402.5,146.9 L401.3,148.2 L399.2,150.4 L386.4,150.4 L386.4,39.4 L445.5,39.4Z" fill="#3f72b8"/>
<path d="M400.9,52.0 L401.3,55.0 L401.6,57.1 L401.9,59.2 L402.3,61.2 L402.7,63.3 L403.0,65.4 L403.4,67.5 L403.7,69.6 L404.1,71.7 L404.4,73.8 L404.7,75.9 L404.9,78.0 L405.2,80.1 L405.3,82.2 L405.4,84.3 L405.5,86.4 L405.5,88.5 L405.4,90.6 L405.2,92.7 L405.0,94.8 L404.6,96.8 L404.2,98.9 L403.6,100.9 L403.0,103.0 L402.2,105.0 L401.3,107.0 L400.1,109.7 L386.4,109.7 L386.4,52.0Z" fill="#3548a8"/>
<path d="M532.8,51.1 L532.6,54.1 L532.5,56.1 L532.3,58.1 L532.2,60.2 L532.1,62.2 L532.0,64.2 L531.9,66.2 L531.8,68.2 L531.7,70.3 L531.6,72.3 L531.6,74.3 L531.5,76.4 L531.4,78.4 L531.4,80.4 L531.3,82.4 L531.3,84.5 L531.3,86.5 L531.3,88.5 L531.3,90.6 L531.3,92.6 L531.3,94.6 L531.3,96.7 L531.3,98.7 L531.3,100.7 L531.4,102.8 L531.4,104.8 L531.5,106.8 L531.6,108.9 L531.6,110.9 L531.7,112.9 L531.8,115.0 L531.9,117.0 L532.0,119.0 L532.2,121.0 L532.3,123.1 L532.4,125.1 L532.6,127.1 L532.8,129.2 L532.9,131.2 L533.1,133.2 L533.3,135.2 L533.5,137.3 L533.7,139.3 L533.9,141.3 L534.2,143.3 L534.4,145.4 L534.7,147.4 L534.9,149.4 L535.2,151.4 L535.5,153.4 L535.8,155.5 L536.1,157.5 L536.4,159.5 L536.7,161.5 L537.1,163.5 L537.4,165.5 L537.8,167.5 L538.1,169.5 L538.5,171.5 L538.9,173.5 L539.3,175.5 L539.8,177.5 L540.2,179.5 L540.7,181.5 L541.1,183.4 L541.6,185.4 L542.1,187.4 L542.7,189.3 L543.2,191.3 L543.8,193.2 L544.4,195.2 L545.0,197.1 L545.6,199.0 L546.3,200.9 L547.0,202.8 L547.7,204.7 L548.4,206.6 L549.1,208.5 L549.9,210.3 L550.7,212.2 L551.6,214.0 L552.4,215.8 L553.3,217.6 L554.2,219.4 L555.2,221.2 L556.2,223.0 L557.2,224.7 L558.2,226.5 L559.3,228.2 L560.4,229.9 L561.5,231.6 L562.6,233.3 L563.7,235.0 L564.9,236.7 L566.0,238.4 L567.2,240.1 L568.4,241.7 L569.5,243.4 L570.7,245.1 L571.9,246.8 L573.1,248.4 L574.2,250.1 L575.4,251.8 L576.5,253.5 L577.7,255.2 L578.8,256.9 L579.9,258.6 L581.0,260.3 L582.0,262.0 L583.1,263.7 L584.1,265.5 L585.0,267.2 L586.0,269.0 L586.9,270.8 L587.7,272.6 L588.6,274.4 L589.4,276.2 L590.1,278.1 L590.8,279.9 L591.4,281.8 L592.0,283.8 L592.6,285.7 L593.0,287.7 L593.5,289.7 L593.8,291.7 L594.1,293.7 L594.3,295.8 L594.5,297.9 L594.7,300.9" fill="none" stroke="#000" stroke-width="0.5" stroke-opacity="0.75"/>
<path d="M417.2,299.6 L414.7,297.9 L412.9,296.6 L411.1,295.5 L409.2,294.4 L407.3,293.4 L405.3,292.5 L403.3,291.6 L401.3,290.9 L398.5,289.9" fill="none" stroke="#000" stroke-width="0.5" stroke-opacity="0.75"/>
<path d="M540.1,51.1 L539.9,54.1 L539.8,56.1 L539.6,58.1 L539.5,60.1 L539.4,62.2 L539.3,64.2 L539.2,66.2 L539.1,68.2 L539.1,70.2 L539.0,72.3 L539.0,74.3 L538.9,76.3 L538.9,78.3 L538.9,80.4 L538.9,82.4 L538.9,84.4 L538.9,86.5 L538.9,88.5 L539.0,90.5 L539.0,92.6 L539.1,94.6 L539.2,96.6 L539.2,98.7 L539.3,100.7 L539.4,102.7 L539.5,104.7 L539.6,106.8 L539.8,108.8 L539.9,110.8 L540.0,112.9 L540.2,114.9 L540.4,116.9 L540.5,119.0 L540.7,121.0 L540.9,123.0 L541.1,125.1 L541.3,127.1 L541.6,129.1 L541.8,131.1 L542.0,133.2 L542.3,135.2 L542.5,137.2 L542.8,139.2 L543.1,141.3 L543.4,143.3 L543.7,145.3 L544.0,147.3 L544.3,149.3 L544.6,151.3 L545.0,153.3 L545.3,155.3 L545.7,157.4 L546.1,159.4 L546.4,161.4 L546.8,163.4 L547.2,165.4 L547.6,167.3 L548.0,169.3 L548.5,171.3 L548.9,173.3 L549.4,175.3 L549.8,177.3 L550.3,179.2 L550.8,181.2 L551.4,183.1 L551.9,185.1 L552.5,187.0 L553.1,188.9 L553.7,190.8 L554.4,192.7 L555.1,194.6 L555.8,196.5 L556.5,198.4 L557.3,200.2 L558.1,202.1 L558.9,203.9 L559.8,205.7 L560.7,207.5 L561.6,209.3 L562.5,211.1 L563.5,212.9 L564.5,214.6 L565.5,216.4 L566.5,218.1 L567.6,219.9 L568.6,221.6 L569.7,223.3 L570.8,225.0 L571.9,226.7 L573.1,228.4 L574.2,230.1 L575.3,231.8 L576.5,233.5 L577.6,235.2 L578.8,236.9 L579.9,238.6 L581.1,240.3 L582.2,242.0 L583.4,243.7 L584.5,245.4 L585.6,247.1 L586.7,248.8 L587.8,250.5 L588.8,252.2 L589.9,254.0 L590.9,255.7 L591.9,257.5 L592.9,259.3 L593.8,261.0 L594.7,262.8 L595.6,264.6 L596.5,266.5 L597.3,268.3 L598.0,270.2 L598.8,272.0 L599.5,273.9 L600.1,275.8 L600.7,277.7 L601.3,279.7 L601.8,281.6 L602.3,283.6 L602.8,285.6 L603.1,287.6 L603.5,289.6 L603.8,291.6 L604.0,293.7 L604.2,295.8 L604.3,297.9 L604.5,300.9" fill="none" stroke="#000" stroke-width="0.5" stroke-opacity="0.75"/>
<path d="M547.6,51.1 L547.4,54.1 L547.3,56.1 L547.1,58.1 L547.0,60.2 L546.9,62.2 L546.8,64.2 L546.8,66.2 L546.7,68.2 L546.7,70.3 L546.6,72.3 L546.6,74.3 L546.6,76.3 L546.6,78.3 L546.6,80.4 L546.7,82.4 L546.7,84.4 L546.8,86.4 L546.8,88.4 L546.9,90.4 L547.0,92.5 L547.1,94.5 L547.2,96.5 L547.3,98.5 L547.5,100.5 L547.6,102.5 L547.8,104.6 L547.9,106.6 L548.1,108.6 L548.3,110.6 L548.5,112.6 L548.7,114.6 L548.9,116.6 L549.2,118.6 L549.4,120.6 L549.7,122.6 L549.9,124.7 L550.2,126.7 L550.5,128.7 L550.7,130.7 L551.0,132.7 L551.3,134.7 L551.6,136.7 L552.0,138.7 L552.3,140.7 L552.6,142.7 L553.0,144.7 L553.3,146.7 L553.7,148.7 L554.0,150.7 L554.4,152.6 L554.8,154.6 L555.2,156.6 L555.6,158.6 L556.0,160.6 L556.4,162.6 L556.8,164.6 L557.3,166.5 L557.7,168.5 L558.2,170.5 L558.7,172.4 L559.2,174.4 L559.7,176.3 L560.2,178.3 L560.8,180.2 L561.3,182.1 L561.9,184.1 L562.5,186.0 L563.2,187.9 L563.8,189.8 L564.5,191.7 L565.2,193.6 L565.9,195.4 L566.7,197.3 L567.5,199.2 L568.3,201.0 L569.1,202.8 L570.0,204.6 L570.8,206.4 L571.8,208.2 L572.7,210.0 L573.7,211.8 L574.7,213.5 L575.8,215.3 L576.8,217.0 L577.9,218.8 L579.0,220.5 L580.1,222.2 L581.3,223.9 L582.4,225.5 L583.6,227.2 L584.7,228.9 L585.9,230.5 L587.1,232.2 L588.3,233.8 L589.5,235.5 L590.7,237.1 L591.9,238.7 L593.0,240.4 L594.2,242.0 L595.4,243.6 L596.5,245.2 L597.7,246.9 L598.8,248.5 L599.9,250.2 L601.0,251.9 L602.1,253.6 L603.1,255.3 L604.1,257.0 L605.1,258.8 L606.0,260.6 L606.8,262.4 L607.7,264.2 L608.4,266.0 L609.1,267.9 L609.7,269.8 L610.3,271.7 L610.8,273.7 L611.2,275.7 L611.6,277.7 L611.9,279.7 L612.2,281.7 L612.4,283.8 L612.6,285.8 L612.8,287.9 L612.9,289.9 L613.1,291.9 L613.2,293.9 L613.4,295.9 L613.5,297.9 L613.7,300.9" fill="none" stroke="#000" stroke-width="0.5" stroke-opacity="0.75"/>
<path d="M554.8,51.1 L554.5,54.1 L554.3,56.1 L554.1,58.1 L553.9,60.2 L553.8,62.2 L553.7,64.2 L553.6,66.2 L553.5,68.2 L553.5,70.2 L553.4,72.3 L553.4,74.3 L553.4,76.3 L553.4,78.3 L553.4,80.3 L553.5,82.3 L553.5,84.4 L553.6,86.4 L553.7,88.4 L553.8,90.4 L553.9,92.4 L554.1,94.4 L554.2,96.4 L554.3,98.5 L554.5,100.5 L554.7,102.5 L554.9,104.5 L555.0,106.5 L555.2,108.5 L555.4,110.5 L555.7,112.5 L555.9,114.5 L556.1,116.5 L556.3,118.5 L556.6,120.5 L556.9,122.5 L557.1,124.5 L557.4,126.5 L557.7,128.5 L558.0,130.5 L558.3,132.5 L558.6,134.5 L558.9,136.5 L559.3,138.5 L559.6,140.5 L560.0,142.5 L560.3,144.5 L560.7,146.5 L561.1,148.4 L561.5,150.4 L561.9,152.4 L562.3,154.4 L562.7,156.4 L563.1,158.4 L563.6,160.3 L564.1,162.3 L564.5,164.3 L565.1,166.2 L565.6,168.1 L566.2,170.1 L566.8,172.0 L567.4,173.9 L568.1,175.8 L568.8,177.7 L569.6,179.5 L570.4,181.4 L571.2,183.2 L572.1,185.0 L573.0,186.8 L574.0,188.6 L575.0,190.3 L576.0,192.1 L577.0,193.8 L578.0,195.6 L579.1,197.3 L580.1,199.0 L581.2,200.7 L582.3,202.5 L583.3,204.2 L584.4,205.9 L585.4,207.7 L586.5,209.4 L587.5,211.1 L588.5,212.9 L589.5,214.6 L590.6,216.3 L591.6,218.1 L592.6,219.8 L593.6,221.5 L594.7,223.2 L595.7,225.0 L596.8,226.7 L597.8,228.4 L598.9,230.1 L600.0,231.7 L601.2,233.4 L602.3,235.1 L603.5,236.7 L604.6,238.4 L605.8,240.0 L607.0,241.7 L608.2,243.3 L609.3,245.0 L610.5,246.6 L611.6,248.3 L612.7,249.9 L613.8,251.6 L614.9,253.3 L615.9,255.0 L616.9,256.8 L617.8,258.5 L618.7,260.3 L619.5,262.1 L620.2,264.0 L620.9,265.8 L621.4,267.7 L621.9,269.6 L622.4,271.6 L622.7,273.6 L623.0,275.6 L623.2,277.6 L623.4,279.7 L623.6,281.7 L623.7,283.8 L623.8,285.8 L623.9,287.9 L624.0,289.9 L624.1,291.9 L624.2,293.9 L624.3,295.9 L624.5,297.9 L624.7,300.9" fill="none" stroke="#000" stroke-width="0.5" stroke-opacity="0.75"/>
<path d="M561.6,51.1 L561.2,54.1 L560.9,56.2 L560.7,58.2 L560.5,60.3 L560.3,62.3 L560.2,64.4 L560.0,66.4 L560.0,68.4 L559.9,70.5 L559.9,72.5 L559.9,74.5 L559.9,76.6 L560.0,78.6 L560.1,80.6 L560.2,82.6 L560.3,84.6 L560.4,86.6 L560.6,88.7 L560.8,90.7 L561.0,92.7 L561.2,94.7 L561.5,96.7 L561.7,98.7 L562.0,100.7 L562.3,102.7 L562.6,104.7 L562.9,106.7 L563.2,108.7 L563.6,110.7 L563.9,112.7 L564.3,114.7 L564.6,116.7 L565.0,118.7 L565.4,120.7 L565.7,122.7 L566.1,124.7 L566.5,126.7 L566.9,128.7 L567.3,130.7 L567.7,132.7 L568.1,134.7 L568.5,136.7 L568.8,138.7 L569.3,140.7 L569.7,142.7 L570.1,144.7 L570.5,146.6 L571.0,148.6 L571.5,150.6 L572.0,152.6 L572.5,154.5 L573.0,156.5 L573.5,158.4 L574.1,160.4 L574.7,162.3 L575.4,164.2 L576.0,166.1 L576.7,168.0 L577.4,169.9 L578.2,171.8 L579.0,173.6 L579.8,175.5 L580.6,177.3 L581.4,179.1 L582.3,180.9 L583.2,182.7 L584.2,184.5 L585.1,186.3 L586.1,188.0 L587.2,189.8 L588.2,191.5 L589.3,193.2 L590.4,194.9 L591.5,196.6 L592.6,198.3 L593.8,200.0 L594.9,201.7 L596.1,203.3 L597.3,205.0 L598.5,206.7 L599.7,208.4 L600.8,210.0 L602.0,211.7 L603.1,213.4 L604.3,215.1 L605.4,216.8 L606.5,218.5 L607.6,220.2 L608.6,222.0 L609.6,223.7 L610.6,225.5 L611.6,227.3 L612.6,229.0 L613.5,230.8 L614.5,232.6 L615.5,234.4 L616.4,236.2 L617.4,237.9 L618.5,239.7 L619.6,241.4 L620.7,243.1 L621.8,244.7 L623.0,246.4 L624.3,248.0 L625.6,249.6 L627.0,251.1 L628.3,252.7 L629.6,254.3 L630.7,255.9 L631.7,257.6 L632.5,259.5 L633.1,261.4 L633.5,263.3 L633.8,265.3 L634.1,267.4 L634.3,269.4 L634.5,271.5 L634.6,273.5 L634.7,275.6 L634.8,277.6 L634.9,279.6 L634.9,281.7 L635.0,283.7 L635.0,285.8 L635.1,287.8 L635.1,289.8 L635.2,291.9 L635.2,293.9 L635.3,295.9 L635.4,297.9 L635.6,300.9" fill="none" stroke="#000" stroke-width="0.5" stroke-opacity="0.75"/>
<path d="M575.5,51.1 L575.1,54.1 L574.9,56.1 L574.6,58.2 L574.5,60.2 L574.3,62.3 L574.2,64.3 L574.1,66.3 L574.0,68.4 L574.0,70.4 L574.0,72.4 L574.0,74.4 L574.1,76.4 L574.2,78.5 L574.3,80.5 L574.4,82.5 L574.6,84.5 L574.7,86.5 L574.9,88.5 L575.1,90.5 L575.4,92.5 L575.6,94.5 L575.9,96.5 L576.2,98.5 L576.5,100.5 L576.9,102.5 L577.2,104.5 L577.6,106.5 L577.9,108.4 L578.3,110.4 L578.7,112.4 L579.1,114.4 L579.5,116.4 L580.0,118.4 L580.4,120.3 L580.8,122.3 L581.3,124.3 L581.8,126.2 L582.2,128.2 L582.7,130.2 L583.2,132.2 L583.6,134.1 L584.1,136.1 L584.6,138.1 L585.1,140.0 L585.6,142.0 L586.1,144.0 L586.6,145.9 L587.1,147.9 L587.6,149.9 L588.1,151.8 L588.6,153.8 L589.1,155.8 L589.6,157.7 L590.0,159.7 L590.5,161.7 L591.0,163.7 L591.5,165.6 L592.1,167.6 L592.6,169.6 L593.2,171.5 L593.8,173.4 L594.4,175.4 L595.1,177.2 L595.9,179.1 L596.6,180.9 L597.5,182.7 L598.4,184.5 L599.4,186.3 L600.4,188.0 L601.4,189.7 L602.5,191.4 L603.7,193.0 L604.9,194.6 L606.1,196.2 L607.3,197.8 L608.6,199.4 L609.8,201.0 L611.1,202.6 L612.3,204.2 L613.6,205.8 L614.8,207.4 L615.9,209.1 L617.1,210.8 L618.2,212.4 L619.3,214.1 L620.4,215.8 L621.4,217.5 L622.5,219.3 L623.5,221.0 L624.5,222.7 L625.5,224.5 L626.5,226.2 L627.5,228.0 L628.5,229.8 L629.5,231.5 L630.5,233.3 L631.5,235.0 L632.5,236.8 L633.6,238.5 L634.6,240.2 L635.7,241.9 L636.8,243.6 L637.9,245.3 L639.1,246.9 L640.3,248.5 L641.6,250.1 L642.9,251.7 L644.2,253.2 L645.6,254.7 L647.6,256.9" fill="none" stroke="#000" stroke-width="0.5" stroke-opacity="0.75"/>
<path d="M596.2,51.2 L595.3,54.1 L594.7,56.1 L594.1,58.0 L593.6,60.0 L593.1,62.0 L592.7,64.0 L592.2,66.0 L591.8,68.0 L591.5,70.0 L591.1,72.0 L590.9,74.0 L590.6,76.0 L590.4,78.1 L590.2,80.1 L590.1,82.1 L590.0,84.2 L589.9,86.2 L589.9,88.2 L589.9,90.2 L590.0,92.3 L590.1,94.3 L590.2,96.3 L590.4,98.3 L590.6,100.3 L590.9,102.3 L591.2,104.3 L591.6,106.3 L592.0,108.3 L592.4,110.3 L592.9,112.2 L593.4,114.2 L594.0,116.1 L594.6,118.1 L595.3,120.0 L596.0,121.9 L596.7,123.8 L597.5,125.7 L598.3,127.5 L599.1,129.4 L600.0,131.3 L600.9,133.1 L601.8,135.0 L602.7,136.8 L603.6,138.6 L604.6,140.4 L605.6,142.2 L606.6,144.0 L607.5,145.8 L608.5,147.6 L609.5,149.4 L610.5,151.1 L611.5,152.9 L612.5,154.7 L613.5,156.4 L614.5,158.2 L615.4,160.0 L616.4,161.7 L617.3,163.5 L618.2,165.3 L619.1,167.1 L619.9,168.9 L620.8,170.8 L621.6,172.6 L622.4,174.5 L623.2,176.4 L623.9,178.2 L624.7,180.1 L625.5,182.0 L626.3,183.9 L627.1,185.7 L627.9,187.6 L628.7,189.4 L629.6,191.3 L630.4,193.1 L631.4,194.9 L632.3,196.7 L633.3,198.5 L634.3,200.3 L635.2,202.1 L636.2,203.8 L637.2,205.6 L638.2,207.4 L639.1,209.2 L640.1,211.0 L641.0,212.8 L641.8,214.6 L642.6,216.5 L643.3,218.4 L644.0,220.3 L644.6,222.3 L645.2,224.3 L645.6,226.3 L646.2,229.2" fill="none" stroke="#000" stroke-width="0.5" stroke-opacity="0.75"/>
<path d="M631.7,80.7 L635.9,82.8 L638.5,84.7 L640.8,87.6 L641.4,90.8 L640.8,96.1 L640.1,100.1 L639.2,105.1 L638.3,108.2 L637.0,111.1 L635.6,112.7 L633.4,113.9 L631.6,113.4 L629.4,110.9 L627.8,108.7 L625.9,105.3 L624.4,102.4 L622.3,98.3 L620.9,94.8 L619.2,90.1 L619.8,87.3 L622.8,84.9 L625.3,83.1 L628.7,80.8 L631.7,80.7Z" fill="none" stroke="#000" stroke-width="0.5" stroke-opacity="0.75"/>
<path d="M519.8,51.1 L519.7,54.1 L519.6,56.1 L519.5,58.1 L519.4,60.2 L519.3,62.2 L519.2,64.2 L519.1,66.2 L519.1,68.3 L519.0,70.3 L518.9,72.3 L518.8,74.4 L518.7,76.4 L518.7,78.4 L518.6,80.4 L518.5,82.5 L518.5,84.5 L518.4,86.5 L518.3,88.6 L518.3,90.6 L518.2,92.6 L518.2,94.7 L518.2,96.7 L518.1,98.8 L518.1,100.8 L518.1,102.8 L518.1,104.9 L518.1,106.9 L518.1,108.9 L518.1,111.0 L518.1,113.0 L518.1,115.0 L518.1,117.1 L518.2,119.1 L518.2,121.1 L518.2,123.1 L518.3,125.2 L518.4,127.2 L518.4,129.2 L518.5,131.3 L518.6,133.3 L518.7,135.3 L518.8,137.3 L518.9,139.4 L519.1,141.4 L519.2,143.4 L519.3,145.4 L519.5,147.5 L519.7,149.5 L519.8,151.5 L520.0,153.5 L520.2,155.5 L520.4,157.5 L520.7,159.5 L520.9,161.5 L521.1,163.6 L521.4,165.6 L521.7,167.6 L522.0,169.6 L522.2,171.6 L522.6,173.6 L522.9,175.6 L523.2,177.5 L523.6,179.5 L523.9,181.5 L524.3,183.5 L524.7,185.5 L525.1,187.5 L525.5,189.5 L525.9,191.4 L526.4,193.4 L526.9,195.4 L527.3,197.3 L527.8,199.3 L528.3,201.3 L528.9,203.2 L529.4,205.2 L530.0,207.1 L530.5,209.1 L531.1,211.0 L531.7,213.0 L532.4,214.9 L533.0,216.9 L533.7,218.8 L534.4,220.7 L535.1,222.7 L535.8,224.6 L536.5,226.5 L537.3,228.4 L538.0,230.3 L538.8,232.2 L539.6,234.1 L540.4,236.0 L541.2,237.9 L542.0,239.8 L542.9,241.6 L543.7,243.5 L544.5,245.3 L545.4,247.2 L546.2,249.0 L547.0,250.8 L547.9,252.5 L548.9,254.3 L549.9,255.9 L551.1,257.5 L552.4,258.9 L553.7,260.4 L555.2,261.7 L556.7,263.1 L558.2,264.5 L559.6,265.9 L561.1,267.3 L562.5,268.7 L563.9,270.2 L565.3,271.7 L566.6,273.2 L567.9,274.8 L569.1,276.4 L570.3,278.1 L571.4,279.8 L572.4,281.6 L573.4,283.4 L574.3,285.2 L575.2,287.0 L576.1,288.9 L576.9,290.7 L577.8,292.6 L578.7,294.4 L579.7,296.2 L580.7,297.9 L582.2,300.5" fill="none" stroke="#06503c" stroke-width="0.55" stroke-opacity="0.85" stroke-dasharray="3.6 2.2"/>
<path d="M482.0,300.8 L481.4,297.9 L480.9,295.8 L480.4,293.7 L479.8,291.7 L479.1,289.7 L478.3,287.8 L477.4,286.0 L476.4,284.2 L475.4,282.5 L474.3,280.8 L473.2,279.2 L472.0,277.7 L470.7,276.2 L469.4,274.7 L468.0,273.3 L466.5,272.0 L465.0,270.7 L463.4,269.5 L461.8,268.3 L460.2,267.1 L458.5,266.0 L456.8,265.0 L455.0,264.0 L453.2,263.0 L451.3,262.1 L449.4,261.2 L447.5,260.4 L445.6,259.6 L443.7,258.9 L441.7,258.2 L439.7,257.5 L437.7,256.9 L435.6,256.3 L433.6,255.8 L431.6,255.3 L429.5,254.8 L427.4,254.3 L425.4,253.9 L423.3,253.6 L421.3,253.2 L419.2,252.9 L417.1,252.7 L415.1,252.4 L413.1,252.2 L411.1,252.0 L409.1,251.9 L407.1,251.7 L405.1,251.6 L403.2,251.6 L401.3,251.5 L398.3,251.4" fill="none" stroke="#06503c" stroke-width="0.55" stroke-opacity="0.85" stroke-dasharray="3.6 2.2"/>
<path d="M511.3,51.1 L511.4,54.1 L511.5,56.1 L511.6,58.1 L511.7,60.1 L511.7,62.1 L511.8,64.1 L511.8,66.1 L511.8,68.2 L511.9,70.2 L511.9,72.2 L511.9,74.2 L511.9,76.2 L511.9,78.3 L511.9,80.3 L511.9,82.3 L511.8,84.3 L511.8,86.4 L511.8,88.4 L511.7,90.4 L511.7,92.4 L511.6,94.5 L511.6,96.5 L511.6,98.5 L511.5,100.5 L511.5,102.6 L511.4,104.6 L511.4,106.6 L511.3,108.7 L511.3,110.7 L511.2,112.7 L511.2,114.8 L511.2,116.8 L511.1,118.8 L511.1,120.8 L511.1,122.9 L511.1,124.9 L511.1,126.9 L511.1,129.0 L511.1,131.0 L511.1,133.0 L511.1,135.0 L511.1,137.1 L511.2,139.1 L511.2,141.1 L511.3,143.1 L511.4,145.1 L511.4,147.2 L511.5,149.2 L511.6,151.2 L511.8,153.2 L511.9,155.2 L512.1,157.2 L512.2,159.2 L512.4,161.2 L512.6,163.2 L512.8,165.2 L513.0,167.2 L513.3,169.2 L513.6,171.2 L513.8,173.2 L514.1,175.2 L514.4,177.2 L514.8,179.1 L515.1,181.1 L515.5,183.1 L515.9,185.1 L516.3,187.1 L516.7,189.0 L517.1,191.0 L517.5,193.0 L518.0,194.9 L518.4,196.9 L518.9,198.9 L519.4,200.8 L519.9,202.8 L520.4,204.7 L520.9,206.7 L521.5,208.7 L522.0,210.6 L522.6,212.6 L523.1,214.5 L523.7,216.5 L524.3,218.4 L524.9,220.4 L525.5,222.3 L526.1,224.2 L526.7,226.2 L527.4,228.1 L528.0,230.0 L528.7,231.9 L529.3,233.8 L530.0,235.7 L530.7,237.6 L531.4,239.5 L532.1,241.4 L532.8,243.3 L533.6,245.1 L534.3,247.0 L535.0,248.9 L535.8,250.7 L536.6,252.6 L537.3,254.4 L538.1,256.3 L538.9,258.1 L539.6,260.0 L540.4,261.9 L541.2,263.7 L542.0,265.6 L542.7,267.5 L543.5,269.4 L544.3,271.3 L545.1,273.2 L545.9,275.1 L546.7,277.0 L547.6,278.9 L548.6,280.7 L549.7,282.4 L550.9,283.9 L552.3,284.9 L554.0,285.2 L555.8,285.0 L557.8,284.6 L559.7,284.3 L561.5,284.6 L563.2,285.5 L564.6,286.8 L565.8,288.6 L566.8,290.6 L567.7,292.6 L568.6,294.7 L569.5,296.5 L570.5,297.9 L572.2,300.4" fill="none" stroke="#06503c" stroke-width="0.55" stroke-opacity="0.85" stroke-dasharray="3.6 2.2"/>
<path d="M505.1,300.8 L504.5,297.9 L504.1,296.0 L503.7,294.1 L503.3,292.1 L502.8,290.1 L502.4,288.1 L501.9,286.0 L501.4,284.0 L500.8,281.9 L500.2,279.9 L499.6,277.9 L498.9,275.9 L498.2,273.9 L497.4,272.0 L496.5,270.1 L495.6,268.2 L494.6,266.5 L493.5,264.8 L492.4,263.1 L491.2,261.5 L489.8,260.1 L488.4,258.7 L487.0,257.3 L485.4,256.1 L483.8,254.9 L482.2,253.8 L480.4,252.7 L478.7,251.7 L476.9,250.8 L475.1,249.8 L473.2,249.0 L471.4,248.2 L469.5,247.4 L467.6,246.6 L465.6,245.9 L463.7,245.2 L461.7,244.5 L459.8,243.9 L457.8,243.3 L455.8,242.7 L453.8,242.2 L451.8,241.7 L449.8,241.1 L447.8,240.6 L445.8,240.2 L443.8,239.7 L441.8,239.3 L439.8,238.8 L437.7,238.4 L435.7,238.0 L433.7,237.6 L431.7,237.2 L429.7,236.8 L427.7,236.5 L425.7,236.1 L423.7,235.8 L421.7,235.6 L419.7,235.4 L417.7,235.2 L415.7,235.1 L413.7,235.0 L411.6,235.0 L409.6,235.0 L407.5,235.1 L405.5,235.3 L403.4,235.5 L401.3,235.8 L398.3,236.2" fill="none" stroke="#06503c" stroke-width="0.55" stroke-opacity="0.85" stroke-dasharray="3.6 2.2"/>
<path d="M501.9,51.1 L502.2,54.1 L502.4,56.1 L502.5,58.1 L502.7,60.2 L502.9,62.2 L503.0,64.2 L503.2,66.2 L503.3,68.2 L503.4,70.3 L503.6,72.3 L503.7,74.3 L503.8,76.3 L503.9,78.3 L504.0,80.4 L504.1,82.4 L504.2,84.4 L504.3,86.4 L504.4,88.4 L504.5,90.5 L504.6,92.5 L504.6,94.5 L504.7,96.5 L504.8,98.5 L504.8,100.6 L504.8,102.6 L504.9,104.6 L504.9,106.6 L504.9,108.6 L505.0,110.7 L505.0,112.7 L505.0,114.7 L505.0,116.7 L504.9,118.8 L504.9,120.8 L504.9,122.8 L504.9,124.8 L504.8,126.9 L504.8,128.9 L504.7,130.9 L504.6,133.0 L504.6,135.0 L504.5,137.0 L504.4,139.0 L504.3,141.1 L504.2,143.1 L504.2,145.1 L504.1,147.2 L504.0,149.2 L503.9,151.2 L503.8,153.3 L503.7,155.3 L503.6,157.3 L503.6,159.3 L503.5,161.4 L503.4,163.4 L503.4,165.4 L503.3,167.4 L503.3,169.4 L503.2,171.5 L503.2,173.5 L503.3,175.5 L503.3,177.5 L503.4,179.5 L503.6,181.5 L503.8,183.5 L504.2,185.5 L504.5,187.5 L505.0,189.4 L505.5,191.4 L506.0,193.4 L506.6,195.3 L507.3,197.3 L507.9,199.3 L508.6,201.2 L509.3,203.2 L510.0,205.1 L510.7,207.0 L511.4,209.0 L512.1,210.9 L512.7,212.9 L513.3,214.8 L513.8,216.7 L514.3,218.7 L514.8,220.6 L515.1,222.5 L515.4,224.4 L515.6,226.3 L515.6,228.2 L515.5,230.1 L515.3,232.0 L514.8,233.8 L514.1,235.7 L513.3,237.4 L512.1,239.2 L510.7,240.9 L510.7,240.9 L508.8,240.0 L507.0,239.2 L505.1,238.3 L503.2,237.5 L501.3,236.6 L499.5,235.8 L497.6,234.9 L495.7,234.1 L493.8,233.4 L491.9,232.6 L490.0,231.9 L488.1,231.3 L486.1,230.7 L484.1,230.1 L482.2,229.6 L480.2,229.2 L478.1,228.7 L476.1,228.4 L474.1,228.0 L472.1,227.6 L470.0,227.3 L468.0,227.0 L466.0,226.6 L463.9,226.2 L461.9,225.8 L459.9,225.4 L457.9,224.9 L455.9,224.5 L453.9,224.0 L451.9,223.5 L449.9,223.0 L448.0,222.5 L446.0,222.1 L444.0,221.7 L442.0,221.3 L440.0,220.9 L438.0,220.6 L435.9,220.4 L433.9,220.1 L431.9,220.0 L429.8,219.8 L427.8,219.7 L425.7,219.6 L423.7,219.5 L421.6,219.4 L419.5,219.3 L417.5,219.3 L415.4,219.4 L413.4,219.5 L411.4,219.6 L409.3,219.8 L407.3,220.1 L405.3,220.5 L403.3,221.0 L401.3,221.6 L398.4,222.4" fill="none" stroke="#06503c" stroke-width="0.55" stroke-opacity="0.85" stroke-dasharray="3.6 2.2"/>
<path d="M492.9,51.1 L493.4,54.1 L493.7,56.1 L494.0,58.1 L494.3,60.1 L494.6,62.0 L494.9,64.0 L495.1,66.0 L495.4,68.0 L495.6,70.0 L495.8,72.1 L496.0,74.1 L496.2,76.1 L496.4,78.1 L496.6,80.1 L496.7,82.1 L496.9,84.2 L497.0,86.2 L497.2,88.2 L497.3,90.2 L497.4,92.3 L497.5,94.3 L497.5,96.3 L497.6,98.3 L497.6,100.4 L497.7,102.4 L497.7,104.4 L497.7,106.5 L497.7,108.5 L497.7,110.5 L497.6,112.5 L497.6,114.6 L497.5,116.6 L497.5,118.6 L497.4,120.6 L497.3,122.7 L497.2,124.7 L497.0,126.7 L496.9,128.7 L496.7,130.7 L496.6,132.7 L496.4,134.7 L496.2,136.7 L496.0,138.7 L495.8,140.7 L495.5,142.7 L495.3,144.7 L495.0,146.7 L494.7,148.7 L494.4,150.7 L494.1,152.6 L493.8,154.6 L493.4,156.6 L493.1,158.5 L492.7,160.5 L492.3,162.5 L491.9,164.4 L491.5,166.4 L491.0,168.4 L490.6,170.3 L490.1,172.3 L489.6,174.3 L489.1,176.3 L488.6,178.3 L488.1,180.3 L487.5,182.3 L486.9,184.3 L486.3,186.4 L485.7,188.4 L485.0,190.3 L484.2,192.2 L483.4,194.1 L482.5,195.9 L481.5,197.6 L480.4,199.2 L479.2,200.7 L477.8,202.0 L476.3,203.2 L474.7,204.3 L472.9,205.2 L471.1,206.0 L469.2,206.6 L467.2,207.1 L465.2,207.5 L463.1,207.7 L461.1,207.8 L459.1,207.8 L457.1,207.7 L455.1,207.6 L453.1,207.3 L451.1,207.0 L449.1,206.7 L447.1,206.3 L445.1,205.9 L443.1,205.6 L441.1,205.3 L439.1,205.0 L437.1,204.7 L435.1,204.6 L433.1,204.5 L431.1,204.4 L429.0,204.4 L427.0,204.4 L425.0,204.5 L423.0,204.6 L421.0,204.7 L419.0,204.8 L417.0,204.9 L415.0,205.1 L413.0,205.2 L411.0,205.4 L409.1,205.7 L407.1,206.1 L405.1,206.5 L403.2,207.2 L401.3,208.0 L398.5,209.2" fill="none" stroke="#06503c" stroke-width="0.55" stroke-opacity="0.85" stroke-dasharray="3.6 2.2"/>
<path d="M481.1,51.2 L481.8,54.1 L482.3,56.2 L482.8,58.3 L483.2,60.4 L483.7,62.5 L484.1,64.6 L484.5,66.7 L484.9,68.8 L485.3,71.0 L485.6,73.1 L486.0,75.2 L486.3,77.3 L486.6,79.5 L486.9,81.6 L487.2,83.7 L487.5,85.9 L487.7,88.0 L487.9,90.0 L488.0,92.1 L488.0,94.1 L488.1,96.1 L488.0,98.1 L488.0,100.2 L487.9,102.2 L487.8,104.2 L487.7,106.3 L487.5,108.3 L487.3,110.3 L487.0,112.3 L486.7,114.4 L486.4,116.4 L486.1,118.4 L485.8,120.4 L485.4,122.4 L485.0,124.4 L484.5,126.4 L484.1,128.4 L483.6,130.4 L483.1,132.4 L482.6,134.4 L482.1,136.3 L481.6,138.3 L481.0,140.3 L480.4,142.2 L479.8,144.1 L479.2,146.1 L478.6,148.0 L478.0,149.9 L477.4,151.8 L476.7,153.7 L476.1,155.6 L475.4,157.5 L474.7,159.4 L474.0,161.2 L473.2,163.1 L472.5,165.0 L471.7,166.9 L470.8,168.8 L470.0,170.7 L469.1,172.6 L468.2,174.5 L467.2,176.4 L466.2,178.3 L465.1,180.2 L463.9,181.9 L462.6,183.5 L461.2,184.9 L459.6,186.0 L457.9,186.9 L456.2,187.5 L454.3,188.0 L452.3,188.3 L450.3,188.5 L448.2,188.5 L446.1,188.5 L444.1,188.3 L442.0,188.2 L439.9,188.0 L437.9,187.9 L435.9,187.8 L433.9,187.8 L432.0,187.9 L430.0,188.1 L428.0,188.3 L426.0,188.5 L424.0,188.6 L422.0,188.5 L420.0,188.4 L418.0,188.2 L416.0,188.0 L414.0,187.9 L412.0,187.9 L410.1,188.1 L408.2,188.5 L406.4,189.1 L404.6,190.1 L402.9,191.4 L401.3,193.1 L399.2,195.3" fill="none" stroke="#06503c" stroke-width="0.55" stroke-opacity="0.85" stroke-dasharray="3.6 2.2"/>
<path d="M461.7,51.2 L462.4,54.1 L462.9,56.2 L463.5,58.3 L464.1,60.4 L464.7,62.5 L465.4,64.6 L466.0,66.7 L466.6,68.8 L467.3,70.9 L467.9,73.0 L468.5,75.2 L469.0,77.3 L469.5,79.4 L470.0,81.5 L470.5,83.7 L470.9,85.8 L471.2,88.0 L471.2,90.1 L471.2,92.1 L471.1,94.1 L471.0,96.2 L470.9,98.2 L470.8,100.3 L470.6,102.3 L470.4,104.3 L470.1,106.4 L469.9,108.4 L469.6,110.4 L469.3,112.4 L468.9,114.4 L468.5,116.4 L468.2,118.4 L467.7,120.4 L467.3,122.4 L466.9,124.4 L466.4,126.4 L465.9,128.4 L465.4,130.4 L464.9,132.4 L464.4,134.4 L463.8,136.3 L463.2,138.3 L462.6,140.3 L461.9,142.2 L461.2,144.1 L460.5,146.0 L459.6,147.9 L458.7,149.7 L457.8,151.5 L456.7,153.3 L455.6,155.0 L454.4,156.7 L453.0,158.4 L451.6,159.9 L450.1,161.4 L448.4,162.5 L446.7,163.4 L444.8,163.8 L442.9,163.7 L440.8,163.4 L438.8,163.1 L436.7,162.8 L434.7,162.8 L432.7,163.1 L430.7,163.6 L428.8,164.2 L426.8,164.8 L424.9,165.3 L422.9,165.6 L420.9,165.7 L418.9,165.6 L416.9,165.5 L414.9,165.5 L413.0,165.6 L411.1,165.9 L409.3,166.5 L407.6,167.5 L406.0,168.9 L404.4,170.7 L402.9,172.3 L401.3,173.4 L398.8,175.1" fill="none" stroke="#06503c" stroke-width="0.55" stroke-opacity="0.85" stroke-dasharray="3.6 2.2"/>
<path d="M445.5,51.2 L446.4,54.1 L447.1,56.2 L447.7,58.3 L448.4,60.4 L449.0,62.5 L449.7,64.6 L450.3,66.7 L451.0,68.8 L451.6,70.9 L452.2,73.0 L452.7,75.1 L453.3,77.3 L453.8,79.4 L454.3,81.5 L454.8,83.7 L455.2,85.8 L455.6,88.0 L455.3,90.0 L455.1,92.0 L454.9,94.0 L454.7,96.1 L454.5,98.1 L454.3,100.2 L454.1,102.2 L453.8,104.3 L453.4,106.3 L452.9,108.3 L452.4,110.3 L451.8,112.3 L451.0,114.3 L450.1,116.2 L449.1,118.0 L447.9,119.6 L446.5,121.1 L445.0,122.3 L443.4,123.2 L441.5,123.7 L439.6,123.8 L437.5,123.8 L435.4,123.9 L433.5,124.2 L431.7,124.9 L429.9,125.9 L428.2,127.0 L426.5,128.1 L424.7,129.0 L422.9,129.6 L420.9,130.0 L418.8,130.2 L416.8,130.4 L414.9,130.9 L413.2,131.7 L411.7,132.8 L410.3,134.3 L409.0,136.0 L407.9,137.8 L406.8,139.7 L405.7,141.7 L404.7,143.6 L403.6,145.3 L402.5,146.9 L401.3,148.2 L399.2,150.4" fill="none" stroke="#06503c" stroke-width="0.55" stroke-opacity="0.85" stroke-dasharray="3.6 2.2"/>
<path d="M400.9,52.0 L401.3,55.0 L401.6,57.1 L401.9,59.2 L402.3,61.2 L402.7,63.3 L403.0,65.4 L403.4,67.5 L403.7,69.6 L404.1,71.7 L404.4,73.8 L404.7,75.9 L404.9,78.0 L405.2,80.1 L405.3,82.2 L405.4,84.3 L405.5,86.4 L405.5,88.5 L405.4,90.6 L405.2,92.7 L405.0,94.8 L404.6,96.8 L404.2,98.9 L403.6,100.9 L403.0,103.0 L402.2,105.0 L401.3,107.0 L400.1,109.7" fill="none" stroke="#06503c" stroke-width="0.55" stroke-opacity="0.85" stroke-dasharray="3.6 2.2"/>
</g>
<rect x="50.0" y="54.4" width="244.6" height="243.6" stroke="#111" stroke-width="0.62" fill="none"/>
<text x="37.4" y="57.5" font-size="8.9" text-anchor="end">300</text>
<text x="37.4" y="121.1" font-size="8.9" text-anchor="end">400</text>
<text x="37.4" y="170.6" font-size="8.9" text-anchor="end">500</text>
<text x="37.4" y="245.4" font-size="8.9" text-anchor="end">700</text>
<text x="37.4" y="288.3" font-size="8.9" text-anchor="end">850</text>
<text x="307.2" y="95.3" font-size="8.9">8</text>
<text x="307.2" y="217.0" font-size="8.9">4</text>
<path d="M96.7,54.4 v-6.5 M96.7,298.0 v6.5 M220.3,54.4 v-6.5 M220.3,298.0 v6.5 M158.2,54.4 v-3.2 M158.2,298.0 v3.2 M282.0,54.4 v-3.2 M282.0,298.0 v3.2 M50.0,54.4 h-6.5 M50.0,118.0 h-6.5 M50.0,167.5 h-6.5 M50.0,242.3 h-6.5 M50.0,285.2 h-6.5 M294.6,92.2 h6.5 M294.6,213.9 h6.5" stroke="#000" stroke-width="0.75" fill="none"/>
<text x="97.0" y="317.6" font-size="8.9" text-anchor="middle">80W</text>
<text x="220.6" y="317.6" font-size="8.9" text-anchor="middle">70W</text>
<text x="166.4" y="334.7" font-size="14.3" text-anchor="middle">Longitude</text>
<text x="49.7" y="43.3" font-size="13.6">(a) Sandy (2012)</text>
<text x="295.2" y="45.9" font-size="13.75" text-anchor="end">2012/10/28 06Z</text>
<text transform="translate(10.9,175) rotate(-90)" font-size="14.2" text-anchor="middle">Pressure (hPa)</text>
<text transform="translate(329.0,175.3) rotate(-90)" font-size="14.2" text-anchor="middle">Height (km)</text>
<rect x="53.60" y="347.1" width="10.79" height="15.1" fill="#3f1f8f" stroke="#000" stroke-width="0.4" stroke-opacity="0.7"/>
<rect x="64.39" y="347.1" width="10.79" height="15.1" fill="#3841a6" stroke="#000" stroke-width="0.4" stroke-opacity="0.7"/>
<rect x="75.18" y="347.1" width="10.79" height="15.1" fill="#3548a8" stroke="#000" stroke-width="0.4" stroke-opacity="0.7"/>
<rect x="85.97" y="347.1" width="10.79" height="15.1" fill="#3f72b8" stroke="#000" stroke-width="0.4" stroke-opacity="0.7"/>
<rect x="96.76" y="347.1" width="10.79" height="15.1" fill="#5aa0d0" stroke="#000" stroke-width="0.4" stroke-opacity="0.7"/>
<rect x="107.55" y="347.1" width="10.79" height="15.1" fill="#6cc4e0" stroke="#000" stroke-width="0.4" stroke-opacity="0.7"/>
<rect x="118.34" y="347.1" width="10.79" height="15.1" fill="#8cdcd8" stroke="#000" stroke-width="0.4" stroke-opacity="0.7"/>
<rect x="129.13" y="347.1" width="10.79" height="15.1" fill="#88dcc8" stroke="#000" stroke-width="0.4" stroke-opacity="0.7"/>
<rect x="139.92" y="347.1" width="10.79" height="15.1" fill="#84dcb4" stroke="#000" stroke-width="0.4" stroke-opacity="0.7"/>
<rect x="150.71" y="347.1" width="10.79" height="15.1" fill="#94e0a8" stroke="#000" stroke-width="0.4" stroke-opacity="0.7"/>
<rect x="161.50" y="347.1" width="10.79" height="15.1" fill="#b8ecc0" stroke="#000" stroke-width="0.4" stroke-opacity="0.7"/>
<rect x="172.29" y="347.1" width="10.79" height="15.1" fill="#eef8c0" stroke="#000" stroke-width="0.4" stroke-opacity="0.7"/>
<rect x="183.08" y="347.1" width="10.79" height="15.1" fill="#eef080" stroke="#000" stroke-width="0.4" stroke-opacity="0.7"/>
<rect x="193.87" y="347.1" width="10.79" height="15.1" fill="#f4e650" stroke="#000" stroke-width="0.4" stroke-opacity="0.7"/>
<rect x="204.66" y="347.1" width="10.79" height="15.1" fill="#fadc28" stroke="#000" stroke-width="0.4" stroke-opacity="0.7"/>
<rect x="215.45" y="347.1" width="10.79" height="15.1" fill="#fab828" stroke="#000" stroke-width="0.4" stroke-opacity="0.7"/>
<rect x="226.24" y="347.1" width="10.79" height="15.1" fill="#f89020" stroke="#000" stroke-width="0.4" stroke-opacity="0.7"/>
<rect x="237.03" y="347.1" width="10.79" height="15.1" fill="#f05820" stroke="#000" stroke-width="0.4" stroke-opacity="0.7"/>
<rect x="247.82" y="347.1" width="10.79" height="15.1" fill="#e03020" stroke="#000" stroke-width="0.4" stroke-opacity="0.7"/>
<rect x="258.61" y="347.1" width="10.79" height="15.1" fill="#e01848" stroke="#000" stroke-width="0.4" stroke-opacity="0.7"/>
<rect x="269.40" y="347.1" width="10.79" height="15.1" fill="#c80878" stroke="#000" stroke-width="0.4" stroke-opacity="0.7"/>
<rect x="280.19" y="347.1" width="10.79" height="15.1" fill="#881088" stroke="#000" stroke-width="0.4" stroke-opacity="0.7"/>
<text x="64.4" y="371.8" font-size="6.4" text-anchor="middle">-200</text>
<text x="86.0" y="371.8" font-size="6.4" text-anchor="middle">-160</text>
<text x="107.5" y="371.8" font-size="6.4" text-anchor="middle">-120</text>
<text x="129.1" y="371.8" font-size="6.4" text-anchor="middle">-80</text>
<text x="150.7" y="371.8" font-size="6.4" text-anchor="middle">-40</text>
<text x="172.3" y="371.8" font-size="6.4" text-anchor="middle">0</text>
<text x="193.9" y="371.8" font-size="6.4" text-anchor="middle">40</text>
<text x="215.4" y="371.8" font-size="6.4" text-anchor="middle">80</text>
<text x="237.0" y="371.8" font-size="6.4" text-anchor="middle">120</text>
<text x="258.6" y="371.8" font-size="6.4" text-anchor="middle">160</text>
<text x="280.2" y="371.8" font-size="6.4" text-anchor="middle">200</text>
<text x="172.7" y="387.8" font-size="11.2" text-anchor="middle">[Geopotential height anomaly(m)]</text>
<rect x="401.4" y="54.4" width="244.3" height="243.6" stroke="#111" stroke-width="0.62" fill="none"/>
<text x="388.8" y="57.5" font-size="8.9" text-anchor="end">300</text>
<text x="388.8" y="121.1" font-size="8.9" text-anchor="end">400</text>
<text x="388.8" y="170.6" font-size="8.9" text-anchor="end">500</text>
<text x="388.8" y="245.4" font-size="8.9" text-anchor="end">700</text>
<text x="388.8" y="288.3" font-size="8.9" text-anchor="end">850</text>
<text x="658.3" y="95.3" font-size="8.9">8</text>
<text x="658.3" y="217.0" font-size="8.9">4</text>
<path d="M462.3,54.4 v-6.5 M462.3,298.0 v6.5 M584.5,54.4 v-6.5 M584.5,298.0 v6.5 M401.5,54.4 v-3.2 M401.5,298.0 v3.2 M523.6,54.4 v-3.2 M523.6,298.0 v3.2 M645.4,54.4 v-3.2 M645.4,298.0 v3.2 M401.4,54.4 h-6.5 M401.4,118.0 h-6.5 M401.4,167.5 h-6.5 M401.4,242.3 h-6.5 M401.4,285.2 h-6.5 M645.7,92.2 h6.5 M645.7,213.9 h6.5" stroke="#000" stroke-width="0.75" fill="none"/>
<text x="462.6" y="317.6" font-size="8.9" text-anchor="middle">20W</text>
<text x="584.8" y="317.6" font-size="8.9" text-anchor="middle">10W</text>
<text x="524.9" y="334.7" font-size="14.3" text-anchor="middle">Longitude</text>
<text x="401.1" y="43.3" font-size="13.6">(b) Tini (2014)</text>
<text x="646.3" y="45.9" font-size="13.75" text-anchor="end">2014/02/12 06Z</text>
<text transform="translate(362.3,175) rotate(-90)" font-size="14.2" text-anchor="middle">Pressure (hPa)</text>
<text transform="translate(680.1,175.3) rotate(-90)" font-size="14.2" text-anchor="middle">Height (km)</text>
<rect x="404.60" y="347.1" width="10.79" height="15.1" fill="#3f1f8f" stroke="#000" stroke-width="0.4" stroke-opacity="0.7"/>
<rect x="415.39" y="347.1" width="10.79" height="15.1" fill="#3841a6" stroke="#000" stroke-width="0.4" stroke-opacity="0.7"/>
<rect x="426.18" y="347.1" width="10.79" height="15.1" fill="#3548a8" stroke="#000" stroke-width="0.4" stroke-opacity="0.7"/>
<rect x="436.97" y="347.1" width="10.79" height="15.1" fill="#3f72b8" stroke="#000" stroke-width="0.4" stroke-opacity="0.7"/>
<rect x="447.76" y="347.1" width="10.79" height="15.1" fill="#5aa0d0" stroke="#000" stroke-width="0.4" stroke-opacity="0.7"/>
<rect x="458.55" y="347.1" width="10.79" height="15.1" fill="#6cc4e0" stroke="#000" stroke-width="0.4" stroke-opacity="0.7"/>
<rect x="469.34" y="347.1" width="10.79" height="15.1" fill="#8cdcd8" stroke="#000" stroke-width="0.4" stroke-opacity="0.7"/>
<rect x="480.13" y="347.1" width="10.79" height="15.1" fill="#88dcc8" stroke="#000" stroke-width="0.4" stroke-opacity="0.7"/>
<rect x="490.92" y="347.1" width="10.79" height="15.1" fill="#84dcb4" stroke="#000" stroke-width="0.4" stroke-opacity="0.7"/>
<rect x="501.71" y="347.1" width="10.79" height="15.1" fill="#94e0a8" stroke="#000" stroke-width="0.4" stroke-opacity="0.7"/>
<rect x="512.50" y="347.1" width="10.79" height="15.1" fill="#b8ecc0" stroke="#000" stroke-width="0.4" stroke-opacity="0.7"/>
<rect x="523.29" y="347.1" width="10.79" height="15.1" fill="#eef8c0" stroke="#000" stroke-width="0.4" stroke-opacity="0.7"/>
<rect x="534.08" y="347.1" width="10.79" height="15.1" fill="#eef080" stroke="#000" stroke-width="0.4" stroke-opacity="0.7"/>
<rect x="544.87" y="347.1" width="10.79" height="15.1" fill="#f4e650" stroke="#000" stroke-width="0.4" stroke-opacity="0.7"/>
<rect x="555.66" y="347.1" width="10.79" height="15.1" fill="#fadc28" stroke="#000" stroke-width="0.4" stroke-opacity="0.7"/>
<rect x="566.45" y="347.1" width="10.79" height="15.1" fill="#fab828" stroke="#000" stroke-width="0.4" stroke-opacity="0.7"/>
<rect x="577.24" y="347.1" width="10.79" height="15.1" fill="#f89020" stroke="#000" stroke-width="0.4" stroke-opacity="0.7"/>
<rect x="588.03" y="347.1" width="10.79" height="15.1" fill="#f05820" stroke="#000" stroke-width="0.4" stroke-opacity="0.7"/>
<rect x="598.82" y="347.1" width="10.79" height="15.1" fill="#e03020" stroke="#000" stroke-width="0.4" stroke-opacity="0.7"/>
<rect x="609.61" y="347.1" width="10.79" height="15.1" fill="#e01848" stroke="#000" stroke-width="0.4" stroke-opacity="0.7"/>
<rect x="620.40" y="347.1" width="10.79" height="15.1" fill="#c80878" stroke="#000" stroke-width="0.4" stroke-opacity="0.7"/>
<rect x="631.19" y="347.1" width="10.79" height="15.1" fill="#881088" stroke="#000" stroke-width="0.4" stroke-opacity="0.7"/>
<text x="415.4" y="371.8" font-size="6.4" text-anchor="middle">-100</text>
<text x="437.0" y="371.8" font-size="6.4" text-anchor="middle">-80</text>
<text x="458.6" y="371.8" font-size="6.4" text-anchor="middle">-60</text>
<text x="480.1" y="371.8" font-size="6.4" text-anchor="middle">-40</text>
<text x="501.7" y="371.8" font-size="6.4" text-anchor="middle">-20</text>
<text x="523.3" y="371.8" font-size="6.4" text-anchor="middle">0</text>
<text x="544.9" y="371.8" font-size="6.4" text-anchor="middle">20</text>
<text x="566.5" y="371.8" font-size="6.4" text-anchor="middle">40</text>
<text x="588.0" y="371.8" font-size="6.4" text-anchor="middle">60</text>
<text x="609.6" y="371.8" font-size="6.4" text-anchor="middle">80</text>
<text x="631.2" y="371.8" font-size="6.4" text-anchor="middle">100</text>
<text x="523.9" y="387.8" font-size="11.2" text-anchor="middle">[Geopotential height anomaly(m)]</text>
</svg>
</body></html>
